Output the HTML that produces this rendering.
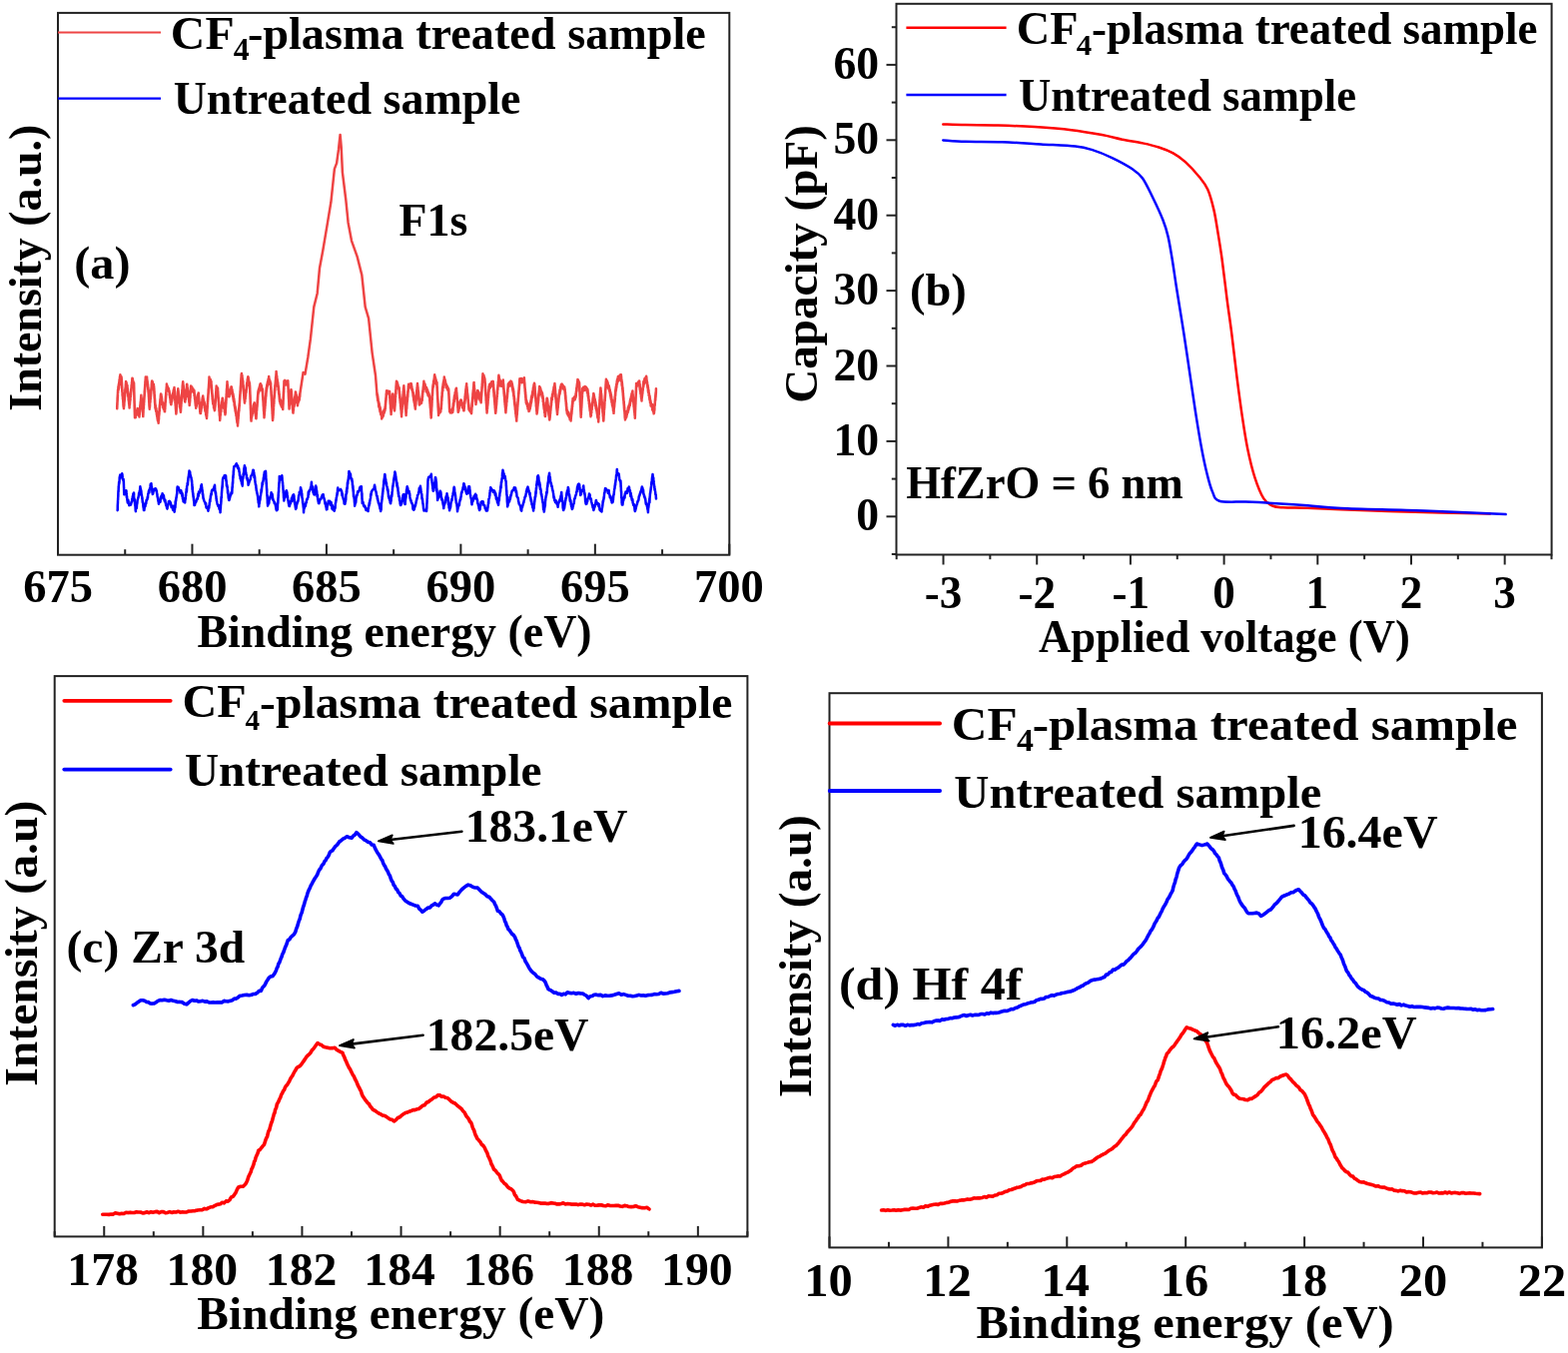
<!DOCTYPE html>
<html><head><meta charset="utf-8"><title>Figure</title>
<style>
html,body{margin:0;padding:0;background:#fff;overflow:hidden;}
svg{display:block;}
text{font-family:"Liberation Serif","Times New Roman",serif;font-weight:bold;fill:#000;}
</style></head>
<body>
<svg width="1570" height="1355" viewBox="0 0 1570 1355">
<rect width="1570" height="1355" fill="#fff"/>
<rect x="58.00" y="12.90" width="672.30" height="542.80" fill="none" stroke="#222" stroke-width="2"/>
<line x1="58.00" y1="555.70" x2="58.00" y2="544.70" stroke="#222" stroke-width="2" stroke-linecap="butt"/>
<line x1="192.46" y1="555.70" x2="192.46" y2="544.70" stroke="#222" stroke-width="2" stroke-linecap="butt"/>
<line x1="326.92" y1="555.70" x2="326.92" y2="544.70" stroke="#222" stroke-width="2" stroke-linecap="butt"/>
<line x1="461.38" y1="555.70" x2="461.38" y2="544.70" stroke="#222" stroke-width="2" stroke-linecap="butt"/>
<line x1="595.84" y1="555.70" x2="595.84" y2="544.70" stroke="#222" stroke-width="2" stroke-linecap="butt"/>
<line x1="730.30" y1="555.70" x2="730.30" y2="544.70" stroke="#222" stroke-width="2" stroke-linecap="butt"/>
<line x1="125.23" y1="555.70" x2="125.23" y2="550.20" stroke="#222" stroke-width="2" stroke-linecap="butt"/>
<line x1="259.69" y1="555.70" x2="259.69" y2="550.20" stroke="#222" stroke-width="2" stroke-linecap="butt"/>
<line x1="394.15" y1="555.70" x2="394.15" y2="550.20" stroke="#222" stroke-width="2" stroke-linecap="butt"/>
<line x1="528.61" y1="555.70" x2="528.61" y2="550.20" stroke="#222" stroke-width="2" stroke-linecap="butt"/>
<line x1="663.07" y1="555.70" x2="663.07" y2="550.20" stroke="#222" stroke-width="2" stroke-linecap="butt"/>
<line x1="58.00" y1="32.50" x2="161.00" y2="32.50" stroke="#ee4444" stroke-width="2.2" stroke-linecap="butt"/>
<line x1="58.00" y1="98.70" x2="161.00" y2="98.70" stroke="#0000ff" stroke-width="2.2" stroke-linecap="butt"/>
<text x="170.86" y="48.50" font-size="47.00" textLength="63.74" lengthAdjust="spacingAndGlyphs">CF</text>
<text x="233.86" y="60.40" font-size="31.00" textLength="15.85" lengthAdjust="spacingAndGlyphs">4</text>
<text x="247.89" y="48.50" font-size="47.00" textLength="459.01" lengthAdjust="spacingAndGlyphs">-plasma treated sample</text>
<text x="173.65" y="114.20" font-size="46.50" textLength="347.84" lengthAdjust="spacingAndGlyphs">Untreated sample</text>
<text x="399.52" y="236.30" font-size="47.00" textLength="68.78" lengthAdjust="spacingAndGlyphs">F1s</text>
<text x="74.27" y="279.20" font-size="46.40" textLength="56.35" lengthAdjust="spacingAndGlyphs">(a)</text>
<text transform="translate(41.00,410.20) rotate(-90)" x="-1.56" y="0" font-size="47.00" textLength="287.16" lengthAdjust="spacingAndGlyphs">Intensity (a.u.)</text>
<text x="23.17" y="602.60" font-size="46.30" textLength="69.80" lengthAdjust="spacingAndGlyphs">675</text>
<text x="157.65" y="602.60" font-size="46.30" textLength="69.80" lengthAdjust="spacingAndGlyphs">680</text>
<text x="292.09" y="602.60" font-size="46.30" textLength="69.80" lengthAdjust="spacingAndGlyphs">685</text>
<text x="426.57" y="602.60" font-size="46.30" textLength="69.80" lengthAdjust="spacingAndGlyphs">690</text>
<text x="561.01" y="602.60" font-size="46.30" textLength="69.80" lengthAdjust="spacingAndGlyphs">695</text>
<text x="694.96" y="602.60" font-size="46.30" textLength="69.80" lengthAdjust="spacingAndGlyphs">700</text>
<text x="197.42" y="648.30" font-size="45.50" textLength="395.19" lengthAdjust="spacingAndGlyphs">Binding energy (eV)</text>
<polyline points="117.20,407.09 117.24,409.35 117.28,405.41 117.32,408.03 117.36,403.51 117.40,405.61 117.43,403.19 117.47,405.58 117.51,401.31 117.55,403.05 117.59,398.53 117.63,402.04 117.67,397.39 117.71,400.62 117.75,396.31 117.79,398.59 117.83,394.89 117.87,398.46 117.90,393.65 117.94,396.80 117.98,391.95 118.02,394.13 118.06,390.36 118.10,393.66 118.21,389.77 118.32,391.23 118.43,387.33 118.54,390.62 118.65,386.19 118.76,389.95 118.87,384.79 118.98,388.62 119.09,383.96 119.20,386.99 119.30,382.46 119.41,385.83 119.52,380.26 119.63,382.89 119.74,380.20 119.85,381.70 119.96,377.28 120.07,380.69 120.18,376.49 120.29,379.03 120.40,375.30 120.80,379.12 121.20,376.85 121.60,380.74 121.64,377.78 121.69,382.78 121.73,379.05 121.77,384.27 121.82,380.19 121.86,385.83 121.91,381.97 121.95,385.78 121.99,383.08 122.04,388.69 122.08,384.45 122.12,389.42 122.17,386.25 122.21,390.21 122.26,387.48 122.30,392.32 122.36,389.91 122.43,392.82 122.49,390.30 122.56,395.93 122.62,393.12 122.68,397.01 122.75,393.96 122.81,397.25 122.88,395.59 122.94,399.80 123.00,395.96 123.07,399.90 123.13,397.86 123.20,401.33 123.26,399.09 123.32,403.27 123.39,400.22 123.45,405.88 123.52,402.33 123.58,407.34 123.64,404.11 123.71,407.08 123.77,405.00 123.84,408.43 123.90,407.16 123.96,409.11 124.03,404.98 124.09,407.22 124.16,404.58 124.22,407.09 124.29,402.66 124.35,405.82 124.42,400.17 124.48,403.34 124.55,399.53 124.61,402.16 124.68,397.77 124.74,400.87 124.81,396.50 124.87,399.49 124.94,394.37 125.00,397.85 125.06,393.87 125.13,396.81 125.19,392.79 125.26,394.62 125.32,390.02 125.39,393.59 125.45,389.37 125.52,391.23 125.58,388.18 125.65,390.84 125.71,387.47 125.78,389.47 125.84,384.93 125.91,387.03 125.97,383.51 126.04,386.34 126.10,381.98 126.36,386.08 126.62,383.25 126.88,388.10 127.14,385.82 127.40,388.19 127.48,385.99 127.56,391.24 127.64,388.17 127.71,391.72 127.79,388.96 127.87,392.88 127.95,390.78 128.03,394.28 128.11,392.18 128.19,396.20 128.26,393.71 128.34,397.21 128.42,394.26 128.50,397.98 128.58,396.04 128.66,400.68 128.74,397.92 128.81,401.15 128.89,398.42 128.97,402.59 129.05,400.95 129.13,404.35 129.21,401.43 129.29,405.15 129.36,403.52 129.44,406.98 129.52,404.00 129.60,408.58 129.68,403.96 129.75,406.68 129.83,403.49 129.91,406.14 129.98,401.08 130.06,404.37 130.13,400.87 130.21,402.36 130.29,398.91 130.36,401.07 130.44,396.99 130.52,400.84 130.59,396.72 130.67,398.41 130.74,394.17 130.82,397.66 130.90,392.76 130.97,395.71 131.05,392.58 131.13,394.21 131.20,389.96 131.28,392.76 131.36,389.37 131.43,391.61 131.51,387.82 131.58,390.19 131.66,385.50 131.74,388.32 131.81,385.76 131.89,388.34 131.97,382.76 132.04,387.01 132.12,382.16 132.19,385.53 132.27,379.85 132.35,382.79 132.42,378.77 132.50,382.50 132.73,378.96 132.96,383.41 133.19,381.12 133.41,384.57 133.64,382.72 133.87,385.56 134.10,383.55 134.12,387.41 134.14,384.56 134.16,388.38 134.18,385.80 134.20,390.98 134.22,387.18 134.24,392.76 134.26,388.63 134.28,393.59 134.30,391.66 134.32,395.31 134.33,392.79 134.35,395.91 134.37,393.30 134.39,397.73 134.41,395.17 134.43,399.90 134.45,396.22 134.47,400.23 134.49,398.29 134.51,402.59 134.53,399.29 134.55,403.85 134.57,400.94 134.59,404.20 134.61,402.02 134.63,406.74 134.65,404.09 134.67,408.11 134.69,404.14 134.71,409.55 134.73,405.73 134.75,409.51 134.77,407.50 134.78,412.48 134.80,409.96 134.82,412.82 134.84,410.98 134.86,414.69 134.88,412.11 134.90,416.01 134.92,412.88 134.94,416.56 134.96,415.61 134.98,418.20 135.00,416.89 135.26,418.10 135.52,413.95 135.78,418.14 136.04,414.16 136.30,416.09 136.56,412.35 136.82,414.35 137.08,410.88 137.34,413.56 137.60,409.05 137.87,413.07 138.14,411.23 138.41,414.46 138.69,412.81 138.96,416.33 139.23,413.19 139.50,417.47 139.57,414.36 139.65,415.68 139.72,412.41 139.79,415.03 139.87,410.24 139.94,413.20 140.01,408.78 140.08,412.22 140.16,408.03 140.23,410.34 140.30,406.49 140.38,409.52 140.45,405.20 140.52,408.08 140.60,403.71 140.67,405.84 140.74,402.15 140.82,405.24 140.89,401.57 140.96,403.32 141.03,399.50 141.11,402.73 141.18,397.15 141.25,400.38 141.33,395.80 141.40,399.72 141.48,396.96 141.56,400.57 141.64,398.66 141.72,402.64 141.80,399.12 141.88,404.22 141.95,400.32 142.03,405.26 142.11,401.87 142.19,406.51 142.27,404.46 142.35,408.00 142.43,406.08 142.51,408.63 142.59,406.12 142.67,409.89 142.75,408.81 142.83,411.44 142.90,408.81 142.98,413.02 143.06,411.81 143.14,415.67 143.22,413.08 143.30,417.12 143.35,412.09 143.40,415.69 143.45,410.17 143.50,413.82 143.55,409.05 143.59,411.42 143.64,407.70 143.69,410.88 143.74,406.38 143.79,408.74 143.84,404.91 143.89,408.83 143.94,404.76 143.99,406.32 144.04,402.43 144.08,405.82 144.13,401.61 144.18,403.24 144.23,400.19 144.28,402.62 144.33,397.87 144.38,400.81 144.43,397.16 144.48,399.41 144.53,395.78 144.57,398.04 144.62,394.86 144.67,396.78 144.72,391.84 144.77,395.21 144.82,390.84 144.87,393.35 144.92,389.53 144.97,393.02 145.02,388.16 145.06,391.18 145.11,387.09 145.16,390.00 145.21,384.93 145.26,387.69 145.31,384.98 145.36,387.38 145.41,382.08 145.46,385.55 145.51,381.54 145.55,384.51 145.60,380.60 145.65,382.28 145.70,379.17 145.75,381.45 145.80,377.55 146.45,380.45 147.10,377.56 147.19,382.83 147.29,379.72 147.38,383.82 147.48,380.94 147.57,385.52 147.66,382.06 147.76,385.89 147.85,384.17 147.95,386.88 148.04,385.12 148.14,388.97 148.23,387.12 148.32,390.37 148.42,388.28 148.51,392.55 148.61,390.04 148.70,394.38 148.74,390.86 148.79,395.10 148.83,392.32 148.87,396.97 148.92,393.11 148.96,397.90 149.00,395.17 149.05,399.63 149.09,395.92 149.13,400.48 149.18,397.58 149.22,402.94 149.27,399.50 149.31,403.04 149.35,401.35 149.40,405.36 149.44,401.99 149.48,407.24 149.53,403.10 149.57,407.37 149.61,405.74 149.66,408.83 149.70,407.18 149.77,409.65 149.84,404.54 149.91,408.59 149.98,404.22 150.05,407.11 150.12,402.70 150.19,404.89 150.26,400.53 150.32,402.86 150.39,400.27 150.46,402.81 150.53,398.49 150.60,400.52 150.67,396.55 150.74,399.68 150.81,396.17 150.88,397.65 150.95,393.98 151.02,396.51 151.09,392.97 151.16,395.27 151.23,390.20 151.30,393.50 151.37,389.53 151.44,391.59 151.51,388.60 151.57,391.17 151.64,387.48 151.71,390.15 151.78,384.62 151.85,387.30 151.92,383.14 151.99,386.39 152.06,382.03 152.13,385.67 152.20,381.48 152.47,385.54 152.74,382.29 153.01,387.23 153.29,384.45 153.56,388.60 153.83,384.64 154.10,389.90 154.15,386.86 154.20,390.31 154.25,388.36 154.30,392.17 154.35,389.37 154.40,394.18 154.45,391.07 154.50,394.70 154.55,392.35 154.60,396.94 154.65,394.62 154.70,398.84 154.75,395.18 154.80,398.87 154.85,396.10 154.90,400.32 154.95,398.61 155.00,402.80 155.05,399.55 155.10,403.92 155.15,400.88 155.20,405.17 155.25,402.92 155.30,406.08 155.35,404.78 155.40,408.48 155.54,404.94 155.68,409.56 155.82,406.36 155.96,410.62 156.10,408.61 156.23,412.05 156.37,408.90 156.51,412.82 156.65,410.96 156.79,414.59 156.93,411.87 157.07,416.17 157.21,414.06 157.35,417.65 157.49,415.07 157.63,419.71 157.77,416.80 157.90,421.24 158.04,418.63 158.18,421.59 158.32,420.05 158.46,422.69 158.60,420.20 158.66,423.80 158.73,419.87 158.79,421.41 158.86,418.04 158.92,421.01 158.98,415.90 159.05,419.61 159.11,414.90 159.18,417.10 159.24,413.84 159.31,415.78 159.37,412.20 159.43,415.05 159.50,411.38 159.56,413.06 159.63,408.92 159.69,411.25 159.75,407.47 159.82,411.40 159.88,405.79 159.95,409.07 160.01,405.10 160.07,408.02 160.14,403.54 160.20,407.33 160.27,402.04 160.33,404.69 160.39,400.31 160.46,403.61 160.52,399.37 160.59,402.64 160.65,399.05 160.72,401.31 160.78,396.44 160.84,399.40 160.91,395.28 160.97,397.93 161.04,394.47 161.10,396.64 161.21,394.74 161.32,397.97 161.43,395.02 161.53,399.26 161.64,396.55 161.75,401.58 161.86,397.34 161.97,401.46 162.07,398.90 162.18,403.73 162.29,401.64 162.40,404.64 162.64,402.70 162.87,405.52 163.11,403.54 163.35,408.47 163.58,405.33 163.82,409.76 164.05,406.06 164.29,409.82 164.53,407.16 164.76,412.07 165.00,408.43 165.06,412.27 165.11,407.35 165.17,410.17 165.22,405.80 165.28,409.82 165.34,404.28 165.39,407.49 165.45,403.05 165.50,406.16 165.56,402.80 165.61,403.93 165.67,401.44 165.73,402.79 165.78,399.86 165.84,401.91 165.89,397.46 165.95,400.56 166.01,396.54 166.06,399.34 166.12,395.33 166.17,397.58 166.23,393.08 166.29,396.04 166.34,392.71 166.40,395.52 166.45,390.30 166.51,393.13 166.56,389.52 166.62,392.00 166.68,387.68 166.73,390.02 166.79,387.34 166.84,388.57 166.90,384.49 167.21,388.38 167.53,386.36 167.84,389.75 168.15,388.09 168.46,390.98 168.78,389.01 169.09,392.25 169.40,390.97 169.51,393.49 169.61,392.12 169.72,395.59 169.82,393.73 169.93,396.15 170.03,394.44 170.14,398.26 170.24,395.38 170.35,399.02 170.46,397.34 170.56,401.06 170.67,399.44 170.77,403.51 170.88,400.50 170.98,403.33 171.09,401.45 171.19,404.87 171.30,402.59 171.45,405.21 171.59,402.10 171.74,403.29 171.88,399.61 172.03,402.30 172.17,398.11 172.32,401.26 172.46,396.46 172.61,399.57 172.75,396.31 172.90,398.11 173.05,393.89 173.19,397.38 173.34,393.36 173.48,395.02 173.63,391.35 173.77,395.22 173.92,390.12 174.06,392.07 174.21,389.76 174.35,390.84 174.50,388.11 174.56,390.76 174.61,389.75 174.67,393.31 174.72,389.64 174.78,393.92 174.84,390.94 174.89,395.85 174.95,392.68 175.00,398.08 175.06,393.86 175.11,397.90 175.17,396.44 175.23,400.38 175.28,396.70 175.34,400.86 175.39,399.32 175.45,403.68 175.51,401.08 175.56,404.27 175.62,402.11 175.67,406.23 175.73,402.45 175.79,406.74 175.84,404.23 175.90,409.18 175.95,405.48 176.01,410.28 176.06,406.75 176.12,411.37 176.18,409.11 176.23,412.55 176.29,409.87 176.34,414.44 176.40,412.23 176.46,413.87 176.52,409.97 176.58,413.23 176.64,408.55 176.70,411.39 176.76,407.52 176.82,409.53 176.88,405.68 176.93,407.85 176.99,404.68 177.05,407.75 177.11,402.86 177.17,405.11 177.23,402.23 177.29,405.03 177.35,400.05 177.41,403.66 177.47,398.19 177.53,401.44 177.59,396.71 177.65,400.52 177.71,396.30 177.77,398.42 177.83,395.34 177.88,397.04 177.94,392.29 178.00,395.06 178.06,391.56 178.12,393.64 178.18,391.01 178.24,393.18 178.30,389.28 178.39,392.07 178.48,390.85 178.57,394.56 178.66,391.47 178.75,394.82 178.84,393.52 178.93,397.96 179.02,394.95 179.11,398.63 179.20,395.99 179.29,400.44 179.38,397.06 179.47,401.86 179.56,398.59 179.64,402.17 179.73,400.65 179.82,403.38 179.91,400.88 180.00,404.85 180.09,403.75 180.18,407.81 180.27,404.83 180.36,409.09 180.45,406.45 180.54,409.71 180.63,407.60 180.72,411.78 180.81,408.30 180.90,412.85 180.96,408.03 181.02,411.85 181.07,407.37 181.13,409.95 181.19,405.77 181.25,407.63 181.31,403.64 181.36,407.10 181.42,402.27 181.48,404.98 181.54,401.35 181.59,404.03 181.65,399.59 181.71,401.91 181.77,398.87 181.83,401.24 181.88,397.96 181.94,399.94 182.00,395.33 182.06,398.29 182.12,394.07 182.17,397.21 182.23,393.45 182.29,395.33 182.35,390.61 182.41,393.88 182.46,390.22 182.52,392.01 182.58,389.19 182.64,390.74 182.69,386.48 182.75,390.35 182.81,385.17 182.87,389.41 182.93,384.23 182.98,387.89 183.04,382.95 183.10,385.54 183.19,382.21 183.28,387.86 183.36,383.64 183.45,388.53 183.54,385.39 183.63,389.82 183.72,386.42 183.80,392.18 183.89,389.13 183.98,393.64 184.07,390.76 184.16,393.55 184.24,391.21 184.33,395.34 184.42,393.01 184.51,397.40 184.60,395.32 184.68,399.02 184.77,396.32 184.86,399.89 184.95,397.63 185.04,401.88 185.12,398.33 185.21,402.49 185.30,400.93 185.39,402.50 185.47,398.93 185.56,400.65 185.65,397.95 185.73,400.45 185.82,395.51 185.90,399.40 185.99,393.56 186.08,397.77 186.16,393.21 186.25,395.02 186.34,391.88 186.42,394.13 186.51,390.04 186.60,392.83 186.68,388.90 186.77,391.95 186.85,387.59 186.94,389.79 187.03,385.05 187.11,388.97 187.20,384.68 187.30,387.93 187.40,385.17 187.50,388.93 187.60,387.83 187.70,391.30 187.80,388.51 187.90,392.06 188.00,390.82 188.10,393.56 188.20,390.93 188.30,395.45 188.40,391.98 188.50,397.46 188.60,393.40 188.70,397.52 188.80,396.27 188.90,398.90 189.00,397.24 189.10,400.91 189.20,399.36 189.30,402.72 189.40,400.70 189.50,403.71 189.60,401.85 189.70,406.03 189.80,402.96 189.86,405.03 189.92,402.19 189.98,403.89 190.04,399.69 190.10,402.90 190.15,397.72 190.21,401.69 190.27,397.49 190.33,399.02 190.39,395.11 190.45,398.77 190.51,394.12 190.57,397.40 190.63,392.60 190.69,394.95 190.75,391.85 190.80,393.02 190.86,389.54 190.92,393.18 190.98,387.62 191.04,390.95 191.10,386.61 191.63,391.60 192.17,387.41 192.70,392.08 193.23,389.20 193.77,392.99 194.30,390.71 194.39,393.64 194.48,391.22 194.57,396.56 194.66,392.92 194.75,396.94 194.84,394.72 194.93,398.47 195.02,395.35 195.11,399.92 195.20,396.51 195.30,400.82 195.39,399.13 195.48,402.94 195.57,400.40 195.66,404.99 195.75,401.09 195.84,406.58 195.93,402.93 196.02,406.39 196.11,404.45 196.20,408.78 196.35,404.62 196.49,406.87 196.64,402.79 196.79,406.59 196.94,402.47 197.08,404.73 197.23,400.56 197.38,403.02 197.52,398.18 197.67,402.41 197.82,397.22 197.96,399.59 198.11,395.29 198.26,398.14 198.41,394.85 198.55,397.90 198.70,393.54 198.77,396.89 198.85,393.82 198.92,399.54 198.99,396.40 199.07,399.97 199.14,397.90 199.21,400.93 199.28,399.39 199.36,403.90 199.43,401.13 199.50,403.97 199.58,402.34 199.65,405.12 199.72,403.18 199.80,407.76 199.87,404.04 199.94,408.99 200.02,405.51 200.09,409.28 200.16,407.91 200.23,412.45 200.31,409.73 200.38,412.62 200.45,410.41 200.53,414.05 200.60,411.73 200.72,413.67 200.84,410.89 200.95,413.92 201.07,409.66 201.19,412.43 201.31,408.20 201.43,411.19 201.55,405.89 201.66,409.16 201.78,405.46 201.90,406.68 202.02,402.94 202.14,405.50 202.25,402.57 202.37,405.28 202.49,399.93 202.61,402.47 202.73,398.37 202.85,401.95 202.96,398.02 203.08,399.77 203.20,396.61 203.34,401.39 203.48,398.23 203.62,401.25 203.76,399.90 203.90,402.67 204.04,400.95 204.19,405.52 204.33,402.87 204.47,405.63 204.61,402.72 204.75,408.52 204.89,404.07 205.03,408.57 205.17,406.63 205.31,411.28 205.45,407.81 205.59,412.25 205.73,409.55 205.87,412.43 206.01,410.91 206.16,415.18 206.30,411.54 206.44,416.27 206.58,413.54 206.72,417.64 206.86,415.00 207.00,419.05 207.05,414.30 207.09,417.04 207.14,413.34 207.19,416.98 207.24,411.48 207.28,414.21 207.33,409.87 207.38,414.01 207.42,409.91 207.47,411.56 207.52,408.45 207.57,409.78 207.61,405.64 207.66,409.02 207.71,404.43 207.75,407.09 207.80,404.59 207.85,407.06 207.90,401.77 207.94,405.88 207.99,400.57 208.04,403.64 208.08,399.03 208.13,401.45 208.18,398.04 208.23,400.68 208.27,397.35 208.32,399.57 208.37,395.63 208.42,398.00 208.46,394.14 208.51,396.26 208.56,392.77 208.60,395.37 208.65,390.24 208.70,394.58 208.75,389.05 208.79,393.00 208.84,388.70 208.89,391.86 208.93,387.33 208.98,388.90 209.03,385.51 209.08,388.61 209.12,384.40 209.17,387.05 209.22,383.11 209.26,386.24 209.31,381.40 209.36,383.95 209.41,379.85 209.45,383.27 209.50,377.62 210.10,382.58 210.70,379.88 211.30,384.00 211.36,381.90 211.43,385.06 211.49,381.89 211.55,387.11 211.62,384.73 211.68,388.66 211.74,385.54 211.81,390.29 211.87,386.98 211.93,390.30 212.00,388.06 212.06,392.93 212.12,389.68 212.19,394.31 212.25,390.58 212.31,394.79 212.38,392.73 212.44,396.46 212.50,393.96 212.57,397.62 212.63,394.90 212.69,399.95 212.76,396.43 212.82,400.03 212.88,398.50 212.95,401.84 213.01,399.19 213.07,402.83 213.14,401.57 213.20,404.56 213.41,402.62 213.62,405.46 213.83,403.57 214.04,408.50 214.26,405.00 214.47,409.59 214.68,405.89 214.89,411.19 215.10,407.16 215.15,410.48 215.20,406.18 215.25,408.50 215.31,404.42 215.36,407.57 215.41,403.75 215.46,407.10 215.51,402.70 215.56,404.43 215.62,400.32 215.67,403.77 215.72,400.27 215.77,401.33 215.82,398.38 215.87,399.89 215.93,396.10 215.98,398.81 216.03,395.72 216.08,397.79 216.13,393.89 216.18,396.47 216.24,392.28 216.29,395.48 216.34,391.23 216.39,393.06 216.44,388.84 216.49,392.74 216.55,389.07 216.60,390.88 216.65,386.45 216.70,390.49 217.02,387.65 217.35,390.00 217.68,388.20 218.00,392.05 218.06,388.79 218.11,394.19 218.16,391.22 218.22,394.85 218.28,392.17 218.33,397.10 218.38,394.27 218.44,397.61 218.50,395.88 218.55,399.47 218.60,397.40 218.66,401.41 218.72,397.90 218.77,402.16 218.82,400.10 218.88,402.94 218.94,400.81 218.99,405.49 219.04,402.09 219.10,405.85 219.16,402.69 219.21,407.94 219.26,404.92 219.32,408.51 219.38,406.74 219.43,411.18 219.48,408.45 219.54,411.92 219.59,408.96 219.65,413.00 219.70,410.10 219.76,415.42 219.81,411.34 219.87,416.51 219.92,413.94 219.98,416.68 220.03,414.92 220.09,418.54 220.14,416.76 220.20,420.97 220.30,416.71 220.39,419.45 220.49,413.97 220.58,416.74 220.68,412.58 220.78,415.81 220.87,412.43 220.97,414.00 221.07,411.31 221.16,413.13 221.26,409.25 221.35,412.35 221.45,407.00 221.55,409.47 221.64,406.36 221.74,408.64 221.83,405.34 221.93,406.96 222.03,403.75 222.12,406.34 222.22,402.18 222.32,403.84 222.41,400.96 222.51,403.02 222.60,398.91 222.70,401.23 222.85,398.66 223.01,402.59 223.16,400.13 223.31,404.73 223.46,402.45 223.62,406.41 223.77,403.48 223.92,407.45 224.07,404.53 224.23,409.03 224.38,406.23 224.53,409.41 224.68,407.03 224.84,412.29 224.99,408.99 225.14,413.20 225.29,410.81 225.45,415.21 225.60,411.47 225.65,413.98 225.69,409.83 225.74,413.97 225.78,409.28 225.83,412.58 225.87,407.63 225.92,409.69 225.96,405.80 226.01,408.58 226.05,404.36 226.10,407.62 226.14,404.10 226.19,406.11 226.23,401.34 226.28,404.61 226.32,400.50 226.37,403.91 226.41,399.26 226.46,401.83 226.50,397.61 226.55,401.03 226.60,396.90 226.64,398.30 226.69,394.48 226.73,397.73 226.78,393.91 226.82,396.94 226.87,391.44 226.91,394.90 226.96,389.85 227.00,394.03 227.05,388.88 227.09,391.63 227.14,388.82 227.18,390.93 227.23,386.10 227.27,388.93 227.32,385.16 227.36,387.92 227.41,384.17 227.45,386.75 227.50,382.20 227.59,386.20 227.69,384.46 227.78,387.94 227.88,385.51 227.97,389.69 228.06,387.21 228.16,390.52 228.25,388.60 228.35,391.98 228.44,389.35 228.54,392.87 228.63,391.73 228.72,394.99 228.82,392.90 228.91,396.46 229.01,394.40 229.10,397.16 229.36,393.74 229.62,397.26 229.88,391.74 230.14,395.12 230.40,391.20 230.66,392.90 230.92,390.02 231.18,391.95 231.44,387.41 231.70,390.19 231.86,387.41 232.01,392.29 232.17,389.79 232.32,393.33 232.48,390.26 232.64,394.63 232.79,392.41 232.95,396.66 233.11,394.53 233.26,397.57 233.42,394.53 233.57,400.04 233.73,396.43 233.89,401.69 234.04,399.02 234.20,402.76 234.31,399.25 234.42,403.28 234.54,401.17 234.65,406.03 234.76,402.80 234.87,407.03 234.98,404.48 235.09,408.25 235.21,405.68 235.32,409.35 235.43,406.88 235.54,411.39 235.65,407.59 235.76,412.12 235.88,409.08 235.99,413.36 236.10,410.26 236.21,414.44 236.32,412.12 236.44,416.43 236.55,413.79 236.66,416.84 236.77,415.58 236.88,419.30 236.99,416.89 237.11,420.91 237.22,417.74 237.33,422.65 237.44,418.51 237.55,423.63 237.66,420.76 237.78,423.77 237.89,421.81 238.00,426.44 238.06,421.14 238.13,424.04 238.19,421.12 238.25,424.05 238.32,418.66 238.38,421.74 238.44,417.25 238.51,419.73 238.57,416.20 238.63,419.26 238.70,414.68 238.76,416.93 238.82,414.13 238.89,416.37 238.95,411.36 239.01,414.08 239.08,411.55 239.14,412.57 239.20,408.73 239.27,411.72 239.33,407.92 239.39,411.42 239.46,406.23 239.52,408.68 239.58,404.66 239.65,406.80 239.71,404.02 239.77,406.66 239.84,402.81 239.90,404.04 239.95,400.77 240.00,403.17 240.04,398.54 240.09,401.35 240.14,397.45 240.19,400.47 240.23,396.04 240.28,399.17 240.33,394.88 240.38,397.55 240.42,394.28 240.47,396.37 240.52,391.83 240.56,394.77 240.61,391.46 240.66,393.50 240.71,390.30 240.75,391.91 240.80,388.03 240.85,390.92 240.90,386.58 240.95,389.05 240.99,386.22 241.04,387.17 241.09,384.24 241.14,386.07 241.18,382.42 241.23,384.79 241.28,380.66 241.33,384.00 241.37,379.44 241.42,382.84 241.47,378.29 241.52,380.87 241.56,377.27 241.61,378.80 241.66,374.98 241.71,378.20 241.75,374.84 241.80,377.57 241.93,373.96 242.06,378.41 242.19,375.62 242.32,378.91 242.45,376.00 242.58,380.39 242.71,378.55 242.84,383.30 242.97,380.40 243.10,383.79 243.17,381.15 243.23,384.74 243.30,381.76 243.36,386.46 243.43,384.83 243.49,387.98 243.56,386.26 243.62,389.82 243.69,386.10 243.76,391.60 243.82,389.01 243.89,392.59 243.95,389.96 244.02,393.64 244.08,391.38 244.15,394.75 244.21,393.10 244.28,396.74 244.34,394.59 244.41,398.77 244.48,396.09 244.54,400.19 244.61,397.23 244.67,400.00 244.74,397.64 244.80,402.23 244.87,399.01 244.93,403.60 245.00,400.67 245.09,402.84 245.18,399.21 245.27,402.23 245.37,397.29 245.46,399.92 245.55,397.53 245.64,399.75 245.73,394.58 245.82,397.90 245.91,393.58 246.01,396.76 246.10,392.78 246.19,395.20 246.28,391.01 246.37,393.02 246.46,390.16 246.55,392.92 246.65,388.85 246.74,391.05 246.83,387.47 246.92,389.45 247.01,385.36 247.10,388.76 247.19,383.42 247.29,386.89 247.38,383.40 247.47,385.25 247.56,382.27 247.65,383.68 247.74,379.93 247.83,382.97 247.93,379.16 248.02,380.80 248.11,378.04 248.20,379.41 248.36,377.31 248.52,380.94 248.67,378.01 248.83,382.91 248.99,380.40 249.15,384.06 249.31,382.35 249.47,386.01 249.62,382.45 249.78,386.74 249.94,383.90 250.10,387.98 250.13,386.23 250.16,389.31 250.18,387.68 250.21,391.41 250.24,388.28 250.27,393.04 250.29,390.68 250.32,394.53 250.35,391.41 250.38,395.23 250.40,392.77 250.43,396.74 250.46,394.74 250.49,398.09 250.51,395.34 250.54,400.08 250.57,396.26 250.60,400.55 250.63,397.72 250.65,403.06 250.68,399.46 250.71,404.80 250.74,401.92 250.76,405.85 250.79,401.94 250.82,406.07 250.85,403.91 250.87,408.98 250.90,405.87 250.93,410.23 250.96,406.17 250.99,410.88 251.01,408.97 251.04,411.89 251.07,409.13 251.10,413.68 251.12,411.48 251.15,415.13 251.18,411.78 251.21,416.20 251.23,414.85 251.26,418.88 251.29,415.72 251.32,419.26 251.34,415.93 251.37,420.49 251.40,418.96 251.55,421.60 251.69,417.28 251.84,418.98 251.98,414.61 252.13,417.60 252.27,413.28 252.42,416.39 252.56,412.97 252.71,414.77 252.85,411.13 253.00,414.00 253.15,410.00 253.29,412.50 253.44,408.78 253.58,411.70 253.73,406.22 253.87,410.15 254.02,405.03 254.16,407.51 254.31,404.66 254.45,406.35 254.60,403.44 254.70,407.75 254.80,403.48 254.90,409.06 255.00,405.53 255.10,409.02 255.20,407.17 255.30,410.32 255.40,407.72 255.50,412.11 255.60,410.25 255.70,414.76 255.80,411.82 255.90,416.13 256.00,413.03 256.10,417.07 256.20,414.81 256.30,418.90 256.40,415.69 256.50,419.31 256.56,415.22 256.61,418.34 256.67,414.53 256.72,416.06 256.78,412.51 256.84,414.45 256.89,410.55 256.95,413.61 257.00,410.41 257.06,412.16 257.11,409.08 257.17,410.72 257.23,406.88 257.28,409.46 257.34,405.84 257.39,407.82 257.45,404.13 257.51,407.29 257.56,402.80 257.62,405.84 257.67,401.29 257.73,403.24 257.79,400.44 257.84,403.14 257.90,398.45 257.95,400.87 258.01,396.96 258.06,400.29 258.12,395.80 258.18,397.99 258.23,394.39 258.29,395.92 258.34,392.64 258.40,395.35 258.58,391.32 258.77,393.90 258.95,389.96 259.13,392.98 259.32,389.08 259.50,392.07 259.68,387.81 259.87,390.46 260.05,386.30 260.23,388.93 260.42,384.75 260.60,386.22 260.86,384.26 261.11,389.05 261.37,385.15 261.62,390.56 261.88,386.35 262.13,390.51 262.39,388.89 262.64,392.05 262.90,389.65 262.95,394.11 262.99,391.09 263.04,396.16 263.08,392.05 263.13,397.37 263.17,393.70 263.22,398.56 263.27,396.56 263.31,400.60 263.36,397.97 263.40,400.56 263.45,398.05 263.49,402.34 263.54,399.77 263.59,403.30 263.63,402.02 263.68,405.98 263.72,403.76 263.77,407.03 263.81,403.54 263.86,407.91 263.91,405.39 263.95,410.30 264.00,406.97 264.04,411.76 264.09,408.25 264.13,411.81 264.18,410.59 264.23,414.19 264.27,410.60 264.32,415.03 264.36,412.72 264.41,416.29 264.45,413.67 264.50,418.29 264.56,414.26 264.62,417.28 264.68,413.55 264.74,415.97 264.80,410.92 264.86,414.80 264.92,410.45 264.98,412.24 265.04,409.25 265.09,412.04 265.15,407.33 265.21,409.69 265.27,405.77 265.33,408.84 265.39,404.72 265.45,406.76 265.51,402.49 265.57,406.15 265.63,401.93 265.69,403.45 265.75,399.36 265.81,403.23 265.87,398.55 265.93,401.22 265.99,396.47 266.05,399.85 266.11,396.41 266.16,397.84 266.22,394.75 266.28,397.33 266.34,393.31 266.40,396.54 266.46,391.37 266.52,394.24 266.58,389.93 266.64,393.08 266.70,388.60 266.86,391.46 267.01,387.32 267.17,390.00 267.32,385.31 267.48,388.00 267.64,383.94 267.79,386.75 267.95,382.38 268.11,384.89 268.26,381.59 268.42,384.11 268.57,379.72 268.73,382.22 268.89,379.09 269.04,380.65 269.20,377.10 269.41,381.45 269.62,379.56 269.83,382.17 270.04,380.65 270.26,385.03 270.47,381.63 270.68,385.76 270.89,383.37 271.10,387.38 271.14,383.84 271.18,388.81 271.22,386.73 271.26,389.80 271.30,387.25 271.34,390.49 271.39,388.11 271.43,392.39 271.47,390.42 271.51,394.36 271.55,391.30 271.59,395.53 271.63,392.21 271.67,396.98 271.71,394.56 271.75,397.56 271.79,395.58 271.83,399.52 271.88,397.02 271.92,400.89 271.96,399.39 272.00,401.74 272.04,400.53 272.08,403.25 272.12,400.67 272.16,405.54 272.20,403.20 272.24,407.19 272.28,403.88 272.32,407.42 272.37,405.08 272.41,409.13 272.45,406.04 272.49,410.38 272.53,408.74 272.57,411.98 272.61,409.10 272.65,414.42 272.69,411.02 272.73,414.61 272.77,412.71 272.81,417.03 272.86,414.79 272.90,418.84 272.94,414.77 272.98,420.26 273.02,416.44 273.06,421.10 273.10,417.35 273.15,420.46 273.20,417.15 273.25,418.79 273.29,415.97 273.34,418.61 273.39,414.72 273.44,417.10 273.49,412.76 273.54,415.93 273.59,410.69 273.64,414.17 273.68,409.12 273.73,411.59 273.78,408.77 273.83,410.77 273.88,407.06 273.93,409.91 273.98,404.83 274.03,408.63 274.07,403.33 274.12,407.14 274.17,402.96 274.22,405.39 274.27,400.83 274.32,404.53 274.37,400.11 274.42,402.29 274.46,398.26 274.51,400.65 274.56,396.36 274.61,398.82 274.66,395.38 274.71,398.29 274.76,394.79 274.81,397.04 274.85,392.87 274.90,396.34 274.95,390.72 275.00,394.25 275.06,389.32 275.13,393.36 275.19,389.17 275.26,391.82 275.32,386.52 275.38,390.69 275.45,385.23 275.51,388.17 275.58,384.80 275.64,387.21 275.70,383.36 275.77,385.97 275.83,381.27 275.90,384.66 275.96,380.23 276.02,382.28 276.09,377.80 276.15,381.50 276.22,377.33 276.28,379.88 276.34,375.79 276.41,378.60 276.47,374.21 276.54,376.52 276.60,371.94 276.70,377.59 276.81,373.74 276.91,377.89 277.02,376.17 277.12,380.11 277.23,376.42 277.33,381.37 277.44,378.93 277.54,382.89 277.65,379.77 277.75,383.66 277.86,381.05 277.96,385.20 278.07,382.34 278.17,387.15 278.28,383.13 278.38,387.38 278.49,385.28 278.59,390.30 278.70,386.52 278.80,391.03 278.88,387.59 278.96,391.47 279.04,389.13 279.12,393.99 279.21,390.95 279.29,394.86 279.37,392.32 279.45,395.96 279.53,393.93 279.61,397.64 279.69,394.63 279.78,400.07 279.86,396.90 279.94,401.42 280.02,398.50 280.10,402.43 280.38,400.32 280.66,404.42 280.95,400.60 281.23,405.63 281.51,403.22 281.79,407.12 282.07,404.73 282.35,408.04 282.64,405.25 282.92,408.50 283.20,406.75 283.24,409.98 283.27,404.96 283.31,407.52 283.35,403.19 283.39,406.17 283.42,401.62 283.46,404.83 283.50,401.69 283.53,404.45 283.57,400.28 283.61,401.71 283.65,397.58 283.68,400.04 283.72,396.57 283.76,399.97 283.79,395.06 283.83,397.62 283.87,393.33 283.91,397.07 283.94,392.24 283.98,395.28 284.02,391.28 284.05,393.46 284.09,388.64 284.13,393.06 284.17,389.02 284.20,390.23 284.24,387.19 284.28,389.89 284.31,385.81 284.35,387.33 284.39,383.36 284.43,385.91 284.46,381.55 284.50,385.01 285.26,380.86 286.02,385.43 286.78,381.88 287.54,385.13 288.30,381.26 288.34,384.69 288.37,383.35 288.41,386.98 288.44,383.83 288.48,387.67 288.52,384.75 288.55,388.90 288.59,386.88 288.62,390.11 288.66,388.47 288.70,392.98 288.73,389.61 288.77,393.07 288.81,391.51 288.84,395.38 288.88,392.85 288.91,397.24 288.95,394.66 288.99,398.62 289.02,395.05 289.06,399.95 289.09,396.96 289.13,400.00 289.17,398.71 289.20,402.43 289.24,400.39 289.28,402.91 289.31,400.43 289.35,405.72 289.38,401.71 289.42,407.06 289.46,403.68 289.49,408.55 289.53,404.83 289.56,409.39 289.60,406.75 289.68,408.41 289.75,405.93 289.83,407.40 289.90,403.83 289.98,405.74 290.06,401.48 290.13,405.15 290.21,400.48 290.28,404.30 290.36,399.99 290.44,402.86 290.51,397.23 290.59,400.31 290.66,397.32 290.74,399.86 290.82,394.51 290.89,398.43 290.97,393.96 291.04,396.65 291.12,393.07 291.20,394.55 291.27,391.09 291.35,394.06 291.42,390.27 291.50,392.97 291.56,390.37 291.62,394.44 291.68,391.39 291.75,395.57 291.81,391.73 291.87,397.22 291.93,393.76 291.99,398.15 292.05,395.49 292.11,399.80 292.17,397.22 292.24,401.29 292.30,397.74 292.36,401.19 292.42,398.51 292.48,403.06 292.54,401.50 292.60,404.35 292.66,402.97 292.73,405.79 292.79,403.13 292.85,408.48 292.91,404.67 292.97,409.63 293.03,405.72 293.09,410.78 293.15,407.92 293.22,411.34 293.28,409.74 293.34,413.28 293.40,411.05 293.50,413.61 293.61,409.40 293.71,411.89 293.82,407.56 293.92,410.54 294.02,406.84 294.13,408.43 294.23,404.44 294.34,406.92 294.44,403.04 294.54,406.86 294.65,402.12 294.75,405.42 294.86,400.28 294.96,403.96 295.06,399.01 295.17,402.18 295.27,397.29 295.38,399.73 295.48,396.16 295.58,399.00 295.69,394.82 295.79,397.71 295.90,392.58 296.00,396.53 296.14,392.77 296.27,396.80 296.41,394.43 296.54,399.14 296.68,395.46 296.81,399.46 296.95,398.31 297.09,402.68 297.22,399.40 297.36,403.65 297.49,400.46 297.63,404.55 297.76,402.19 297.90,406.30 298.09,401.24 298.28,404.88 298.48,400.23 298.67,403.09 298.86,399.00 299.05,402.27 299.25,397.57 299.44,401.40 299.63,397.41 299.82,400.19 300.02,395.08 300.21,397.54 300.40,393.97 303.60,373.00 305.50,374.60 308.30,358.00 310.90,339.40 314.30,307.40 317.70,293.70 320.00,268.60 323.40,250.30 328.00,222.90 331.40,202.30 334.90,169.10 337.10,163.40 339.00,149.70 340.60,134.90 341.70,147.40 342.90,172.60 346.30,200.00 348.60,222.90 352.00,241.10 357.70,257.10 362.30,275.40 365.70,307.40 369.10,318.90 372.60,353.10 376.00,376.00 377.30,392.49 377.43,395.39 377.55,393.64 377.68,396.92 377.81,395.68 377.93,398.81 378.06,395.57 378.19,400.98 378.31,397.29 378.44,401.36 378.57,399.14 378.69,402.90 378.82,401.25 378.95,404.03 379.07,402.61 379.20,406.97 379.37,402.92 379.54,408.16 379.71,404.38 379.87,408.45 380.04,406.68 380.21,410.65 380.38,407.32 380.55,412.48 380.72,408.47 380.88,412.49 381.05,410.38 381.22,414.97 381.39,411.97 381.56,415.48 381.73,413.44 381.89,416.73 382.06,414.01 382.23,419.55 382.40,416.12 382.67,418.53 382.93,414.08 383.20,417.65 383.47,412.75 383.73,416.77 384.00,412.04 384.27,414.59 384.53,410.50 384.80,413.24 385.07,409.91 385.33,411.63 385.60,407.34 385.66,409.74 385.73,407.30 385.79,409.37 385.85,405.44 385.91,407.77 385.98,403.66 386.04,405.99 386.10,401.27 386.16,404.29 386.23,400.90 386.29,402.87 386.35,399.07 386.41,401.57 386.48,398.14 386.54,400.99 386.60,396.77 386.66,399.21 386.73,394.27 386.79,396.95 386.85,394.37 386.91,395.75 386.98,391.66 387.04,395.02 387.10,391.19 387.83,393.93 388.55,391.60 389.27,394.47 390.00,392.14 390.06,395.76 390.11,392.00 390.17,397.64 390.22,393.71 390.28,399.06 390.33,396.43 390.39,399.25 390.44,396.12 390.50,401.55 390.55,398.54 390.61,403.27 390.66,399.57 390.72,404.46 390.77,401.58 390.83,404.73 390.88,402.72 390.94,406.05 390.99,404.25 391.05,408.96 391.10,405.75 391.16,408.64 391.21,407.69 391.27,410.35 391.32,407.76 391.38,412.11 391.43,410.07 391.49,413.04 391.54,410.23 391.60,415.05 391.66,411.63 391.72,412.96 391.78,410.47 391.85,411.73 391.91,407.91 391.97,410.26 392.03,407.64 392.09,409.45 392.15,405.83 392.22,408.94 392.28,404.63 392.34,406.66 392.40,402.01 392.46,405.01 392.52,400.19 392.58,403.70 392.65,400.12 392.71,402.15 392.77,399.06 392.83,400.74 392.89,397.24 392.95,400.16 393.02,394.75 393.08,398.02 393.14,394.78 393.20,396.14 393.29,394.38 393.38,397.46 393.47,395.80 393.56,400.06 393.65,397.36 393.74,399.97 393.83,397.33 393.92,402.31 394.01,398.62 394.10,403.41 394.20,400.18 394.29,405.27 394.38,401.78 394.47,406.84 394.56,403.72 394.65,407.05 394.74,405.64 394.83,409.87 394.92,405.78 395.01,411.36 395.10,408.21 395.15,410.87 395.20,405.95 395.25,409.43 395.31,404.50 395.36,407.80 395.41,403.38 395.46,406.67 395.51,402.67 395.56,405.69 395.61,400.00 395.66,402.73 395.72,398.56 395.77,402.93 395.82,397.69 395.87,399.84 395.92,395.85 395.97,398.57 396.02,394.31 396.08,398.14 396.13,394.55 396.18,395.81 396.23,392.09 396.28,395.13 396.33,390.47 396.38,394.37 396.44,390.01 396.49,391.27 396.54,387.31 396.59,389.87 396.64,385.98 396.69,388.64 396.74,384.69 396.79,388.44 396.85,383.15 396.90,386.60 396.95,381.73 397.00,384.55 397.29,382.11 397.58,386.20 397.87,383.13 398.16,388.43 398.44,385.32 398.73,389.40 399.02,387.55 399.31,389.93 399.60,387.94 399.67,392.18 399.74,388.87 399.81,393.83 399.89,391.62 399.96,394.81 400.03,391.91 400.10,396.53 400.17,394.72 400.24,398.53 400.31,394.66 400.39,398.59 400.46,396.60 400.53,400.56 400.60,397.59 400.67,401.86 400.74,400.02 400.81,403.61 400.89,400.12 400.96,404.32 401.03,403.10 401.10,406.71 401.17,403.12 401.24,407.94 401.31,405.37 401.39,410.00 401.46,406.18 401.53,409.99 401.60,407.42 401.67,411.65 401.74,409.90 401.81,414.25 401.89,411.11 401.96,415.60 402.03,413.00 402.10,417.17 402.16,412.99 402.22,414.44 402.27,411.00 402.33,413.36 402.39,409.49 402.45,412.98 402.51,407.77 402.56,409.93 402.62,407.08 402.68,409.49 402.74,405.35 402.79,408.39 402.85,403.94 402.91,405.81 402.97,402.95 403.03,405.80 403.08,401.34 403.14,404.23 403.20,398.78 403.26,402.56 403.32,397.92 403.37,401.12 403.43,397.17 403.49,400.25 403.55,395.47 403.61,398.83 403.66,394.35 403.72,397.34 403.78,392.06 403.84,395.46 403.89,391.27 403.95,393.18 404.01,389.26 404.07,392.17 404.13,388.04 404.18,390.34 404.24,387.68 404.30,388.94 404.36,386.36 404.43,390.43 404.49,387.61 404.56,392.20 404.62,389.63 404.68,393.58 404.75,390.97 404.81,394.54 404.88,392.79 404.94,397.49 405.00,394.62 405.07,398.40 405.13,395.77 405.19,399.18 405.26,397.74 405.32,400.09 405.39,397.48 405.45,402.99 405.51,399.17 405.58,404.37 405.64,400.32 405.71,404.61 405.77,402.41 405.83,406.65 405.90,403.85 405.96,408.88 406.03,404.94 406.09,410.35 406.15,407.53 406.22,411.20 406.28,407.94 406.34,412.79 406.41,409.46 406.47,414.37 406.54,411.46 406.60,415.97 406.66,411.28 406.73,413.96 406.79,408.97 406.86,412.74 406.92,408.63 406.98,410.47 407.05,407.19 407.11,409.78 407.18,404.56 407.24,408.86 407.31,404.24 407.37,406.55 407.43,402.07 407.50,404.92 407.56,401.39 407.63,403.02 407.69,400.40 407.75,402.57 407.82,398.06 407.88,401.30 407.95,397.25 408.01,400.50 408.07,395.37 408.14,397.64 408.20,394.97 408.27,397.72 408.33,391.88 408.39,396.21 408.46,391.17 408.52,393.69 408.59,390.69 408.65,392.19 408.72,389.05 408.78,392.00 408.84,386.42 408.91,390.31 408.97,386.36 409.04,387.92 409.10,384.68 409.87,388.27 410.63,384.46 411.40,387.52 411.58,383.98 411.77,388.48 411.95,384.87 412.13,389.36 412.32,387.07 412.50,390.57 412.68,389.24 412.87,391.74 413.05,390.24 413.23,393.30 413.42,392.11 413.60,396.29 413.70,393.09 413.81,397.49 413.91,393.73 414.02,398.59 414.12,395.20 414.23,400.39 414.33,396.19 414.44,401.35 414.54,398.16 414.65,402.70 414.75,399.25 414.86,403.83 414.96,401.04 415.07,404.49 415.17,401.81 415.28,406.49 415.38,404.62 415.49,407.30 415.59,404.54 415.70,408.85 415.80,406.81 415.87,409.62 415.94,404.56 416.01,407.59 416.07,404.03 416.14,406.37 416.21,403.29 416.28,405.80 416.35,401.91 416.42,404.56 416.49,400.27 416.56,401.70 416.62,397.61 416.69,401.52 416.76,397.34 416.83,399.63 416.90,395.50 416.97,398.54 417.04,394.64 417.11,397.34 417.18,391.77 417.24,395.73 417.31,390.51 417.38,394.76 417.45,390.10 417.52,393.20 417.59,387.88 417.66,391.33 417.73,387.81 417.79,390.00 417.86,384.95 417.93,388.03 418.00,384.04 418.08,389.12 418.15,385.55 418.23,388.98 418.31,386.92 418.38,390.80 418.46,387.93 418.54,392.97 418.62,390.35 418.69,394.81 418.77,391.20 418.85,395.22 418.92,392.24 419.00,397.65 419.08,393.56 419.15,399.06 419.23,395.41 419.31,400.15 419.38,396.93 419.46,401.26 419.54,397.65 419.62,402.36 419.69,400.73 419.77,404.44 419.85,401.39 419.92,405.56 420.00,402.63 420.42,405.10 420.83,402.09 421.25,403.51 421.67,399.76 422.08,403.77 422.50,398.65 422.58,401.00 422.66,396.75 422.74,400.90 422.82,396.21 422.90,398.00 422.98,394.21 423.05,397.74 423.13,393.22 423.21,395.25 423.29,391.63 423.37,393.89 423.45,390.70 423.53,392.70 423.61,389.52 423.69,392.66 423.77,387.42 423.85,391.14 423.92,386.85 424.00,388.97 424.08,384.90 424.16,386.93 424.24,383.86 424.32,387.25 424.40,381.85 424.66,387.00 424.92,383.98 425.18,387.99 425.44,384.38 425.70,389.31 425.96,386.32 426.22,389.65 426.48,388.39 426.74,392.24 427.00,388.02 427.31,392.41 427.62,389.60 427.93,393.91 428.24,391.10 428.55,395.96 428.86,392.92 429.17,396.82 429.48,394.29 429.79,397.88 430.10,395.97 430.16,398.77 430.21,396.92 430.27,401.38 430.33,398.62 430.39,402.51 430.44,400.13 430.50,404.35 430.56,401.40 430.61,404.14 430.67,402.74 430.73,407.10 430.79,403.33 430.84,408.44 430.90,405.06 430.96,408.45 431.01,406.77 431.07,410.49 431.13,407.01 431.19,411.39 431.24,409.79 431.30,414.04 431.36,411.45 431.41,415.69 431.47,412.54 431.53,416.38 431.59,413.30 431.64,418.42 431.70,415.78 431.74,418.32 431.78,414.18 431.82,416.67 431.86,413.05 431.91,415.35 431.95,411.36 431.99,412.92 432.03,410.22 432.07,411.72 432.11,408.27 432.15,411.51 432.19,406.35 432.23,408.98 432.27,404.25 432.32,407.22 432.36,404.25 432.40,407.23 432.44,401.50 432.48,405.33 432.52,400.04 432.56,402.78 432.60,398.76 432.64,402.54 432.68,397.78 432.73,401.39 432.77,397.40 432.81,398.80 432.85,395.93 432.89,397.90 432.93,393.77 432.97,396.60 433.01,392.70 433.05,395.56 433.09,390.42 433.14,394.18 433.18,390.47 433.22,391.67 433.26,388.73 433.30,390.41 433.41,386.66 433.52,388.90 433.64,385.13 433.75,387.74 433.86,384.17 433.97,386.96 434.08,381.68 434.19,384.59 434.31,381.33 434.42,384.59 434.53,380.14 434.64,381.42 434.75,378.74 434.86,381.44 434.98,376.32 435.09,380.21 435.20,375.31 435.39,378.55 435.58,377.05 435.77,381.16 435.97,378.27 436.16,381.49 436.35,379.69 436.54,383.47 436.73,381.11 436.93,384.82 437.12,382.89 437.31,385.44 437.50,383.09 437.54,388.12 437.58,385.16 437.62,388.40 437.66,386.79 437.70,390.61 437.73,387.11 437.77,391.87 437.81,388.37 437.85,393.36 437.89,391.21 437.93,394.93 437.97,391.86 438.01,396.30 438.05,393.04 438.09,396.66 438.12,394.96 438.16,399.48 438.20,396.91 438.24,399.50 438.28,398.24 438.32,401.35 438.36,399.18 438.40,402.81 438.44,400.22 438.48,403.95 438.51,402.15 438.55,406.28 438.59,403.20 438.63,408.20 438.67,403.89 438.71,408.33 438.75,406.39 438.79,410.24 438.83,407.41 438.87,411.33 438.90,408.24 438.94,412.43 438.98,410.36 439.02,413.69 439.06,411.01 439.10,415.96 439.46,410.88 439.81,413.86 440.17,410.10 440.53,413.39 440.89,410.01 441.24,412.52 441.60,407.23 441.65,409.81 441.70,405.68 441.76,409.67 441.81,404.87 441.86,407.81 441.91,404.07 441.96,405.50 442.02,402.26 442.07,405.55 442.12,401.32 442.17,403.41 442.22,399.76 442.28,402.38 442.33,397.11 442.38,401.32 442.43,396.90 442.48,399.03 442.54,396.00 442.59,397.82 442.64,393.03 442.69,396.97 442.74,393.02 442.80,394.79 442.85,391.59 442.90,393.35 443.01,388.64 443.12,391.66 443.24,387.33 443.35,391.45 443.46,385.94 443.57,388.64 443.68,384.33 443.79,388.52 443.91,382.74 444.02,385.42 444.13,383.12 444.24,384.50 444.35,380.75 444.46,383.30 444.58,380.09 444.69,382.26 444.80,377.60 445.01,382.24 445.22,379.31 445.43,383.51 445.64,380.41 445.86,384.05 446.07,382.29 446.28,385.60 446.49,384.32 446.70,388.17 447.06,385.27 447.41,388.68 447.77,386.64 448.13,390.42 448.49,388.22 448.84,391.80 449.20,389.59 449.23,393.72 449.27,390.84 449.30,394.79 449.33,391.54 449.37,395.57 449.40,393.39 449.43,396.86 449.47,393.97 449.50,398.57 449.53,395.78 449.57,399.47 449.60,397.02 449.63,400.73 449.67,398.69 449.70,403.02 449.73,399.98 449.77,404.29 449.80,401.34 449.83,405.00 449.87,402.04 449.90,407.29 449.93,403.87 449.97,409.19 450.00,405.78 450.03,409.47 450.07,407.45 450.10,410.85 450.13,408.87 450.17,412.25 450.20,410.44 450.93,413.41 451.65,410.59 452.38,413.50 453.10,410.21 453.20,412.85 453.29,408.44 453.38,412.32 453.48,408.00 453.58,410.97 453.67,406.87 453.76,408.22 453.86,403.97 453.96,406.69 454.05,404.36 454.14,406.80 454.24,402.96 454.34,405.01 454.43,400.54 454.52,402.81 454.62,399.69 454.72,402.76 454.81,398.01 454.90,400.03 455.00,396.52 455.17,399.52 455.35,395.41 455.52,396.97 455.69,393.12 455.86,395.60 456.04,393.07 456.21,394.05 456.38,389.98 456.55,393.45 456.73,389.07 456.90,392.30 456.97,388.65 457.03,393.31 457.10,391.19 457.16,395.34 457.23,393.24 457.29,396.16 457.36,393.26 457.42,397.95 457.49,395.16 457.56,400.02 457.62,396.67 457.69,401.05 457.75,398.15 457.82,401.29 457.88,399.57 457.95,402.92 458.01,401.63 458.08,404.46 458.14,402.86 458.21,406.18 458.28,403.15 458.34,408.14 458.41,404.29 458.47,408.74 458.54,406.09 458.60,411.19 458.67,407.99 458.73,412.64 458.80,409.93 458.99,412.67 459.17,407.14 459.36,411.41 459.54,405.87 459.73,409.55 459.91,405.21 460.10,408.19 460.29,403.04 460.47,406.56 460.66,402.13 460.84,405.82 461.03,401.37 461.21,403.38 461.40,400.46 461.66,404.37 461.92,400.76 462.17,405.38 462.43,402.85 462.69,405.87 462.95,403.80 463.21,408.52 463.47,405.41 463.73,409.07 463.98,406.68 464.24,411.23 464.50,408.59 464.58,411.24 464.66,407.37 464.74,409.51 464.82,404.57 464.89,407.66 464.97,403.18 465.05,405.88 465.13,402.84 465.21,404.60 465.29,401.19 465.37,403.82 465.45,399.21 465.52,402.29 465.60,397.03 465.68,401.06 465.76,395.94 465.84,399.99 465.92,394.26 466.00,398.14 466.08,393.88 466.15,396.29 466.23,391.71 466.31,395.36 466.39,390.02 466.47,393.85 466.55,389.01 466.63,391.53 466.71,387.66 466.78,389.98 466.86,386.19 466.94,388.53 467.02,385.90 467.10,388.52 467.18,384.35 467.25,388.77 467.33,387.28 467.40,391.13 467.48,387.39 467.55,391.35 467.63,388.74 467.71,394.03 467.78,390.61 467.86,394.43 467.93,392.98 468.01,395.48 468.08,393.71 468.16,398.11 468.24,394.79 468.31,398.63 468.39,395.93 468.46,399.77 468.54,397.69 468.62,401.40 468.69,400.23 468.77,402.87 468.84,400.22 468.92,404.34 468.99,403.07 469.07,406.25 469.15,403.89 469.22,407.85 469.30,404.91 469.37,409.52 469.45,405.72 469.52,410.28 469.60,407.66 470.08,411.24 470.56,409.64 471.04,412.47 471.52,409.81 472.00,414.19 472.06,410.02 472.12,413.77 472.19,409.21 472.25,411.15 472.31,408.06 472.38,410.26 472.44,406.40 472.50,408.09 472.56,404.15 472.62,407.72 472.69,402.71 472.75,406.69 472.81,401.57 472.88,405.24 472.94,400.20 473.00,403.12 473.06,398.59 473.12,402.61 473.19,398.48 473.25,399.79 473.31,396.96 473.38,398.95 473.44,394.29 473.50,397.68 473.56,392.90 473.62,395.98 473.69,392.02 473.75,394.36 473.81,390.48 473.88,393.00 473.94,390.23 474.00,391.82 474.06,387.81 474.12,391.30 474.19,386.91 474.25,389.98 474.31,384.55 474.38,387.17 474.44,383.21 474.50,387.18 474.58,382.88 474.65,388.16 474.73,385.34 474.81,389.32 474.88,386.29 474.96,390.87 475.04,388.56 475.12,392.78 475.19,389.34 475.27,392.73 475.35,391.19 475.42,394.17 475.50,392.33 475.58,395.61 475.65,393.63 475.73,397.37 475.81,394.51 475.88,399.69 475.96,397.10 476.04,401.19 476.12,397.80 476.19,401.62 476.27,398.63 476.35,402.57 476.42,400.98 476.50,405.07 476.62,401.41 476.74,403.45 476.86,398.67 476.98,401.76 477.09,397.57 477.21,400.05 477.33,395.66 477.45,400.03 477.57,395.71 477.69,398.25 477.81,393.97 477.92,395.49 478.04,392.77 478.16,395.33 478.28,390.89 478.40,393.54 478.61,391.46 478.83,394.24 479.04,392.38 479.25,396.21 479.47,392.89 479.68,397.44 479.89,395.14 480.11,399.63 480.32,395.82 480.53,400.69 480.75,396.96 480.96,401.54 481.17,399.30 481.39,402.21 481.60,399.92 481.65,403.34 481.70,398.07 481.75,402.24 481.81,397.38 481.86,400.04 481.91,395.13 481.96,397.90 482.01,394.79 482.06,397.32 482.11,392.97 482.16,396.03 482.22,392.37 482.27,394.43 482.32,390.92 482.37,392.80 482.42,389.51 482.47,391.27 482.52,387.28 482.58,390.00 482.63,386.71 482.68,388.72 482.73,384.38 482.78,387.00 482.83,383.70 482.88,385.84 482.94,381.51 482.99,383.70 483.04,380.14 483.09,382.32 483.14,378.34 483.19,381.16 483.24,377.05 483.29,379.46 483.35,376.24 483.40,378.46 483.45,374.31 483.50,377.98 483.82,375.52 484.13,378.14 484.45,375.89 484.77,380.28 485.08,378.01 485.40,381.61 485.45,379.46 485.50,383.45 485.55,380.85 485.60,384.06 485.64,382.12 485.69,387.05 485.74,383.00 485.79,387.98 485.84,384.13 485.89,388.90 485.94,386.58 485.99,390.96 486.04,388.48 486.08,392.33 486.13,389.82 486.18,393.49 486.23,390.57 486.28,395.18 486.33,392.82 486.38,396.42 486.43,392.85 486.48,396.70 486.52,394.53 486.57,398.56 486.62,395.84 486.67,401.25 486.72,398.62 486.77,401.63 486.82,399.13 486.87,404.10 486.92,399.78 486.96,403.79 487.01,402.64 487.06,405.90 487.11,402.85 487.16,408.02 487.21,404.72 487.26,409.68 487.31,405.66 487.36,411.02 487.40,407.42 487.45,411.32 487.50,408.66 487.55,413.57 487.60,409.73 487.66,412.58 487.73,409.96 487.79,411.47 487.85,408.11 487.91,410.13 487.98,407.04 488.04,409.11 488.10,404.95 488.17,407.06 488.23,404.12 488.29,406.20 488.35,402.70 488.42,405.30 488.48,400.96 488.54,403.94 488.61,399.81 488.67,401.59 488.73,397.20 488.79,400.41 488.86,396.38 488.92,399.64 488.98,395.47 489.05,398.17 489.11,393.41 489.17,395.71 489.23,392.29 489.30,394.28 489.36,390.35 489.42,393.15 489.49,389.13 489.55,392.11 489.61,387.09 489.67,390.77 489.74,386.69 489.80,389.29 490.29,384.70 490.77,388.61 491.26,384.13 491.75,386.80 492.24,382.33 492.73,385.31 493.21,381.99 493.70,384.71 493.76,382.04 493.82,386.52 493.87,383.48 493.93,386.77 493.99,384.40 494.05,388.86 494.11,385.10 494.17,390.88 494.22,387.53 494.28,391.37 494.34,388.51 494.40,392.87 494.46,390.02 494.51,394.08 494.57,390.92 494.63,396.37 494.69,392.44 494.75,397.50 494.80,393.66 494.86,398.00 494.92,394.96 494.98,399.30 495.04,397.88 495.10,401.22 495.15,399.17 495.21,402.19 495.27,399.75 495.33,403.39 495.39,401.53 495.44,405.18 495.50,401.93 495.56,406.05 495.62,404.12 495.68,408.15 495.73,406.14 495.79,409.33 495.85,407.17 495.91,410.74 495.97,408.22 496.03,412.50 496.08,409.78 496.14,413.68 496.20,410.91 496.26,413.76 496.33,410.39 496.39,412.67 496.46,408.47 496.52,411.62 496.58,407.57 496.65,409.66 496.71,405.86 496.78,408.41 496.84,403.51 496.90,407.04 496.97,402.56 497.03,406.15 497.10,401.78 497.16,404.86 497.22,399.99 497.29,402.80 497.35,399.15 497.42,400.30 497.48,397.69 497.54,399.83 497.61,396.14 497.67,398.88 497.74,394.89 497.80,397.24 497.86,392.13 497.93,395.89 497.99,390.68 498.06,394.72 498.12,389.40 498.18,391.89 498.25,388.63 498.31,390.96 498.38,387.35 498.44,390.34 498.50,385.42 498.57,387.98 498.63,385.03 498.70,386.33 498.76,382.59 498.82,386.30 498.89,382.37 498.95,383.64 499.02,380.88 499.08,383.79 499.14,379.60 499.21,381.63 499.27,376.73 499.34,379.49 499.40,375.68 499.57,379.79 499.75,377.13 499.92,381.41 500.09,379.41 500.26,383.57 500.44,380.15 500.61,385.10 500.78,381.36 500.95,386.44 501.13,382.64 501.30,386.18 501.80,384.01 502.30,386.89 502.80,381.81 503.30,385.52 503.80,380.49 503.86,384.94 503.93,382.14 503.99,386.86 504.05,384.71 504.12,388.06 504.18,384.53 504.24,389.49 504.31,386.19 504.37,390.00 504.43,388.26 504.50,392.20 504.56,389.41 504.62,394.22 504.69,390.93 504.75,395.11 504.81,392.28 504.88,396.71 504.94,393.56 505.00,397.60 505.07,395.50 505.13,399.85 505.20,396.77 505.26,400.98 505.32,398.33 505.39,402.88 505.45,399.83 505.51,403.24 505.58,400.95 505.64,405.48 505.70,401.69 505.77,405.76 505.83,403.98 505.89,408.03 505.96,405.01 506.02,408.41 506.08,407.01 506.15,410.79 506.21,407.42 506.27,412.35 506.34,409.88 506.40,413.15 506.47,409.75 506.54,411.90 506.60,408.18 506.67,409.87 506.74,406.16 506.81,408.33 506.87,404.32 506.94,406.92 507.01,403.86 507.08,406.57 507.14,402.45 507.21,404.33 507.28,400.09 507.35,403.39 507.41,398.62 507.48,402.53 507.55,396.93 507.62,399.69 507.68,396.55 507.75,398.94 507.82,395.33 507.89,398.28 507.95,393.72 508.02,396.97 508.09,392.89 508.16,394.68 508.22,390.46 508.29,393.88 508.36,389.31 508.43,392.67 508.49,388.23 508.56,390.27 508.63,387.00 508.70,388.55 508.76,385.05 508.83,388.12 508.90,384.17 509.54,386.47 510.18,382.73 510.82,386.37 511.46,381.62 512.10,385.05 512.25,382.29 512.39,386.59 512.54,384.05 512.68,386.63 512.83,384.33 512.98,388.70 513.12,385.91 513.27,390.25 513.42,387.62 513.56,391.71 513.71,388.91 513.85,392.95 514.00,389.72 514.08,393.85 514.16,391.04 514.24,396.19 514.32,392.03 514.40,396.21 514.48,394.46 514.56,397.80 514.64,396.33 514.72,399.76 514.80,396.63 514.88,400.54 514.96,398.00 515.04,403.25 515.12,399.09 515.20,404.49 515.28,401.88 515.36,405.83 515.44,402.62 515.52,406.42 515.60,403.63 515.68,407.94 515.76,404.95 515.84,410.34 515.92,407.16 516.00,410.39 516.08,407.80 516.16,411.83 516.24,410.47 516.32,414.55 516.40,411.66 516.48,414.83 516.56,412.79 516.64,417.08 516.72,414.55 516.80,417.74 516.88,416.19 516.96,419.04 517.04,416.36 517.12,421.14 517.20,418.03 517.26,421.62 517.31,417.67 517.37,419.10 517.43,415.17 517.49,417.84 517.54,413.15 517.60,416.20 517.66,411.79 517.71,415.73 517.77,410.91 517.83,414.71 517.89,409.95 517.94,412.22 518.00,408.55 518.06,411.55 518.11,406.45 518.17,409.96 518.23,405.11 518.29,408.63 518.34,403.74 518.40,406.25 518.46,402.25 518.51,405.59 518.57,401.77 518.63,403.46 518.69,399.86 518.74,402.23 518.80,398.91 518.86,401.43 518.91,397.79 518.97,399.46 519.03,396.64 519.09,398.27 519.14,393.87 519.20,396.69 519.26,393.50 519.31,395.09 519.37,391.48 519.43,394.80 519.49,390.85 519.54,393.55 519.60,389.78 519.66,390.87 519.71,388.23 519.77,390.69 519.83,386.85 519.89,389.19 519.94,385.23 520.00,387.01 520.06,384.03 520.11,386.55 520.17,382.14 520.23,385.37 520.29,380.15 520.34,383.30 520.40,379.18 521.15,382.60 521.90,378.96 522.65,383.34 523.40,379.62 524.15,381.90 524.90,378.20 524.96,383.54 525.03,380.28 525.09,384.55 525.15,382.82 525.22,385.52 525.28,382.80 525.34,387.02 525.41,384.57 525.47,388.83 525.53,386.77 525.60,389.46 525.66,388.38 525.72,392.06 525.79,389.48 525.85,393.11 525.91,390.28 525.98,394.98 526.04,392.45 526.10,395.78 526.17,392.78 526.23,397.63 526.29,394.70 526.36,399.00 526.42,395.55 526.48,400.84 526.55,397.43 526.61,400.84 526.67,399.57 526.74,403.28 526.80,399.98 527.05,404.28 527.29,401.32 527.54,405.23 527.78,403.24 528.03,406.90 528.28,403.96 528.52,409.33 528.77,406.20 529.02,409.12 529.26,407.39 529.51,411.89 529.75,407.62 530.00,411.78 530.13,408.82 530.27,411.17 530.40,406.42 530.54,409.96 530.67,405.89 530.81,409.32 530.94,403.96 531.07,407.80 531.21,402.44 531.34,406.57 531.48,401.29 531.61,404.83 531.74,400.24 531.88,403.26 532.01,398.07 532.15,402.37 532.28,396.76 532.42,400.50 532.55,396.12 532.68,398.65 532.82,394.93 532.95,398.24 533.09,393.05 533.22,396.59 533.36,391.67 533.49,393.94 533.62,390.69 533.76,393.01 533.89,388.36 534.03,392.25 534.16,388.08 534.29,390.55 534.43,385.74 534.56,389.20 534.70,384.70 534.83,387.52 534.97,383.83 535.10,386.88 535.16,384.26 535.22,388.11 535.28,384.50 535.34,390.10 535.40,386.47 535.47,390.81 535.53,387.03 535.59,392.54 535.65,388.66 535.71,393.46 535.77,391.41 535.83,395.41 535.89,392.88 535.95,396.61 536.01,393.93 536.08,398.19 536.14,394.69 536.20,399.05 536.26,396.39 536.32,400.07 536.38,396.85 536.44,401.95 536.50,398.33 536.56,402.56 536.62,401.44 536.69,404.06 536.75,402.30 536.81,406.94 536.87,404.06 536.93,407.50 536.99,404.14 537.05,408.51 537.11,406.57 537.17,409.75 537.23,408.41 537.30,411.83 537.36,408.89 537.42,412.57 537.48,410.29 537.54,414.49 537.60,411.46 537.67,414.01 537.75,410.88 537.82,413.74 537.90,408.62 537.97,412.10 538.05,407.83 538.12,410.36 538.19,406.34 538.27,409.12 538.34,403.87 538.42,407.34 538.49,403.35 538.57,406.31 538.64,401.86 538.71,404.28 538.79,401.30 538.86,403.68 538.94,398.99 539.01,402.31 539.09,397.87 539.16,400.95 539.23,395.60 539.31,398.34 539.38,394.23 539.46,396.57 539.53,393.05 539.61,396.49 539.68,391.49 539.75,394.18 539.83,390.74 539.90,392.56 539.98,388.32 540.05,391.88 540.13,387.11 540.20,390.27 540.46,387.72 540.72,392.46 540.98,388.17 541.23,393.46 541.49,390.05 541.75,395.10 542.01,392.02 542.27,395.43 542.52,392.54 542.78,397.44 543.04,393.94 543.30,398.88 543.40,396.00 543.49,399.22 543.59,396.75 543.69,402.01 543.78,398.61 543.88,402.43 543.97,399.46 544.07,403.61 544.17,402.07 544.26,405.74 544.36,402.97 544.46,407.50 544.55,405.24 544.65,409.23 544.74,406.18 544.84,409.86 544.94,408.06 545.03,411.06 545.13,408.61 545.23,413.52 545.32,410.60 545.42,413.46 545.51,410.80 545.61,416.32 545.71,412.89 545.80,417.01 545.90,413.62 545.98,416.90 546.07,412.96 546.15,415.40 546.23,411.89 546.31,413.67 546.40,410.22 546.48,411.85 546.56,408.60 546.64,411.70 546.73,406.42 546.81,409.07 546.89,405.90 546.97,408.98 547.06,403.38 547.14,406.53 547.22,403.35 547.30,406.04 547.39,401.69 547.47,404.26 547.55,399.10 547.63,402.08 547.72,398.80 547.80,401.22 547.89,399.17 547.97,402.52 548.06,399.69 548.14,403.79 548.23,400.81 548.32,405.63 548.40,402.51 548.49,407.32 548.58,404.72 548.66,407.57 548.75,405.88 548.83,408.98 548.92,406.18 549.01,411.62 549.09,407.59 549.18,412.20 549.27,409.09 549.35,414.60 549.44,410.65 549.52,415.86 549.61,412.22 549.70,415.75 549.78,414.28 549.87,417.62 549.96,415.33 550.04,419.58 550.13,416.04 550.21,420.45 550.30,417.34 550.37,420.25 550.45,416.27 550.52,419.12 550.60,415.25 550.67,418.25 550.74,414.76 550.82,416.76 550.89,412.23 550.97,414.75 551.04,411.84 551.11,413.96 551.19,410.11 551.26,411.76 551.34,408.73 551.41,411.05 551.49,406.89 551.56,409.29 551.63,406.11 551.71,407.57 551.78,403.78 551.86,406.47 551.93,403.14 552.00,405.81 552.08,401.06 552.15,403.53 552.23,398.86 552.30,402.46 552.45,398.94 552.60,400.95 552.74,397.34 552.89,400.22 553.04,395.00 553.19,397.42 553.33,394.77 553.48,397.11 553.63,392.70 553.78,395.05 553.92,391.33 554.07,393.33 554.22,389.97 554.37,392.71 554.51,387.72 554.66,391.39 554.81,386.97 554.96,388.95 555.10,385.70 555.25,388.50 555.40,384.01 555.47,388.06 555.53,384.91 555.60,390.19 555.67,386.73 555.73,392.08 555.80,387.71 555.87,391.95 555.93,389.23 556.00,394.09 556.07,391.17 556.13,394.57 556.20,393.56 556.27,397.40 556.33,394.42 556.40,399.15 556.47,394.78 556.53,399.75 556.60,396.84 556.67,401.26 556.73,398.34 556.80,403.06 556.87,398.94 556.93,403.61 557.00,401.39 557.07,405.12 557.13,403.41 557.20,406.11 557.27,404.63 557.33,408.58 557.40,406.04 557.47,409.72 557.53,406.01 557.60,410.79 557.67,407.38 557.73,411.91 557.80,409.96 557.87,413.13 557.93,411.74 558.00,415.02 558.07,410.60 558.15,414.04 558.22,410.17 558.29,411.54 558.37,409.01 558.44,410.59 558.51,406.71 558.58,408.56 558.66,406.09 558.73,408.34 558.80,404.43 558.88,405.78 558.95,401.94 559.02,404.40 559.10,400.64 559.17,402.93 559.24,398.99 559.32,402.26 559.39,398.51 559.46,400.36 559.53,396.20 559.61,399.30 559.68,395.25 559.75,397.69 559.83,394.51 559.90,396.24 560.08,392.97 560.26,395.66 560.44,390.56 560.61,394.35 560.79,390.15 560.97,392.18 561.15,387.60 561.33,391.03 561.51,386.89 561.69,388.92 561.86,385.16 562.04,388.26 562.22,384.81 562.40,386.94 562.80,384.80 563.20,388.02 563.60,385.81 564.00,389.47 564.40,387.15 564.80,390.29 565.20,387.55 565.60,392.25 565.67,389.74 565.73,393.83 565.80,391.65 565.86,394.63 565.93,392.59 565.99,396.38 566.06,393.07 566.12,397.72 566.19,395.31 566.26,399.41 566.32,396.05 566.39,400.30 566.45,397.63 566.52,401.79 566.58,400.24 566.65,402.67 566.71,401.59 566.78,404.66 566.84,402.68 566.91,406.37 566.98,403.15 567.04,407.58 567.11,404.57 567.17,408.71 567.24,406.96 567.30,411.07 567.37,407.70 567.43,411.37 567.50,409.47 567.79,413.93 568.07,411.29 568.36,415.16 568.64,412.48 568.93,416.49 569.21,413.00 569.50,416.41 569.79,414.76 570.07,418.18 570.36,415.45 570.64,420.19 570.93,416.30 571.21,420.44 571.50,418.06 571.58,421.38 571.66,417.35 571.74,420.02 571.81,415.84 571.89,418.20 571.97,413.95 572.05,416.68 572.13,411.88 572.21,414.54 572.29,411.54 572.36,414.62 572.44,409.45 572.52,413.08 572.60,408.75 572.68,410.60 572.76,406.69 572.84,410.01 572.91,405.40 572.99,407.31 573.07,404.10 573.15,407.15 573.23,401.88 573.31,404.50 573.39,401.35 573.46,404.57 573.54,399.31 573.62,402.61 573.70,398.92 574.35,401.20 575.00,397.51 575.65,400.27 576.30,396.42 576.40,398.32 576.49,394.40 576.59,397.52 576.68,394.09 576.78,396.39 576.87,392.40 576.97,394.06 577.07,390.49 577.16,392.42 577.26,388.43 577.35,391.98 577.45,388.18 577.54,391.20 577.64,386.16 577.73,388.08 577.83,384.46 577.93,386.71 578.02,383.82 578.12,386.20 578.21,381.68 578.31,385.46 578.40,379.95 578.50,382.61 578.82,380.48 579.14,383.99 579.46,381.72 579.78,386.10 580.10,383.33 580.14,386.92 580.17,385.05 580.21,389.02 580.25,387.30 580.29,390.85 580.32,387.02 580.36,392.44 580.40,388.48 580.43,392.68 580.47,390.50 580.51,394.99 580.55,392.27 580.58,396.82 580.62,393.76 580.66,396.95 580.70,394.79 580.73,399.77 580.77,396.70 580.81,400.79 580.84,398.53 580.88,402.85 580.92,398.45 580.96,402.53 580.99,400.48 581.03,405.62 581.07,402.15 581.10,405.50 581.14,403.18 581.18,407.70 581.22,405.32 581.25,408.32 581.29,406.96 581.33,411.13 581.37,407.94 581.40,412.04 581.44,409.05 581.48,413.19 581.51,410.27 581.55,415.24 581.59,413.04 581.63,416.52 581.66,414.46 581.70,417.70 581.74,412.83 581.78,416.88 581.83,412.55 581.87,415.66 581.91,411.38 581.95,413.83 581.99,408.89 582.04,411.21 582.08,408.40 582.12,410.70 582.16,405.65 582.21,408.62 582.25,405.21 582.29,408.54 582.33,404.33 582.37,407.01 582.42,401.88 582.46,405.53 582.50,401.20 582.54,403.77 582.58,400.14 582.63,401.78 582.67,397.53 582.71,400.06 582.75,396.60 582.79,398.60 582.84,394.71 582.88,398.20 582.92,394.55 582.96,397.23 583.01,392.17 583.05,395.38 583.09,391.81 583.13,394.31 583.17,389.26 583.22,392.09 583.26,388.99 583.30,391.39 584.10,387.87 584.90,391.12 585.70,386.91 586.50,390.06 586.88,387.64 587.26,391.17 587.64,388.81 588.02,393.55 588.40,389.99 588.49,394.00 588.59,391.18 588.68,396.49 588.78,393.53 588.87,397.16 588.96,393.67 589.06,398.57 589.15,396.28 589.25,399.33 589.34,396.85 589.44,401.45 589.53,399.42 589.62,402.03 589.72,400.43 589.81,404.26 589.91,401.61 590.00,405.21 590.09,403.39 590.19,407.18 590.28,403.82 590.38,408.21 590.47,405.84 590.56,410.22 590.66,407.44 590.75,411.78 590.85,409.52 590.94,412.28 591.04,409.90 591.13,413.43 591.22,412.30 591.32,415.77 591.41,412.78 591.51,417.25 591.60,413.68 591.70,416.66 591.79,412.16 591.89,416.23 591.99,410.67 592.08,413.82 592.18,410.88 592.28,413.27 592.37,409.24 592.47,410.55 592.57,406.87 592.66,410.31 592.76,405.56 592.86,407.83 592.95,404.07 593.05,406.67 593.14,403.06 593.24,406.05 593.34,401.92 593.43,404.07 593.53,399.63 593.63,403.20 593.72,398.23 593.82,400.69 593.92,396.92 594.01,399.54 594.11,396.34 594.21,398.97 594.30,394.09 594.40,397.54 594.55,394.59 594.69,398.74 594.84,395.79 594.98,399.53 595.13,397.60 595.27,401.31 595.42,399.46 595.56,402.69 595.71,399.78 595.85,403.30 596.00,401.80 596.13,406.37 596.26,402.16 596.38,406.28 596.51,403.53 596.64,409.11 596.77,405.42 596.90,409.21 597.02,407.11 597.15,410.48 597.28,408.34 597.41,411.77 597.54,410.01 597.66,413.23 597.79,410.87 597.92,415.00 598.05,411.95 598.18,417.25 598.30,414.59 598.43,418.46 598.56,414.92 598.69,419.00 598.82,416.14 598.94,420.01 599.07,418.45 599.20,422.54 599.25,417.54 599.30,421.58 599.35,416.57 599.40,419.76 599.45,414.44 599.50,418.71 599.55,414.15 599.60,416.39 599.65,411.91 599.70,415.12 599.75,411.75 599.80,414.40 599.85,409.77 599.90,411.61 599.95,408.44 600.00,409.95 600.05,405.96 600.10,408.73 600.15,406.20 600.20,408.80 600.25,404.22 600.30,406.76 600.35,402.69 600.40,404.82 600.45,400.25 600.50,404.12 600.55,399.90 600.60,402.87 600.65,397.69 600.70,401.52 600.75,396.90 600.80,399.30 600.85,394.61 600.90,397.94 600.95,394.16 601.00,396.80 601.05,392.13 601.10,395.19 601.15,391.84 601.20,394.63 601.25,390.22 601.30,392.47 601.35,388.54 601.40,390.07 601.47,388.71 601.53,392.15 601.60,390.47 601.66,393.00 601.73,391.04 601.80,394.98 601.86,393.30 601.93,396.24 601.99,394.41 602.06,398.65 602.12,394.56 602.19,400.11 602.26,396.04 602.32,400.81 602.39,398.68 602.45,402.51 602.52,400.11 602.59,404.46 602.65,401.54 602.72,405.27 602.78,402.24 602.85,405.81 602.92,403.45 602.98,407.92 603.05,404.94 603.11,409.46 603.18,406.21 603.25,410.10 603.31,408.65 603.38,412.56 603.44,410.30 603.51,413.48 603.57,410.60 603.64,414.42 603.71,412.58 603.77,416.86 603.84,414.37 603.90,417.57 603.97,415.22 604.04,419.99 604.10,416.64 604.17,421.41 604.23,418.14 604.30,421.48 604.35,417.38 604.39,420.66 604.44,417.35 604.49,419.47 604.54,415.38 604.58,417.03 604.63,414.20 604.68,415.84 604.73,412.61 604.77,414.77 604.82,410.20 604.87,412.86 604.91,409.96 604.96,411.40 605.01,408.39 605.06,410.58 605.10,407.08 605.15,408.86 605.20,405.68 605.25,408.62 605.29,403.18 605.34,406.64 605.39,402.36 605.43,404.71 605.48,400.26 605.53,402.88 605.58,399.65 605.62,402.38 605.67,398.23 605.72,401.70 605.77,396.66 605.81,398.80 605.86,396.12 605.91,398.25 605.95,394.87 606.00,396.45 606.05,392.07 606.10,395.18 606.14,390.26 606.19,393.77 606.24,390.03 606.29,391.66 606.33,388.41 606.38,390.84 606.43,386.51 606.47,389.72 606.52,384.81 606.57,388.11 606.62,384.21 606.66,386.02 606.71,382.20 606.76,384.99 606.81,381.29 606.85,384.19 606.90,379.73 607.18,383.31 607.46,380.90 607.75,384.65 608.03,381.86 608.31,387.59 608.59,383.13 608.87,388.06 609.15,385.67 609.44,389.61 609.72,386.33 610.00,390.39 610.15,387.94 610.31,391.97 610.46,389.79 610.62,392.84 610.77,390.52 610.92,394.70 611.08,392.20 611.23,396.43 611.38,393.00 611.54,398.16 611.69,394.60 611.85,399.89 612.00,395.79 612.13,399.86 612.26,397.16 612.39,402.61 612.53,399.82 612.66,402.94 612.79,400.19 612.92,405.47 613.05,402.89 613.18,406.68 613.32,402.84 613.45,407.51 613.58,405.43 613.71,408.57 613.84,406.83 613.97,411.09 614.11,407.31 614.24,411.43 614.37,408.75 614.50,413.87 614.57,409.63 614.64,412.60 614.70,407.58 614.77,409.67 614.84,406.56 614.91,408.76 614.98,405.51 615.04,407.86 615.11,403.68 615.18,407.04 615.25,402.22 615.31,404.93 615.38,399.99 615.45,402.49 615.52,399.64 615.59,402.71 615.65,397.61 615.72,401.18 615.79,397.26 615.86,399.68 615.92,395.50 615.99,397.40 616.06,393.91 616.13,396.37 616.20,391.60 616.26,395.20 616.33,390.46 616.40,393.00 616.52,389.02 616.64,391.82 616.76,387.33 616.88,390.79 616.99,387.08 617.11,388.94 617.23,384.74 617.35,387.96 617.47,384.09 617.59,385.71 617.71,381.70 617.82,384.05 617.94,380.65 618.06,383.85 618.18,379.77 618.30,381.02 618.88,377.13 619.47,381.41 620.05,376.52 620.63,380.20 621.22,375.28 621.80,378.65 621.89,375.28 621.99,380.96 622.08,377.09 622.18,381.98 622.27,379.71 622.36,382.41 622.46,380.24 622.55,384.95 622.65,382.62 622.74,386.58 622.84,382.46 622.93,386.47 623.02,384.23 623.12,389.12 623.21,386.44 623.31,390.29 623.40,388.09 623.46,391.45 623.52,388.17 623.58,392.83 623.64,390.31 623.70,394.06 623.76,391.36 623.82,395.78 623.88,393.30 623.94,397.23 624.00,394.26 624.07,399.35 624.13,396.24 624.19,399.39 624.25,397.75 624.31,400.90 624.37,398.61 624.43,402.06 624.49,400.65 624.55,404.06 624.61,402.36 624.67,405.33 624.73,402.14 624.79,406.53 624.85,404.10 624.91,408.65 624.97,405.29 625.03,410.57 625.09,407.02 625.15,410.57 625.21,408.02 625.27,411.87 625.33,409.96 625.40,413.10 625.46,411.76 625.52,414.91 625.58,412.44 625.64,417.41 625.70,414.80 625.76,418.92 625.82,415.75 625.88,419.11 625.94,417.67 626.00,420.52 626.22,417.75 626.44,419.31 626.66,415.10 626.88,418.27 627.10,414.64 627.32,417.71 627.54,412.12 627.76,415.74 627.98,411.90 628.20,413.98 628.42,410.92 628.64,413.30 628.86,408.56 629.08,411.86 629.30,407.17 629.52,410.12 629.74,406.12 629.96,408.59 630.18,405.17 630.40,406.72 630.56,403.23 630.72,406.19 630.88,401.22 631.04,404.52 631.21,399.67 631.37,402.45 631.53,399.16 631.69,401.80 631.85,397.55 632.01,401.06 632.17,396.17 632.33,399.27 632.49,394.23 632.66,398.40 632.82,394.14 632.98,396.70 633.14,392.22 633.30,395.08 633.37,391.45 633.45,395.35 633.52,394.22 633.59,398.19 633.67,394.74 633.74,399.46 633.81,396.87 633.89,400.32 633.96,397.47 634.04,400.93 634.11,398.71 634.18,402.62 634.26,400.15 634.33,403.82 634.40,401.42 634.48,405.97 634.55,402.73 634.62,407.50 634.70,404.03 634.77,407.73 634.84,406.69 634.92,409.85 634.99,407.51 635.06,411.40 635.14,408.54 635.21,412.52 635.29,410.51 635.36,413.82 635.43,411.84 635.51,415.60 635.58,412.17 635.65,416.46 635.73,413.77 635.80,418.74 635.83,414.43 635.86,417.14 635.89,412.58 635.92,416.17 635.95,412.24 635.98,414.23 636.01,410.12 636.04,412.28 636.07,407.90 636.10,410.84 636.13,406.86 636.16,410.30 636.19,405.12 636.22,407.74 636.25,404.11 636.28,406.44 636.31,402.34 636.34,404.65 636.37,401.61 636.40,404.80 636.43,400.86 636.47,402.28 636.50,398.29 636.53,400.73 636.56,396.31 636.59,399.46 636.62,395.75 636.65,398.23 636.68,394.14 636.71,396.24 636.74,392.76 636.77,395.62 636.80,392.13 636.83,393.61 636.86,390.85 636.89,392.66 636.92,389.07 636.95,391.29 636.98,386.97 637.01,389.99 637.04,386.22 637.07,388.54 637.10,384.03 637.58,387.26 638.07,384.13 638.55,385.19 639.03,382.56 639.52,385.21 640.00,381.52 640.11,385.67 640.22,381.85 640.33,387.06 640.43,384.75 640.54,388.28 640.65,384.83 640.76,390.28 640.87,387.68 640.98,391.12 641.09,388.80 641.20,392.45 641.30,389.95 641.41,394.56 641.52,391.93 641.63,394.73 641.74,392.26 641.85,397.32 641.96,394.49 642.07,399.09 642.17,395.30 642.28,400.08 642.39,397.82 642.50,401.50 642.59,396.92 642.67,398.93 642.76,396.22 642.85,397.86 642.93,393.31 643.02,396.52 643.10,392.68 643.19,395.05 643.28,391.56 643.36,394.04 643.45,390.89 643.54,391.87 643.62,388.51 643.71,390.70 643.80,387.37 643.88,389.02 643.97,385.75 644.05,388.04 644.14,384.14 644.23,387.54 644.31,382.17 644.40,386.39 644.73,381.39 645.05,384.52 645.38,379.30 645.70,382.84 646.02,378.77 646.35,381.14 646.67,377.64 647.00,379.21 647.12,376.84 647.24,381.57 647.36,377.82 647.48,382.31 647.60,380.57 647.71,383.79 647.83,381.84 647.95,384.97 648.07,382.63 648.19,386.77 648.31,385.10 648.43,388.09 648.55,385.61 648.67,388.98 648.79,386.88 648.90,391.91 649.02,388.35 649.14,393.04 649.26,390.72 649.38,393.17 649.50,390.84 649.64,395.95 649.77,393.37 649.91,396.39 650.04,394.68 650.18,398.62 650.31,396.15 650.45,400.47 650.59,396.66 650.72,400.90 650.86,398.49 650.99,403.30 651.13,400.51 651.26,403.62 651.40,401.34 651.65,406.48 651.90,403.49 652.15,406.90 652.40,405.13 652.65,407.75 652.90,405.05 653.15,410.49 653.40,407.42 653.65,410.68 653.90,409.10 654.15,412.68 654.40,409.90 654.65,414.33 654.90,411.47 654.97,413.77 655.03,409.18 655.10,411.64 655.17,408.77 655.23,411.60 655.30,406.16 655.37,410.39 655.43,404.81 655.50,407.63 655.57,404.55 655.63,406.44 655.70,403.43 655.77,405.52 655.83,401.57 655.90,403.25 655.97,399.47 656.03,402.15 656.10,398.74 656.17,401.08 656.23,396.81 656.30,400.46 656.37,394.90 656.43,398.19 656.50,393.69 656.57,397.50 656.63,392.73 656.70,395.43 656.77,392.37 656.83,394.00 656.90,389.23" fill="none" stroke="#ee4444" stroke-width="2.5" stroke-linejoin="round" stroke-linecap="round"/>
<polyline points="117.60,511.02 117.65,511.14 117.70,510.83 117.74,510.70 117.79,506.11 117.84,505.81 117.89,504.58 117.93,504.25 117.98,503.43 118.03,501.17 118.08,501.92 118.13,499.01 118.17,500.23 118.22,497.60 118.27,497.95 118.32,497.12 118.37,495.49 118.41,493.94 118.46,492.74 118.51,491.33 118.56,493.39 118.60,491.30 118.65,491.76 118.70,489.05 118.81,488.00 118.92,485.93 119.03,485.30 119.14,482.79 119.26,484.70 119.37,483.69 119.48,483.26 119.59,482.22 119.70,478.35 120.33,475.62 120.95,478.36 121.58,476.74 122.20,474.30 122.47,475.39 122.73,478.39 123.00,480.54 123.27,480.00 123.53,479.72 123.80,482.49 123.84,483.82 123.87,482.19 123.91,485.46 123.94,484.48 123.98,486.65 124.01,488.22 124.05,488.73 124.09,487.96 124.12,491.15 124.16,490.09 124.19,493.55 124.23,491.56 124.26,494.22 124.30,495.26 124.70,493.98 125.10,494.02 125.50,493.05 125.90,493.84 126.30,491.24 126.40,493.01 126.50,491.44 126.60,495.01 126.70,495.81 126.80,497.40 126.90,498.48 127.00,496.82 127.10,497.34 127.20,498.99 127.30,500.18 127.82,503.55 128.33,500.64 128.85,504.01 129.37,506.14 129.88,505.81 130.40,505.35 130.67,505.00 130.94,505.67 131.21,504.91 131.48,502.88 131.75,502.48 132.02,502.72 132.28,499.71 132.55,501.44 132.82,496.99 133.09,499.38 133.36,494.50 133.63,496.75 133.90,494.21 134.03,493.44 134.16,496.40 134.29,497.92 134.43,498.98 134.56,499.46 134.69,500.15 134.82,501.03 134.95,502.51 135.08,504.84 135.21,505.00 135.34,506.29 135.47,506.72 135.61,509.16 135.74,511.35 135.87,512.16 136.00,509.19 136.21,508.59 136.42,507.38 136.63,507.18 136.84,508.89 137.05,505.17 137.25,504.72 137.46,503.36 137.67,500.38 137.88,500.20 138.09,499.75 138.30,498.59 138.51,498.20 138.72,497.05 138.93,496.33 139.14,493.69 139.35,495.78 139.55,494.17 139.76,491.75 139.97,491.02 140.18,489.57 140.39,487.34 140.60,489.38 140.77,489.10 140.93,491.90 141.10,493.43 141.27,491.12 141.43,492.38 141.60,495.35 141.77,495.11 141.93,495.99 142.10,497.33 142.27,499.33 142.43,498.25 142.60,500.97 142.77,503.20 142.93,502.27 143.10,503.51 143.27,505.49 143.43,507.14 143.60,508.18 143.77,508.62 143.93,510.99 144.10,509.34 144.38,511.06 144.65,508.83 144.93,506.80 145.21,504.49 145.48,507.03 145.76,504.53 146.04,503.90 146.32,504.12 146.59,500.81 146.87,501.24 147.15,500.35 147.42,500.28 147.70,497.74 147.98,498.57 148.25,494.77 148.53,494.35 148.81,492.67 149.08,491.33 149.36,493.48 149.64,490.83 149.92,489.47 150.19,488.76 150.47,487.72 150.75,484.80 151.02,485.05 151.30,485.06 151.45,484.17 151.60,486.37 151.75,487.16 151.90,487.46 152.05,488.05 152.20,489.93 152.35,491.93 152.50,493.32 152.65,491.86 152.80,494.88 153.24,494.39 153.69,490.63 154.13,490.04 154.57,491.29 155.01,490.49 155.46,489.29 155.90,489.51 156.09,489.47 156.28,491.27 156.46,490.65 156.65,491.69 156.84,491.63 157.03,493.84 157.21,494.29 157.40,495.05 157.59,497.51 157.78,498.23 157.96,498.29 158.15,500.08 158.34,501.24 158.53,502.39 158.71,502.08 158.90,504.68 159.31,502.43 159.72,502.44 160.13,500.52 160.54,502.65 160.95,497.59 161.36,499.60 161.77,496.29 162.18,498.48 162.59,494.14 163.00,495.56 163.29,495.52 163.59,497.87 163.88,496.22 164.17,498.41 164.46,500.36 164.76,501.83 165.05,501.12 165.34,500.62 165.64,503.46 165.93,504.08 166.22,506.02 166.51,506.43 166.81,506.73 167.10,508.76 167.46,509.66 167.81,507.65 168.17,505.49 168.53,505.65 168.89,502.23 169.24,502.20 169.60,501.80 170.11,502.41 170.62,503.07 171.13,504.80 171.64,507.94 172.15,506.69 172.66,508.20 173.17,510.71 173.68,506.71 174.19,510.25 174.70,512.65 174.83,508.83 174.97,509.09 175.10,510.18 175.24,507.72 175.37,506.86 175.51,508.12 175.64,502.33 175.78,504.95 175.91,501.07 176.05,502.09 176.18,501.32 176.32,499.77 176.45,498.30 176.59,498.61 176.72,497.13 176.86,496.62 176.99,495.81 177.13,494.35 177.26,494.71 177.40,491.10 177.53,488.36 177.67,487.44 177.80,488.39 178.50,487.87 179.20,489.80 179.90,491.18 180.60,493.71 181.30,491.24 181.63,494.29 181.95,493.15 182.28,496.82 182.61,494.21 182.94,499.65 183.26,498.48 183.59,502.48 183.92,501.12 184.25,500.76 184.57,502.38 184.90,503.11 185.05,503.25 185.20,503.35 185.35,501.17 185.49,499.48 185.64,498.49 185.79,499.89 185.94,495.66 186.09,496.65 186.24,493.70 186.38,492.78 186.53,493.51 186.68,489.78 186.83,492.64 186.98,491.69 187.13,487.47 187.27,486.28 187.42,486.41 187.57,485.20 187.72,483.69 187.87,484.79 188.02,485.41 188.16,481.37 188.31,481.32 188.46,478.96 188.61,478.44 188.76,476.75 188.91,476.28 189.05,475.57 189.20,473.94 189.35,473.60 189.50,471.48 189.83,473.78 190.17,472.41 190.50,476.00 190.83,476.18 191.17,478.00 191.50,478.34 191.61,479.34 191.73,480.55 191.84,481.01 191.96,482.51 192.07,481.11 192.19,483.66 192.30,485.87 192.42,485.02 192.53,490.32 192.65,490.36 192.76,487.87 192.88,492.69 192.99,492.25 193.11,493.45 193.22,495.46 193.34,494.17 193.45,496.25 193.57,497.92 193.68,497.01 193.80,498.62 193.91,499.96 194.03,501.34 194.14,500.77 194.26,502.87 194.37,503.22 194.49,506.00 194.60,505.38 195.01,505.87 195.42,504.01 195.83,502.32 196.24,502.91 196.65,501.58 197.06,499.57 197.47,500.07 197.88,499.53 198.29,494.77 198.70,496.81 199.03,492.52 199.37,493.88 199.70,493.74 200.03,492.41 200.37,491.28 200.70,489.61 201.03,489.46 201.37,486.31 201.70,488.86 201.86,485.27 202.02,488.41 202.18,487.84 202.35,490.35 202.51,490.97 202.67,491.40 202.83,495.02 202.99,494.05 203.15,494.94 203.32,496.74 203.48,498.72 203.64,499.46 203.80,499.32 204.18,501.11 204.55,501.97 204.93,502.69 205.30,502.96 205.68,505.01 206.05,503.94 206.43,507.82 206.80,508.75 207.18,508.40 207.55,509.08 207.93,508.36 208.30,511.32 208.49,511.68 208.68,507.70 208.87,509.47 209.06,506.85 209.25,508.84 209.44,506.29 209.63,506.16 209.82,503.45 210.01,502.44 210.19,500.68 210.38,502.51 210.57,499.36 210.76,498.89 210.95,496.33 211.14,496.94 211.33,494.56 211.52,494.91 211.71,495.21 211.90,492.08 212.52,490.56 213.14,491.07 213.76,489.74 214.38,487.81 215.00,485.75 215.14,488.83 215.29,490.17 215.43,491.00 215.57,493.24 215.71,493.22 215.86,494.23 216.00,493.21 216.14,495.57 216.29,496.60 216.43,497.01 216.57,499.76 216.71,499.42 216.86,501.59 217.00,501.35 217.36,503.44 217.72,505.14 218.08,505.42 218.44,506.94 218.80,506.93 219.16,506.09 219.52,509.85 219.88,509.33 220.24,509.46 220.60,513.33 220.68,510.66 220.76,509.34 220.83,507.04 220.91,508.87 220.99,506.51 221.07,504.50 221.15,505.41 221.22,504.80 221.30,503.52 221.38,502.67 221.46,501.77 221.54,498.29 221.62,497.48 221.69,498.25 221.77,498.14 221.85,498.55 221.93,493.42 222.01,493.61 222.08,491.90 222.16,491.64 222.24,489.86 222.32,489.81 222.40,488.49 222.47,488.63 222.55,486.64 222.63,487.91 222.71,485.79 222.79,484.29 222.87,482.15 222.94,482.20 223.02,479.76 223.10,479.74 223.62,478.06 224.14,478.77 224.66,476.31 225.18,475.93 225.70,476.09 225.83,476.20 225.97,476.90 226.10,476.44 226.24,479.13 226.37,481.23 226.51,480.87 226.64,481.46 226.78,483.63 226.91,486.33 227.05,485.22 227.18,485.63 227.32,486.08 227.45,487.97 227.58,487.22 227.72,489.13 227.85,489.97 227.99,493.62 228.12,491.07 228.26,493.94 228.39,494.20 228.53,494.40 228.66,497.41 228.80,499.15 228.93,498.51 229.07,499.49 229.20,500.95 229.59,500.67 229.97,499.19 230.36,497.48 230.75,496.12 231.14,495.82 231.53,493.17 231.91,493.42 232.30,494.00 232.38,491.82 232.46,490.42 232.54,488.35 232.62,487.31 232.70,488.57 232.78,486.37 232.86,484.26 232.94,483.03 233.02,482.90 233.10,484.30 233.18,481.48 233.26,477.75 233.34,478.99 233.42,478.69 233.50,475.75 233.58,476.21 233.66,476.94 233.74,473.39 233.82,471.25 233.90,471.67 233.98,472.17 234.06,469.04 234.14,469.22 234.22,468.37 234.30,467.05 235.50,466.61 236.70,464.23 237.90,468.37 238.13,466.61 238.36,469.37 238.59,468.59 238.82,468.71 239.05,468.84 239.28,470.30 239.51,472.51 239.74,472.68 239.97,476.29 240.20,475.59 240.43,476.77 240.66,479.63 240.89,479.11 241.12,477.43 241.35,481.64 241.58,479.94 241.81,481.18 242.04,484.78 242.27,484.79 242.50,483.56 242.63,485.28 242.76,486.71 242.89,480.40 243.03,480.42 243.16,478.59 243.29,479.27 243.42,477.73 243.55,476.88 243.68,474.37 243.82,475.51 243.95,473.91 244.08,475.81 244.21,472.10 244.34,469.38 244.47,468.58 244.61,468.97 244.74,467.49 244.87,466.36 245.00,467.61 245.20,467.24 245.40,467.73 245.60,467.96 245.80,469.17 246.00,472.12 246.20,473.58 246.40,474.32 246.60,474.91 246.80,475.64 247.00,478.81 247.20,478.75 247.40,479.76 247.60,478.65 247.80,481.21 248.00,481.25 248.20,481.90 248.40,482.52 248.60,485.73 248.96,484.55 249.33,483.39 249.69,482.32 250.06,481.32 250.42,480.49 250.79,479.92 251.15,477.17 251.51,476.42 251.88,475.86 252.24,475.40 252.61,474.57 252.97,472.76 253.34,470.87 253.70,471.22 253.86,470.83 254.02,473.28 254.18,475.38 254.34,473.58 254.50,478.12 254.66,476.64 254.82,476.25 254.98,477.69 255.14,477.86 255.30,481.22 255.46,482.18 255.62,483.47 255.78,484.34 255.94,485.77 256.10,485.70 256.26,485.74 256.42,488.49 256.58,489.29 256.74,491.01 256.90,491.65 257.06,491.65 257.22,493.72 257.38,493.03 257.54,494.69 257.70,495.07 257.86,496.33 258.02,496.52 258.18,498.24 258.34,500.48 258.50,499.40 258.66,502.81 258.82,503.77 258.98,504.07 259.14,504.00 259.30,507.37 259.46,504.22 259.63,503.97 259.79,504.07 259.96,501.04 260.12,501.87 260.29,499.37 260.45,500.44 260.62,497.63 260.78,496.72 260.95,496.61 261.11,495.31 261.28,493.46 261.44,493.99 261.61,490.31 261.77,492.33 261.94,491.45 262.10,489.00 262.26,487.69 262.43,487.32 262.59,483.49 262.76,484.49 262.92,485.35 263.09,482.52 263.25,482.64 263.42,482.08 263.58,481.61 263.75,479.80 263.91,478.13 264.08,478.62 264.24,476.45 264.41,475.06 264.57,476.49 264.74,473.23 264.90,472.53 266.00,471.88 266.06,474.37 266.13,473.31 266.19,475.83 266.25,475.77 266.32,480.17 266.38,479.21 266.45,479.52 266.51,480.78 266.57,480.82 266.64,482.79 266.70,484.59 266.76,483.17 266.83,484.06 266.89,486.76 266.95,486.95 267.02,489.26 267.08,489.38 267.15,491.45 267.21,489.66 267.27,493.53 267.34,494.46 267.40,495.05 267.46,496.98 267.53,497.21 267.59,495.89 267.65,498.86 267.72,499.60 267.78,500.28 267.85,504.33 267.91,502.79 267.97,502.10 268.04,505.27 268.10,506.57 268.42,503.47 268.74,504.05 269.05,504.51 269.37,503.47 269.69,498.60 270.01,498.72 270.33,499.73 270.65,497.16 270.96,496.42 271.28,497.79 271.60,493.21 271.92,495.74 272.24,496.18 272.56,494.77 272.88,497.57 273.20,499.69 273.57,501.06 273.95,501.42 274.32,502.03 274.70,504.03 275.07,503.15 275.45,504.39 275.82,506.01 276.20,508.00 276.57,510.36 276.95,511.27 277.32,508.40 277.70,510.28 277.77,510.49 277.83,510.49 277.90,509.26 277.96,509.00 278.03,504.58 278.09,504.77 278.16,503.74 278.23,503.05 278.29,504.12 278.36,502.73 278.42,501.50 278.49,499.25 278.55,498.05 278.62,498.80 278.68,495.27 278.75,496.83 278.82,493.29 278.88,493.70 278.95,491.94 279.01,492.12 279.08,492.87 279.14,488.31 279.21,488.80 279.27,488.56 279.34,486.32 279.41,484.51 279.47,483.19 279.54,484.02 279.60,482.37 279.67,482.59 279.73,479.99 279.80,476.95 280.43,480.54 281.05,478.34 281.68,477.80 282.30,476.24 282.38,477.73 282.47,477.89 282.55,478.73 282.64,481.46 282.72,481.81 282.80,481.69 282.89,483.85 282.97,483.23 283.06,483.09 283.14,486.17 283.22,487.08 283.31,486.03 283.39,488.02 283.48,490.06 283.56,490.97 283.64,490.45 283.73,493.70 283.81,493.49 283.90,494.35 283.98,496.95 284.06,498.73 284.15,497.70 284.23,498.39 284.32,501.50 284.40,501.07 284.65,499.54 284.90,498.83 285.15,496.59 285.40,498.17 285.65,494.56 285.90,494.48 286.15,494.10 286.40,491.85 286.65,492.32 286.90,491.18 287.06,493.33 287.22,493.52 287.39,492.86 287.55,495.83 287.71,496.73 287.88,496.64 288.04,498.11 288.20,499.74 288.36,500.49 288.52,501.46 288.69,502.03 288.85,504.21 289.01,503.49 289.18,505.09 289.34,506.28 289.50,506.78 289.85,507.00 290.19,505.76 290.54,503.91 290.88,504.36 291.23,501.64 291.58,501.81 291.92,499.06 292.27,502.13 292.62,497.78 292.96,496.81 293.31,495.90 293.65,495.45 294.00,495.33 294.13,495.89 294.26,498.19 294.39,496.49 294.52,499.36 294.66,501.37 294.79,500.13 294.92,503.37 295.05,501.89 295.18,503.65 295.31,504.96 295.44,505.44 295.58,506.04 295.71,507.36 295.84,508.23 295.97,508.42 296.10,509.96 296.33,507.66 296.56,509.11 296.80,507.36 297.03,505.86 297.26,504.46 297.49,504.65 297.72,503.00 297.95,503.11 298.19,501.87 298.42,502.10 298.65,500.68 298.88,499.04 299.11,496.38 299.35,496.62 299.58,494.89 299.81,492.74 300.04,492.96 300.27,492.45 300.50,492.73 300.74,492.89 300.97,488.35 301.20,488.86 301.34,489.92 301.47,492.17 301.61,490.63 301.75,493.67 301.88,491.43 302.02,493.94 302.15,496.16 302.29,494.38 302.43,498.14 302.56,498.48 302.70,499.19 302.84,500.29 302.97,501.18 303.11,504.03 303.25,502.51 303.38,504.77 303.52,505.50 303.65,507.21 303.79,508.33 303.93,509.02 304.06,513.15 304.20,510.02 304.49,509.73 304.77,508.48 305.06,507.86 305.34,506.23 305.63,504.84 305.91,506.87 306.20,504.19 306.48,503.01 306.77,503.29 307.05,500.89 307.34,499.98 307.62,500.36 307.91,498.66 308.19,498.47 308.48,498.02 308.76,492.82 309.05,495.29 309.33,492.12 309.62,491.33 309.90,492.04 310.19,490.98 310.47,490.19 310.76,490.35 311.04,488.09 311.33,487.11 311.61,486.00 311.90,482.80 312.13,486.52 312.35,488.28 312.58,488.48 312.81,488.33 313.04,490.76 313.26,487.60 313.49,492.73 313.72,493.61 313.95,493.74 314.17,493.99 314.40,495.22 314.66,493.81 314.92,495.56 315.19,491.89 315.45,490.63 315.71,490.32 315.98,490.66 316.24,486.62 316.50,487.99 316.66,488.51 316.81,491.12 316.97,490.85 317.12,491.44 317.28,493.11 317.44,495.75 317.59,497.36 317.75,497.13 317.91,495.63 318.06,498.73 318.22,500.07 318.38,500.95 318.53,499.38 318.69,502.69 318.84,502.83 319.00,504.05 319.41,504.18 319.82,502.87 320.23,501.02 320.64,500.25 321.05,500.12 321.46,499.43 321.87,497.73 322.28,498.14 322.69,495.80 323.10,495.43 323.37,495.74 323.65,495.22 323.92,497.74 324.19,498.19 324.47,499.09 324.74,500.09 325.01,501.13 325.29,503.04 325.56,504.77 325.83,503.13 326.11,504.98 326.38,507.27 326.65,508.05 326.93,510.38 327.20,509.72 327.42,510.20 327.64,506.39 327.87,505.68 328.09,506.26 328.31,504.67 328.53,504.17 328.76,501.87 328.98,502.82 329.20,501.71 329.67,502.56 330.13,501.90 330.60,503.12 331.07,505.75 331.53,503.10 332.00,505.27 332.47,509.73 332.93,506.32 333.40,510.53 333.87,510.56 334.33,509.25 334.80,511.72 334.96,511.08 335.13,508.77 335.29,509.37 335.45,507.53 335.62,508.95 335.78,504.91 335.95,503.87 336.11,503.55 336.27,502.34 336.44,500.42 336.60,501.29 336.76,498.42 336.93,498.19 337.09,497.66 337.25,496.15 337.42,496.23 337.58,493.70 337.75,494.95 337.91,493.08 338.07,489.83 338.24,488.56 338.40,489.62 339.30,491.14 340.20,491.01 341.10,489.94 342.00,491.87 342.27,492.93 342.54,496.35 342.81,494.44 343.08,497.10 343.35,498.05 343.62,498.98 343.88,500.39 344.15,500.04 344.42,501.73 344.69,504.57 344.96,502.19 345.23,504.18 345.50,504.59 345.63,503.36 345.76,501.67 345.88,501.67 346.01,502.52 346.14,499.19 346.27,500.81 346.40,495.28 346.52,495.43 346.65,494.77 346.78,493.94 346.91,491.80 347.04,494.19 347.17,490.01 347.29,492.91 347.42,488.38 347.55,489.52 347.68,489.24 347.81,486.03 347.93,483.27 348.06,483.32 348.19,484.94 348.32,483.57 348.45,481.51 348.58,480.57 348.70,480.24 348.83,479.55 348.96,478.06 349.09,476.61 349.22,475.64 349.34,472.91 349.47,472.05 349.60,472.15 349.93,473.60 350.27,475.05 350.60,474.61 350.93,474.59 351.27,478.95 351.60,479.37 351.93,480.76 352.27,479.48 352.60,482.61 352.71,481.82 352.82,483.76 352.93,485.81 353.03,485.09 353.14,487.10 353.25,488.74 353.36,486.66 353.47,488.23 353.57,490.52 353.68,492.21 353.79,490.64 353.90,494.18 354.01,497.20 354.12,496.26 354.23,495.57 354.33,497.87 354.44,497.57 354.55,498.61 354.66,499.48 354.77,499.86 354.88,502.22 354.98,503.33 355.09,504.03 355.20,506.63 355.43,505.16 355.65,504.86 355.88,501.05 356.11,503.76 356.34,502.26 356.56,498.71 356.79,498.61 357.02,496.96 357.25,496.26 357.47,496.28 357.70,495.40 358.21,492.30 358.73,492.80 359.24,491.86 359.75,490.89 360.26,488.32 360.77,487.54 361.29,488.23 361.80,488.20 361.86,487.17 361.93,489.06 361.99,491.94 362.05,492.04 362.11,492.35 362.18,494.19 362.24,493.85 362.30,495.54 362.36,496.25 362.43,494.02 362.49,499.87 362.55,498.74 362.61,500.20 362.68,501.45 362.74,503.85 362.80,502.56 363.42,502.69 364.04,506.31 364.67,507.19 365.29,506.69 365.91,508.83 366.53,511.02 367.16,509.50 367.78,510.53 368.40,511.57 368.59,512.03 368.78,508.52 368.97,509.30 369.16,506.99 369.35,506.14 369.54,506.65 369.73,503.63 369.92,504.32 370.11,504.80 370.29,501.51 370.48,501.72 370.67,500.16 370.86,499.42 371.05,498.69 371.24,495.12 371.43,496.17 371.62,495.39 371.81,492.65 372.00,493.20 372.62,491.16 373.24,490.35 373.86,490.12 374.48,489.51 375.10,485.79 375.35,487.84 375.61,489.15 375.86,490.42 376.12,491.87 376.37,492.08 376.62,493.04 376.88,494.73 377.13,496.49 377.39,496.84 377.64,496.73 377.90,499.94 378.15,499.04 378.40,501.17 378.66,502.14 378.91,503.89 379.17,503.57 379.42,504.14 379.68,505.38 379.93,506.89 380.18,506.58 380.44,509.20 380.69,509.66 380.95,510.41 381.20,512.03 381.31,510.05 381.43,511.08 381.54,509.62 381.66,510.55 381.77,505.36 381.88,504.52 382.00,503.55 382.11,502.70 382.23,502.02 382.34,500.86 382.45,500.11 382.57,500.18 382.68,497.19 382.79,497.07 382.91,497.20 383.02,493.93 383.14,495.22 383.25,492.64 383.36,492.93 383.48,491.01 383.59,488.93 383.71,489.64 383.82,489.31 383.93,487.60 384.05,485.11 384.16,486.59 384.27,481.67 384.39,485.10 384.50,481.23 384.62,479.73 384.73,481.76 384.84,479.28 384.96,478.02 385.07,477.07 385.19,475.63 385.30,475.05 385.49,475.57 385.67,478.47 385.86,478.99 386.05,480.75 386.23,480.05 386.42,483.33 386.61,483.22 386.79,483.25 386.98,484.11 387.17,485.71 387.35,486.75 387.54,487.36 387.73,488.29 387.91,490.85 388.10,489.97 388.29,489.97 388.47,491.25 388.66,493.65 388.85,495.13 389.03,497.67 389.22,496.74 389.41,497.96 389.59,499.37 389.78,499.26 389.97,499.53 390.15,501.00 390.34,501.03 390.53,502.01 390.71,503.48 390.90,503.57 391.04,503.15 391.18,504.32 391.32,499.62 391.46,500.87 391.60,501.89 391.74,497.90 391.88,497.26 392.02,495.99 392.17,497.60 392.31,495.78 392.45,495.89 392.59,492.98 392.73,492.07 392.87,491.43 393.01,489.34 393.15,488.01 393.29,486.65 393.43,487.40 393.57,486.15 393.71,484.58 393.85,483.60 393.99,484.03 394.13,481.10 394.27,480.01 394.42,480.23 394.56,478.36 394.70,477.90 394.84,477.22 394.98,476.16 395.12,475.04 395.26,474.14 395.40,472.49 395.56,473.56 395.73,473.69 395.89,474.19 396.06,475.67 396.22,477.19 396.39,477.60 396.55,480.22 396.72,479.99 396.88,481.95 397.05,481.94 397.21,483.24 397.38,486.35 397.54,483.66 397.71,486.88 397.87,488.09 398.04,486.73 398.20,488.91 398.36,488.12 398.53,491.93 398.69,492.19 398.86,494.80 399.02,493.13 399.19,497.00 399.35,497.41 399.52,497.08 399.68,496.97 399.85,498.27 400.01,500.69 400.18,501.39 400.34,501.24 400.51,501.71 400.67,504.74 400.84,503.72 401.00,505.90 401.28,505.95 401.56,505.19 401.85,502.44 402.13,504.65 402.41,501.55 402.69,502.78 402.97,498.36 403.25,497.93 403.54,495.87 403.82,496.31 404.10,495.00 404.27,497.14 404.43,495.21 404.60,497.26 404.77,498.13 404.93,499.57 405.10,501.65 405.27,500.94 405.43,504.61 405.60,504.08 405.73,504.95 405.86,501.50 405.99,501.21 406.12,498.19 406.26,499.18 406.39,498.37 406.52,497.66 406.65,494.10 406.78,493.89 406.91,493.36 407.04,490.79 407.18,490.07 407.31,491.37 407.44,490.23 407.57,487.83 407.70,487.25 407.97,488.53 408.25,488.87 408.52,491.07 408.80,492.18 409.07,493.72 409.35,493.81 409.62,491.89 409.90,495.17 410.18,494.20 410.45,497.90 410.73,499.52 411.00,500.11 411.27,501.47 411.55,501.17 411.82,503.05 412.10,503.65 412.38,503.86 412.65,504.14 412.93,505.25 413.20,506.02 413.48,509.89 413.75,507.92 414.03,510.62 414.30,510.68 414.57,509.04 414.85,510.04 415.12,508.14 415.40,507.74 415.68,505.99 415.95,506.53 416.23,504.47 416.50,504.00 416.77,501.89 417.05,501.21 417.32,499.88 417.60,498.90 417.88,497.65 418.15,495.80 418.43,495.64 418.70,495.36 418.97,494.19 419.25,492.80 419.52,492.57 419.80,488.89 420.07,491.29 420.35,488.33 420.62,489.76 420.90,486.86 421.06,488.50 421.21,489.50 421.37,489.99 421.53,492.32 421.68,493.06 421.84,493.82 422.00,494.17 422.15,495.39 422.31,494.77 422.47,498.91 422.62,499.70 422.78,500.22 422.93,499.38 423.09,501.01 423.25,502.69 423.40,504.14 423.56,504.52 423.72,505.91 423.87,507.16 424.03,509.48 424.19,509.25 424.34,510.34 424.50,511.54 425.80,511.12 427.10,511.95 427.15,508.71 427.20,509.67 427.25,508.47 427.30,509.49 427.35,508.13 427.40,504.25 427.45,504.85 427.50,504.35 427.55,502.90 427.60,502.85 427.65,500.66 427.70,499.16 427.75,500.39 427.80,497.80 427.85,495.67 427.90,496.54 427.95,494.36 428.00,494.24 428.05,493.11 428.10,492.17 428.15,489.34 428.20,490.29 428.25,488.23 428.30,487.77 428.35,485.66 428.40,484.76 428.45,482.45 428.50,481.12 428.55,482.40 428.60,480.49 428.65,479.65 428.70,479.77 429.30,477.68 429.90,477.59 430.50,477.81 431.10,476.58 431.70,475.75 431.82,474.85 431.95,476.94 432.07,480.83 432.19,481.10 432.32,479.90 432.44,481.53 432.56,483.38 432.69,483.46 432.81,485.14 432.94,485.56 433.06,487.00 433.18,486.54 433.31,489.33 433.43,489.71 433.55,489.84 433.68,491.64 433.80,491.48 433.98,491.43 434.16,491.47 434.34,490.33 434.51,489.18 434.69,487.20 434.87,484.23 435.05,483.65 435.23,484.12 435.41,482.99 435.59,482.00 435.76,481.34 435.94,477.99 436.12,480.94 436.30,478.87 436.39,479.84 436.48,480.45 436.57,481.01 436.66,483.27 436.75,482.78 436.85,482.56 436.94,483.81 437.03,485.94 437.12,489.02 437.21,488.73 437.30,491.70 437.39,489.72 437.48,490.59 437.57,492.93 437.66,492.78 437.75,494.03 437.85,495.35 437.94,495.34 438.03,498.31 438.12,501.01 438.21,499.66 438.30,500.43 438.59,497.99 438.88,496.96 439.17,498.41 439.46,497.17 439.74,497.32 440.03,495.14 440.32,493.13 440.61,491.71 440.90,491.65 441.12,493.48 441.35,492.79 441.57,494.81 441.80,496.90 442.02,498.42 442.25,500.61 442.47,499.17 442.70,500.69 442.93,501.38 443.15,500.66 443.38,503.61 443.60,504.60 443.82,505.99 444.05,505.76 444.27,509.10 444.50,506.66 444.73,505.80 444.96,505.67 445.19,504.84 445.42,503.81 445.65,503.83 445.88,503.29 446.12,501.56 446.35,498.35 446.58,499.56 446.81,496.95 447.04,496.55 447.27,498.42 447.50,494.26 447.66,495.58 447.82,496.56 447.99,496.49 448.15,498.93 448.31,499.26 448.48,500.74 448.64,498.61 448.80,501.25 448.96,505.27 449.12,503.95 449.29,504.37 449.45,506.44 449.61,508.53 449.78,508.70 449.94,508.19 450.10,511.26 450.31,510.30 450.52,507.75 450.73,509.24 450.94,508.54 451.15,507.62 451.35,505.15 451.56,503.65 451.77,502.62 451.98,502.43 452.19,500.36 452.40,500.88 452.61,500.98 452.82,499.24 453.03,496.96 453.24,496.57 453.45,495.68 453.65,494.16 453.86,493.03 454.07,492.56 454.28,491.54 454.49,488.54 454.70,487.82 454.86,489.90 455.02,488.78 455.18,491.13 455.34,492.28 455.50,493.14 455.65,494.65 455.81,495.23 455.97,495.82 456.13,497.91 456.29,500.00 456.45,501.06 456.61,501.06 456.77,503.27 456.93,503.99 457.09,503.37 457.25,504.71 457.40,504.98 457.56,507.23 457.72,506.95 457.88,509.72 458.04,512.17 458.20,510.30 458.44,509.86 458.69,508.24 458.93,507.38 459.18,506.98 459.42,505.58 459.67,504.97 459.91,505.86 460.16,502.53 460.40,502.13 460.64,500.34 460.89,500.41 461.13,500.32 461.38,497.90 461.62,497.74 461.87,494.91 462.11,493.17 462.36,493.71 462.60,492.81 462.84,491.32 463.09,490.56 463.33,490.76 463.58,488.21 463.82,487.95 464.07,487.36 464.31,484.28 464.56,485.64 464.80,484.59 465.04,487.32 465.27,486.65 465.51,489.82 465.75,488.59 465.98,488.03 466.22,490.22 466.45,492.44 466.69,492.83 466.93,493.02 467.16,494.32 467.40,494.77 467.71,493.11 468.02,493.27 468.34,493.94 468.65,492.33 468.96,489.34 469.27,487.34 469.59,487.27 469.90,487.17 470.06,487.21 470.22,488.81 470.39,492.14 470.55,490.75 470.71,493.52 470.88,495.28 471.04,496.04 471.20,496.76 471.36,497.75 471.52,498.31 471.69,499.32 471.85,500.05 472.01,499.50 472.18,503.38 472.34,503.91 472.50,505.34 472.86,502.22 473.22,502.51 473.58,501.79 473.94,500.18 474.30,498.27 474.66,497.05 475.02,496.76 475.38,495.98 475.74,499.28 476.10,494.71 476.37,496.02 476.63,497.35 476.90,495.93 477.17,499.63 477.43,498.87 477.70,500.74 477.97,500.40 478.23,503.70 478.50,504.77 478.77,504.36 479.03,506.63 479.30,506.06 479.57,509.16 479.83,509.80 480.10,511.08 480.36,509.15 480.62,510.11 480.89,507.21 481.15,505.65 481.41,506.22 481.68,502.70 481.94,503.97 482.20,502.53 482.71,502.14 483.22,503.17 483.73,502.29 484.24,505.83 484.75,505.84 485.25,506.10 485.76,509.40 486.27,509.30 486.78,511.39 487.29,511.33 487.80,511.52 487.96,511.39 488.12,510.67 488.28,508.15 488.44,508.63 488.60,507.00 488.75,505.45 488.91,504.48 489.07,502.93 489.23,504.33 489.39,499.84 489.55,499.45 489.71,499.33 489.87,498.97 490.03,498.21 490.19,496.57 490.35,496.41 490.50,492.90 490.66,492.53 490.82,491.54 490.98,490.03 491.14,489.15 491.30,488.12 492.12,490.10 492.94,490.60 493.76,492.89 494.58,491.19 495.40,492.33 495.70,495.50 496.00,496.09 496.30,494.21 496.60,497.36 496.90,499.88 497.20,498.66 497.50,499.98 497.80,501.66 498.10,503.54 498.40,501.58 498.70,503.60 499.00,505.73 499.14,505.05 499.29,500.84 499.43,501.25 499.57,498.13 499.72,501.68 499.86,500.56 500.01,496.85 500.15,495.81 500.29,497.00 500.44,493.84 500.58,493.75 500.73,493.01 500.87,491.01 501.01,492.45 501.16,490.10 501.30,487.43 501.44,487.87 501.59,485.77 501.73,488.46 501.88,482.89 502.02,483.63 502.16,482.93 502.31,482.11 502.45,480.44 502.59,479.12 502.74,479.34 502.88,477.41 503.03,473.60 503.17,475.20 503.31,474.65 503.46,470.80 503.60,471.23 503.90,472.76 504.20,474.26 504.50,474.32 504.80,475.34 505.10,478.93 505.40,477.28 505.70,477.07 506.00,479.83 506.30,481.40 506.60,481.75 506.67,483.24 506.73,484.48 506.80,486.81 506.87,486.00 506.93,487.56 507.00,488.64 507.07,491.23 507.13,490.98 507.20,492.66 507.27,491.06 507.33,494.87 507.40,495.72 507.47,495.22 507.53,496.48 507.60,496.31 507.67,496.84 507.73,499.05 507.80,501.88 507.87,503.28 507.93,503.05 508.00,503.83 508.07,505.00 508.13,507.36 508.20,503.52 508.49,506.62 508.78,503.63 509.07,502.48 509.37,503.33 509.66,501.12 509.95,500.83 510.24,501.96 510.53,497.90 510.82,500.13 511.12,498.30 511.41,495.78 511.70,496.43 512.21,493.93 512.73,491.56 513.24,491.10 513.76,491.25 514.27,489.91 514.79,488.25 515.30,488.99 515.57,490.22 515.85,489.46 516.12,488.53 516.40,491.00 516.67,493.08 516.95,491.73 517.22,493.64 517.50,496.77 517.77,497.60 518.05,497.86 518.32,498.19 518.60,498.59 518.88,500.03 519.15,502.21 519.42,502.85 519.70,504.71 519.98,504.71 520.25,505.35 520.52,505.71 520.80,506.47 521.07,507.28 521.35,508.43 521.62,510.91 521.90,509.22 522.17,511.69 522.45,508.56 522.73,508.23 523.00,508.15 523.27,506.51 523.55,505.81 523.82,505.01 524.10,503.49 524.38,503.22 524.65,501.60 524.92,500.73 525.20,499.72 525.48,498.32 525.75,497.16 526.02,497.31 526.30,497.04 526.58,494.94 526.85,493.41 527.12,491.60 527.40,492.63 527.67,489.39 527.95,490.64 528.23,488.64 528.50,487.62 528.73,488.42 528.97,491.45 529.20,490.05 529.43,492.01 529.67,491.71 529.90,493.15 530.13,494.90 530.37,495.49 530.60,493.63 530.83,497.08 531.07,498.35 531.30,497.98 531.53,500.59 531.77,501.94 532.00,500.70 532.23,502.64 532.47,505.09 532.70,505.24 532.93,505.95 533.17,507.08 533.40,508.56 533.63,508.33 533.87,509.71 534.10,511.61 534.23,510.63 534.36,508.84 534.48,509.15 534.61,509.11 534.74,507.69 534.87,504.38 534.99,505.39 535.12,502.58 535.25,502.80 535.38,501.08 535.51,500.47 535.63,497.82 535.76,498.39 535.89,498.45 536.02,496.97 536.14,496.89 536.27,497.13 536.40,493.09 536.53,492.01 536.66,494.11 536.78,491.78 536.91,488.66 537.04,489.46 537.17,487.67 537.29,484.89 537.42,486.76 537.55,484.60 537.68,482.42 537.81,481.58 537.93,483.40 538.06,479.56 538.19,477.44 538.32,478.76 538.44,477.25 538.57,476.39 538.70,476.80 538.87,476.15 539.04,479.65 539.21,477.28 539.38,478.84 539.55,482.66 539.72,481.21 539.89,485.11 540.06,485.55 540.23,483.08 540.39,484.24 540.56,487.78 540.73,485.46 540.90,489.95 541.07,488.69 541.24,490.58 541.41,489.89 541.58,491.44 541.75,493.85 541.92,495.06 542.09,495.59 542.26,494.74 542.43,496.93 542.60,497.51 542.77,498.50 542.94,500.35 543.11,500.27 543.27,501.96 543.44,503.37 543.61,503.30 543.78,504.47 543.95,507.56 544.12,510.10 544.29,509.71 544.46,509.28 544.63,509.94 544.80,512.62 544.94,511.32 545.08,510.61 545.22,508.96 545.37,508.46 545.51,505.87 545.65,504.17 545.79,507.02 545.93,503.36 546.07,500.12 546.22,501.26 546.36,498.31 546.50,498.58 546.64,496.81 546.78,497.23 546.92,495.91 547.07,496.13 547.21,493.10 547.35,494.93 547.49,492.98 547.63,492.50 547.77,493.28 547.92,488.93 548.06,487.83 548.20,487.86 548.34,486.96 548.48,484.70 548.62,483.68 548.77,482.83 548.91,482.87 549.05,480.97 549.19,477.99 549.33,477.82 549.48,476.60 549.62,478.73 549.76,476.95 549.90,474.74 550.12,473.78 550.33,477.41 550.55,477.59 550.77,477.65 550.98,480.52 551.20,481.93 551.42,483.16 551.63,484.67 551.85,484.03 552.07,485.49 552.28,487.10 552.50,486.61 552.73,487.24 552.96,489.71 553.19,489.81 553.42,491.57 553.65,491.69 553.88,493.30 554.12,494.40 554.35,497.00 554.58,498.83 554.81,497.92 555.04,498.77 555.27,501.30 555.50,500.40 556.02,503.12 556.53,502.97 557.05,501.56 557.57,504.85 558.08,504.09 558.60,507.84 558.90,505.43 559.20,503.82 559.50,503.46 559.80,503.01 560.10,502.29 560.40,500.55 560.70,499.90 561.00,501.32 561.30,498.75 561.60,496.42 561.90,496.30 562.20,492.91 562.33,495.49 562.45,496.13 562.58,498.30 562.70,498.41 562.83,499.00 562.95,501.38 563.08,502.54 563.20,501.39 563.33,503.01 563.45,503.41 563.58,506.71 563.70,508.90 563.83,506.56 563.95,510.26 564.08,509.81 564.20,511.06 564.41,510.64 564.62,508.43 564.83,509.20 565.04,509.03 565.25,507.50 565.45,505.74 565.66,504.86 565.87,503.80 566.08,501.01 566.29,501.51 566.50,498.58 566.71,498.48 566.92,498.81 567.13,496.43 567.34,494.94 567.55,493.41 567.75,493.25 567.96,491.56 568.17,491.68 568.38,490.68 568.59,491.75 568.80,487.97 568.99,489.64 569.17,488.87 569.36,491.04 569.55,493.90 569.73,494.86 569.92,496.74 570.10,495.33 570.29,497.10 570.48,498.18 570.66,500.93 570.85,502.01 571.04,501.06 571.22,500.79 571.41,501.62 571.60,503.32 571.78,505.76 571.97,505.34 572.15,507.29 572.34,507.67 572.53,507.14 572.71,509.56 572.90,509.96 573.13,508.60 573.35,509.15 573.58,506.91 573.80,507.33 574.03,505.71 574.26,504.76 574.48,504.32 574.71,504.17 574.93,501.66 575.16,499.94 575.39,499.21 575.61,499.26 575.84,498.65 576.06,497.02 576.29,496.76 576.51,495.74 576.74,495.58 576.97,494.53 577.19,492.93 577.42,492.29 577.64,492.49 577.87,489.44 578.10,487.41 578.32,487.37 578.55,487.27 578.77,485.48 579.00,484.83 579.60,484.59 579.78,485.09 579.96,488.40 580.15,485.29 580.33,490.13 580.51,488.34 580.69,491.20 580.87,492.63 581.05,492.57 581.24,495.89 581.42,495.65 581.60,495.06 581.93,495.04 582.25,491.34 582.58,491.49 582.90,492.04 583.23,490.71 583.55,490.49 583.88,488.93 584.20,486.40 584.36,488.32 584.51,490.32 584.67,490.43 584.83,490.93 584.98,492.62 585.14,493.55 585.29,494.97 585.45,493.97 585.61,496.03 585.76,496.33 585.92,498.31 586.08,501.37 586.23,502.77 586.39,500.93 586.54,504.38 586.70,503.31 587.06,504.88 587.42,504.56 587.78,502.07 588.14,502.26 588.50,499.54 588.86,498.82 589.22,498.01 589.58,497.25 589.94,494.58 590.30,495.81 590.56,495.11 590.81,497.94 591.07,499.63 591.32,499.11 591.58,500.44 591.84,499.50 592.09,502.29 592.35,503.16 592.61,503.93 592.86,505.12 593.12,506.12 593.38,507.01 593.63,508.55 593.89,508.27 594.14,509.64 594.40,510.99 594.68,509.99 594.96,509.20 595.23,506.06 595.51,507.81 595.79,507.08 596.07,504.30 596.34,505.55 596.62,501.99 596.90,500.91 597.41,503.18 597.92,504.57 598.43,504.79 598.94,504.15 599.45,507.36 599.95,505.03 600.46,510.67 600.97,509.53 601.48,511.69 601.99,510.29 602.50,512.48 602.66,509.61 602.83,509.20 602.99,508.46 603.15,507.52 603.32,506.32 603.48,504.76 603.65,502.09 603.81,502.89 603.97,502.31 604.14,501.02 604.30,500.42 604.46,499.94 604.63,497.77 604.79,499.03 604.95,496.47 605.12,493.78 605.28,493.62 605.45,493.54 605.61,492.27 605.77,490.77 605.94,489.83 606.10,488.90 606.80,489.77 607.50,490.41 608.20,491.08 608.90,493.98 609.60,490.95 609.90,494.57 610.20,494.99 610.50,496.00 610.80,498.41 611.10,497.44 611.40,497.16 611.70,498.44 612.00,501.30 612.30,501.13 612.60,503.42 612.90,502.23 613.20,500.02 613.34,503.12 613.49,502.54 613.63,502.67 613.78,500.49 613.92,500.81 614.06,498.88 614.21,497.06 614.35,495.82 614.49,495.71 614.64,495.44 614.78,494.21 614.92,491.84 615.07,491.19 615.21,490.18 615.36,489.23 615.50,489.19 615.64,486.47 615.79,486.57 615.93,484.53 616.08,485.91 616.22,483.19 616.36,482.82 616.51,480.88 616.65,480.30 616.79,480.62 616.94,477.34 617.08,475.89 617.22,476.60 617.37,476.41 617.51,475.34 617.66,471.56 617.80,470.01 618.16,474.81 618.52,474.40 618.88,475.39 619.24,475.61 619.60,474.39 619.96,477.45 620.32,480.69 620.68,481.00 621.04,482.28 621.40,481.33 621.46,484.30 621.52,483.06 621.59,486.07 621.65,487.77 621.71,486.73 621.77,487.62 621.84,489.06 621.90,491.72 621.96,492.43 622.02,491.93 622.09,492.51 622.15,495.13 622.21,497.31 622.27,498.58 622.34,496.97 622.40,499.06 622.46,499.02 622.52,497.92 622.59,503.65 622.65,504.02 622.71,502.09 622.77,503.77 622.84,505.49 622.90,505.13 623.16,504.61 623.42,505.54 623.67,503.38 623.93,501.71 624.19,501.46 624.45,500.20 624.71,498.90 624.97,498.56 625.23,497.09 625.48,498.78 625.74,494.77 626.00,495.30 626.50,492.53 627.00,492.49 627.50,492.66 628.00,493.75 628.50,489.19 629.00,488.95 629.50,489.73 629.77,487.59 630.05,488.24 630.33,491.86 630.60,491.68 630.88,491.13 631.15,494.50 631.42,497.22 631.70,493.98 631.98,497.13 632.25,496.93 632.52,499.57 632.80,501.00 633.08,499.87 633.35,499.97 633.62,503.56 633.90,503.81 634.18,505.77 634.45,506.20 634.73,505.02 635.00,505.99 635.27,507.80 635.55,510.65 635.83,512.05 636.10,511.36 636.38,510.14 636.66,509.39 636.94,507.52 637.22,506.89 637.50,505.54 637.77,505.57 638.05,504.09 638.33,503.19 638.61,501.76 638.89,501.24 639.17,501.31 639.45,500.40 639.73,497.27 640.01,496.63 640.29,496.67 640.57,495.08 640.85,494.95 641.12,493.17 641.40,493.84 641.68,491.65 641.96,492.50 642.24,490.25 642.52,488.94 642.80,487.57 643.05,489.17 643.31,488.43 643.56,490.09 643.82,490.37 644.07,490.76 644.32,494.46 644.58,495.32 644.83,495.22 645.09,497.70 645.34,496.91 645.60,498.13 645.85,499.21 646.10,499.25 646.36,501.12 646.61,503.71 646.87,504.99 647.12,504.21 647.38,505.43 647.63,505.64 647.88,507.28 648.14,507.82 648.39,510.10 648.65,510.07 648.90,513.19 649.03,510.51 649.16,508.45 649.28,506.28 649.41,508.23 649.54,504.80 649.67,505.93 649.79,503.29 649.92,503.44 650.05,501.49 650.18,501.83 650.31,499.31 650.43,503.22 650.56,499.39 650.69,497.29 650.82,496.76 650.94,493.96 651.07,494.46 651.20,492.82 651.33,492.86 651.46,491.01 651.58,490.58 651.71,488.80 651.84,489.64 651.97,486.94 652.09,486.41 652.22,485.77 652.35,482.77 652.48,483.19 652.61,483.95 652.73,483.38 652.86,479.63 652.99,478.43 653.12,477.38 653.24,478.61 653.37,476.09 653.50,475.02 653.65,476.57 653.80,478.65 653.96,479.12 654.11,478.32 654.26,478.46 654.41,483.48 654.57,481.60 654.72,483.44 654.87,484.77 655.02,486.07 655.17,488.36 655.33,487.17 655.48,490.76 655.63,489.54 655.78,490.38 655.93,491.26 656.09,491.99 656.24,493.65 656.39,495.48 656.54,495.19 656.70,495.69 656.85,498.27 657.00,499.47" fill="none" stroke="#0000ff" stroke-width="2.5" stroke-linejoin="round" stroke-linecap="round"/>
<rect x="897.50" y="3.80" width="656.10" height="551.70" fill="none" stroke="#222" stroke-width="2"/>
<line x1="944.53" y1="555.50" x2="944.53" y2="565.50" stroke="#222" stroke-width="2" stroke-linecap="butt"/>
<text x="925.70" y="609.40" font-size="45.50" textLength="37.52" lengthAdjust="spacingAndGlyphs">-3</text>
<line x1="1038.22" y1="555.50" x2="1038.22" y2="565.50" stroke="#222" stroke-width="2" stroke-linecap="butt"/>
<text x="1019.59" y="609.40" font-size="45.50" textLength="37.52" lengthAdjust="spacingAndGlyphs">-2</text>
<line x1="1131.91" y1="555.50" x2="1131.91" y2="565.50" stroke="#222" stroke-width="2" stroke-linecap="butt"/>
<text x="1113.49" y="609.40" font-size="45.50" textLength="37.52" lengthAdjust="spacingAndGlyphs">-1</text>
<line x1="1225.60" y1="555.50" x2="1225.60" y2="565.50" stroke="#222" stroke-width="2" stroke-linecap="butt"/>
<text x="1214.34" y="609.40" font-size="45.50" textLength="22.52" lengthAdjust="spacingAndGlyphs">0</text>
<line x1="1319.29" y1="555.50" x2="1319.29" y2="565.50" stroke="#222" stroke-width="2" stroke-linecap="butt"/>
<text x="1307.40" y="609.40" font-size="45.50" textLength="22.52" lengthAdjust="spacingAndGlyphs">1</text>
<line x1="1412.98" y1="555.50" x2="1412.98" y2="565.50" stroke="#222" stroke-width="2" stroke-linecap="butt"/>
<text x="1401.74" y="609.40" font-size="45.50" textLength="22.52" lengthAdjust="spacingAndGlyphs">2</text>
<line x1="1506.67" y1="555.50" x2="1506.67" y2="565.50" stroke="#222" stroke-width="2" stroke-linecap="butt"/>
<text x="1495.32" y="609.40" font-size="45.50" textLength="22.52" lengthAdjust="spacingAndGlyphs">3</text>
<line x1="897.68" y1="555.50" x2="897.68" y2="560.20" stroke="#222" stroke-width="2" stroke-linecap="butt"/>
<line x1="991.37" y1="555.50" x2="991.37" y2="560.20" stroke="#222" stroke-width="2" stroke-linecap="butt"/>
<line x1="1085.06" y1="555.50" x2="1085.06" y2="560.20" stroke="#222" stroke-width="2" stroke-linecap="butt"/>
<line x1="1178.75" y1="555.50" x2="1178.75" y2="560.20" stroke="#222" stroke-width="2" stroke-linecap="butt"/>
<line x1="1272.44" y1="555.50" x2="1272.44" y2="560.20" stroke="#222" stroke-width="2" stroke-linecap="butt"/>
<line x1="1366.13" y1="555.50" x2="1366.13" y2="560.20" stroke="#222" stroke-width="2" stroke-linecap="butt"/>
<line x1="1459.82" y1="555.50" x2="1459.82" y2="560.20" stroke="#222" stroke-width="2" stroke-linecap="butt"/>
<line x1="1553.51" y1="555.50" x2="1553.51" y2="560.20" stroke="#222" stroke-width="2" stroke-linecap="butt"/>
<line x1="897.50" y1="517.30" x2="887.50" y2="517.30" stroke="#222" stroke-width="2" stroke-linecap="butt"/>
<text x="857.27" y="531.40" font-size="45.50" textLength="22.86" lengthAdjust="spacingAndGlyphs">0</text>
<line x1="897.50" y1="441.90" x2="887.50" y2="441.90" stroke="#222" stroke-width="2" stroke-linecap="butt"/>
<text x="834.41" y="456.00" font-size="45.50" textLength="45.73" lengthAdjust="spacingAndGlyphs">10</text>
<line x1="897.50" y1="366.50" x2="887.50" y2="366.50" stroke="#222" stroke-width="2" stroke-linecap="butt"/>
<text x="834.41" y="380.60" font-size="45.50" textLength="45.73" lengthAdjust="spacingAndGlyphs">20</text>
<line x1="897.50" y1="291.10" x2="887.50" y2="291.10" stroke="#222" stroke-width="2" stroke-linecap="butt"/>
<text x="834.41" y="305.20" font-size="45.50" textLength="45.73" lengthAdjust="spacingAndGlyphs">30</text>
<line x1="897.50" y1="215.70" x2="887.50" y2="215.70" stroke="#222" stroke-width="2" stroke-linecap="butt"/>
<text x="834.41" y="229.80" font-size="45.50" textLength="45.73" lengthAdjust="spacingAndGlyphs">40</text>
<line x1="897.50" y1="140.30" x2="887.50" y2="140.30" stroke="#222" stroke-width="2" stroke-linecap="butt"/>
<text x="834.41" y="154.40" font-size="45.50" textLength="45.73" lengthAdjust="spacingAndGlyphs">50</text>
<line x1="897.50" y1="64.90" x2="887.50" y2="64.90" stroke="#222" stroke-width="2" stroke-linecap="butt"/>
<text x="834.41" y="79.00" font-size="45.50" textLength="45.73" lengthAdjust="spacingAndGlyphs">60</text>
<line x1="897.50" y1="555.00" x2="892.80" y2="555.00" stroke="#222" stroke-width="2" stroke-linecap="butt"/>
<line x1="897.50" y1="479.60" x2="892.80" y2="479.60" stroke="#222" stroke-width="2" stroke-linecap="butt"/>
<line x1="897.50" y1="404.20" x2="892.80" y2="404.20" stroke="#222" stroke-width="2" stroke-linecap="butt"/>
<line x1="897.50" y1="328.80" x2="892.80" y2="328.80" stroke="#222" stroke-width="2" stroke-linecap="butt"/>
<line x1="897.50" y1="253.40" x2="892.80" y2="253.40" stroke="#222" stroke-width="2" stroke-linecap="butt"/>
<line x1="897.50" y1="178.00" x2="892.80" y2="178.00" stroke="#222" stroke-width="2" stroke-linecap="butt"/>
<line x1="897.50" y1="102.60" x2="892.80" y2="102.60" stroke="#222" stroke-width="2" stroke-linecap="butt"/>
<line x1="897.50" y1="27.20" x2="892.80" y2="27.20" stroke="#222" stroke-width="2" stroke-linecap="butt"/>
<line x1="907.40" y1="27.80" x2="1007.60" y2="27.80" stroke="#ff0000" stroke-width="2.4" stroke-linecap="butt"/>
<line x1="907.40" y1="95.00" x2="1007.60" y2="95.00" stroke="#0000ff" stroke-width="2.4" stroke-linecap="butt"/>
<text x="1017.83" y="44.00" font-size="46.00" textLength="61.80" lengthAdjust="spacingAndGlyphs">CF</text>
<text x="1077.87" y="55.40" font-size="30.00" textLength="15.42" lengthAdjust="spacingAndGlyphs">4</text>
<text x="1092.93" y="43.90" font-size="46.00" textLength="446.63" lengthAdjust="spacingAndGlyphs">-plasma treated sample</text>
<text x="1019.88" y="111.00" font-size="46.00" textLength="338.28" lengthAdjust="spacingAndGlyphs">Untreated sample</text>
<text x="910.96" y="305.50" font-size="46.00" textLength="56.80" lengthAdjust="spacingAndGlyphs">(b)</text>
<text x="907.24" y="499.00" font-size="46.00" textLength="277.40" lengthAdjust="spacingAndGlyphs">HfZrO = 6 nm</text>
<text transform="translate(817.60,401.50) rotate(-90)" x="-2.31" y="0" font-size="46.00" textLength="278.68" lengthAdjust="spacingAndGlyphs">Capacity (pF)</text>
<text x="1039.95" y="653.20" font-size="46.00" textLength="371.81" lengthAdjust="spacingAndGlyphs">Applied voltage (V)</text>
<path d="M944.30,124.50 C948.03,124.60 957.53,124.93 966.70,125.10 C975.87,125.27 987.75,125.17 999.30,125.50 C1010.85,125.83 1023.77,126.32 1036.00,127.10 C1048.23,127.88 1061.48,128.87 1072.70,130.20 C1083.92,131.53 1094.82,133.52 1103.30,135.10 C1111.78,136.68 1116.82,138.32 1123.60,139.70 C1130.38,141.08 1137.88,142.10 1144.00,143.40 C1150.12,144.70 1155.20,145.83 1160.30,147.50 C1165.40,149.17 1170.18,150.95 1174.60,153.40 C1179.02,155.85 1182.38,158.18 1186.80,162.20 C1191.22,166.22 1197.35,172.92 1201.10,177.50 C1204.85,182.08 1206.92,184.27 1209.30,189.70 C1211.68,195.13 1213.72,202.97 1215.40,210.10 C1217.08,217.23 1218.05,224.35 1219.40,232.50 C1220.75,240.65 1221.97,247.78 1223.50,259.00 C1225.03,270.22 1226.97,287.25 1228.60,299.80 C1230.23,312.35 1231.63,321.17 1233.30,334.30 C1234.97,347.43 1236.83,364.72 1238.60,378.60 C1240.37,392.48 1242.13,405.78 1243.90,417.60 C1245.67,429.42 1247.13,439.47 1249.20,449.50 C1251.27,459.53 1253.63,469.53 1256.30,477.80 C1258.97,486.07 1262.25,494.32 1265.20,499.10 C1268.15,503.88 1270.75,504.97 1274.00,506.50 C1277.25,508.03 1278.78,507.92 1284.70,508.30 C1290.62,508.68 1299.82,508.47 1309.50,508.80 C1319.18,509.13 1323.45,509.58 1342.80,510.30 C1362.15,511.02 1400.75,512.40 1425.60,513.10 C1450.45,513.80 1480.85,514.27 1491.90,514.50" fill="none" stroke="#ff0000" stroke-width="2.5" stroke-linejoin="round" stroke-linecap="round"/>
<path d="M944.30,140.40 C948.03,140.63 956.85,141.50 966.70,141.80 C976.55,142.10 990.83,141.77 1003.40,142.20 C1015.97,142.63 1029.87,143.68 1042.10,144.40 C1054.33,145.12 1068.30,145.58 1076.80,146.50 C1085.30,147.42 1086.98,147.97 1093.10,149.90 C1099.22,151.83 1106.72,154.87 1113.50,158.10 C1120.28,161.33 1128.72,165.90 1133.80,169.30 C1138.88,172.70 1140.60,173.75 1144.00,178.50 C1147.40,183.25 1150.80,190.83 1154.20,197.80 C1157.60,204.77 1161.85,213.83 1164.40,220.30 C1166.95,226.77 1167.97,230.15 1169.50,236.60 C1171.03,243.05 1172.13,250.10 1173.60,259.00 C1175.07,267.90 1176.33,277.45 1178.30,290.00 C1180.27,302.55 1183.03,318.95 1185.40,334.30 C1187.77,349.65 1190.43,368.22 1192.50,382.10 C1194.57,395.98 1196.02,406.37 1197.80,417.60 C1199.58,428.83 1201.42,440.05 1203.20,449.50 C1204.98,458.95 1206.73,467.22 1208.50,474.30 C1210.27,481.38 1211.73,487.43 1213.80,492.00 C1215.87,496.57 1215.30,499.93 1220.90,501.70 C1226.50,503.47 1238.55,502.23 1247.40,502.60 C1256.25,502.97 1263.65,503.30 1274.00,503.90 C1284.35,504.50 1298.03,505.35 1309.50,506.20 C1320.97,507.05 1323.45,508.12 1342.80,509.00 C1362.15,509.88 1398.13,510.48 1425.60,511.50 C1453.07,512.52 1493.93,514.50 1507.60,515.10" fill="none" stroke="#0000ff" stroke-width="2.5" stroke-linejoin="round" stroke-linecap="round"/>
<rect x="54.70" y="677.10" width="693.70" height="561.30" fill="none" stroke="#222" stroke-width="2"/>
<line x1="104.25" y1="1238.40" x2="104.25" y2="1227.90" stroke="#222" stroke-width="2" stroke-linecap="butt"/>
<text x="67.36" y="1287.40" font-size="46.30" textLength="71.53" lengthAdjust="spacingAndGlyphs">178</text>
<line x1="203.35" y1="1238.40" x2="203.35" y2="1227.90" stroke="#222" stroke-width="2" stroke-linecap="butt"/>
<text x="166.58" y="1287.40" font-size="46.30" textLength="71.53" lengthAdjust="spacingAndGlyphs">180</text>
<line x1="302.45" y1="1238.40" x2="302.45" y2="1227.90" stroke="#222" stroke-width="2" stroke-linecap="butt"/>
<text x="265.80" y="1287.40" font-size="46.30" textLength="71.53" lengthAdjust="spacingAndGlyphs">182</text>
<line x1="401.55" y1="1238.40" x2="401.55" y2="1227.90" stroke="#222" stroke-width="2" stroke-linecap="butt"/>
<text x="364.33" y="1287.40" font-size="46.30" textLength="71.53" lengthAdjust="spacingAndGlyphs">184</text>
<line x1="500.65" y1="1238.40" x2="500.65" y2="1227.90" stroke="#222" stroke-width="2" stroke-linecap="butt"/>
<text x="463.67" y="1287.40" font-size="46.30" textLength="71.53" lengthAdjust="spacingAndGlyphs">186</text>
<line x1="599.75" y1="1238.40" x2="599.75" y2="1227.90" stroke="#222" stroke-width="2" stroke-linecap="butt"/>
<text x="562.86" y="1287.40" font-size="46.30" textLength="71.53" lengthAdjust="spacingAndGlyphs">188</text>
<line x1="698.85" y1="1238.40" x2="698.85" y2="1227.90" stroke="#222" stroke-width="2" stroke-linecap="butt"/>
<text x="662.08" y="1287.40" font-size="46.30" textLength="71.53" lengthAdjust="spacingAndGlyphs">190</text>
<line x1="54.70" y1="1238.40" x2="54.70" y2="1233.20" stroke="#222" stroke-width="2" stroke-linecap="butt"/>
<line x1="153.80" y1="1238.40" x2="153.80" y2="1233.20" stroke="#222" stroke-width="2" stroke-linecap="butt"/>
<line x1="252.90" y1="1238.40" x2="252.90" y2="1233.20" stroke="#222" stroke-width="2" stroke-linecap="butt"/>
<line x1="352.00" y1="1238.40" x2="352.00" y2="1233.20" stroke="#222" stroke-width="2" stroke-linecap="butt"/>
<line x1="451.10" y1="1238.40" x2="451.10" y2="1233.20" stroke="#222" stroke-width="2" stroke-linecap="butt"/>
<line x1="550.20" y1="1238.40" x2="550.20" y2="1233.20" stroke="#222" stroke-width="2" stroke-linecap="butt"/>
<line x1="649.30" y1="1238.40" x2="649.30" y2="1233.20" stroke="#222" stroke-width="2" stroke-linecap="butt"/>
<line x1="748.40" y1="1238.40" x2="748.40" y2="1233.20" stroke="#222" stroke-width="2" stroke-linecap="butt"/>
<line x1="64.30" y1="701.80" x2="170.70" y2="701.80" stroke="#ff0000" stroke-width="3.8" stroke-linecap="round"/>
<line x1="64.30" y1="770.60" x2="170.70" y2="770.60" stroke="#0000ff" stroke-width="3.8" stroke-linecap="round"/>
<text x="182.54" y="718.40" font-size="47.00" textLength="64.28" lengthAdjust="spacingAndGlyphs">CF</text>
<text x="245.39" y="730.90" font-size="30.00" textLength="14.56" lengthAdjust="spacingAndGlyphs">4</text>
<text x="260.14" y="718.50" font-size="47.00" textLength="473.20" lengthAdjust="spacingAndGlyphs">-plasma treated sample</text>
<text x="184.92" y="786.70" font-size="47.00" textLength="357.61" lengthAdjust="spacingAndGlyphs">Untreated sample</text>
<text x="465.69" y="842.80" font-size="47.00" textLength="162.74" lengthAdjust="spacingAndGlyphs">183.1eV</text>
<text x="426.79" y="1052.00" font-size="47.00" textLength="162.74" lengthAdjust="spacingAndGlyphs">182.5eV</text>
<text x="66.51" y="964.30" font-size="47.00" textLength="178.71" lengthAdjust="spacingAndGlyphs">(c) Zr 3d</text>
<text transform="translate(36.60,1086.20) rotate(-90)" x="-1.62" y="0" font-size="47.00" textLength="286.20" lengthAdjust="spacingAndGlyphs">Intensity (a.u)</text>
<text x="197.39" y="1331.10" font-size="47.00" textLength="407.88" lengthAdjust="spacingAndGlyphs">Binding energy (eV)</text>
<polyline points="102.70,1216.27 104.83,1216.32 106.96,1216.27 109.09,1216.36 111.21,1215.95 113.34,1216.08 115.47,1214.71 117.60,1215.20 119.73,1215.75 121.86,1215.22 123.99,1215.45 126.11,1214.22 128.24,1214.60 130.37,1214.17 132.50,1214.46 134.57,1214.48 136.64,1213.67 138.71,1213.93 140.78,1213.99 142.84,1214.86 144.91,1214.62 146.98,1213.75 149.05,1214.62 151.12,1213.67 153.19,1214.31 155.26,1213.60 157.32,1213.40 159.39,1214.59 161.46,1213.64 163.53,1213.63 165.60,1214.68 167.73,1214.46 169.86,1213.58 171.99,1214.45 174.11,1213.80 176.24,1213.93 178.37,1213.20 180.50,1214.17 182.63,1213.75 184.76,1214.07 186.89,1213.91 189.01,1213.01 191.14,1213.03 193.27,1212.70 195.40,1212.60 197.72,1211.99 200.04,1211.82 202.36,1211.74 204.68,1210.40 207.00,1210.85 208.96,1209.61 210.92,1208.81 212.88,1208.77 214.84,1207.53 216.80,1206.54 218.70,1206.12 220.60,1205.79 222.50,1204.23 224.40,1204.87 226.30,1202.88 228.20,1203.25 229.88,1201.73 231.55,1198.93 233.22,1198.35 234.90,1196.11 236.17,1194.18 237.43,1191.15 238.70,1188.97 240.93,1188.19 243.17,1188.30 245.40,1186.28 246.23,1185.14 247.06,1183.47 247.89,1181.58 248.71,1178.82 249.54,1176.93 250.37,1175.25 251.20,1173.69 251.89,1170.84 252.58,1169.83 253.27,1167.99 253.96,1166.17 254.65,1163.11 255.35,1162.47 256.04,1159.36 256.73,1157.80 257.42,1156.27 258.11,1154.79 258.80,1152.08 260.23,1151.47 261.65,1149.51 263.07,1147.76 264.50,1146.34 265.14,1144.24 265.79,1142.19 266.43,1140.38 267.08,1139.22 267.72,1137.74 268.37,1134.66 269.01,1132.59 269.66,1131.99 270.30,1129.45 270.88,1127.35 271.47,1125.20 272.05,1123.79 272.64,1122.20 273.22,1119.76 273.81,1117.80 274.39,1115.37 274.98,1114.66 275.56,1111.51 276.15,1110.24 276.73,1108.80 277.32,1105.90 277.90,1104.82 278.85,1103.22 279.80,1100.86 280.75,1099.17 281.70,1096.30 282.65,1094.85 283.60,1092.53 284.55,1091.60 285.50,1088.91 286.55,1087.40 287.59,1086.43 288.64,1084.48 289.68,1082.92 290.73,1080.45 291.77,1078.77 292.82,1077.37 293.86,1075.28 294.91,1073.28 295.95,1071.70 297.00,1069.61 298.43,1068.50 299.85,1067.93 301.27,1066.47 302.70,1064.58 304.07,1062.63 305.44,1060.63 306.81,1058.51 308.19,1057.00 309.56,1055.94 310.93,1054.29 312.30,1051.81 313.73,1050.48 315.15,1048.53 316.57,1046.50 318.00,1044.53 319.93,1045.86 321.85,1046.51 323.77,1048.19 325.70,1048.79 328.07,1049.18 330.45,1049.68 332.82,1049.67 335.20,1049.21 337.12,1051.45 339.05,1052.36 340.97,1053.59 342.90,1054.12 343.85,1056.95 344.80,1058.62 345.75,1061.29 346.70,1063.08 347.65,1065.66 348.60,1067.51 349.56,1069.50 350.53,1070.66 351.49,1072.86 352.45,1074.78 353.41,1076.70 354.38,1077.82 355.34,1080.29 356.30,1082.12 357.14,1083.77 357.99,1086.09 358.83,1087.97 359.68,1089.27 360.52,1091.20 361.37,1092.60 362.21,1095.45 363.06,1097.50 363.90,1098.77 365.27,1100.84 366.64,1102.65 368.01,1104.44 369.39,1105.43 370.76,1108.05 372.13,1109.54 373.50,1111.43 375.40,1112.21 377.30,1113.61 379.20,1114.93 381.10,1115.86 383.00,1117.09 384.90,1117.24 386.82,1118.38 388.74,1119.74 390.66,1120.99 392.58,1121.35 394.50,1122.96 396.40,1121.60 398.30,1119.49 400.20,1118.81 402.10,1117.18 404.00,1115.66 405.90,1114.49 407.81,1114.07 409.73,1113.21 411.64,1112.56 413.56,1111.66 415.47,1111.59 417.39,1110.80 419.30,1110.46 421.22,1109.09 423.14,1107.25 425.06,1106.84 426.98,1104.24 428.90,1103.47 430.80,1101.95 432.70,1100.79 434.60,1099.04 436.50,1098.70 438.40,1096.72 440.32,1096.83 442.24,1098.22 444.16,1098.07 446.08,1099.28 448.00,1099.58 449.90,1101.23 451.80,1103.08 453.70,1104.21 455.60,1104.97 457.50,1106.84 459.04,1108.14 460.58,1109.30 462.12,1110.52 463.66,1112.69 465.20,1114.19 466.25,1116.47 467.30,1118.22 468.35,1119.45 469.40,1120.82 470.45,1123.32 471.50,1123.80 472.29,1125.94 473.07,1128.57 473.86,1130.62 474.65,1131.95 475.44,1134.62 476.23,1136.97 477.01,1138.24 477.80,1140.30 479.34,1141.80 480.88,1143.67 482.42,1146.40 483.96,1147.35 485.50,1149.95 486.31,1151.85 487.12,1153.38 487.93,1154.88 488.74,1157.86 489.55,1159.16 490.35,1161.02 491.16,1162.86 491.97,1165.76 492.78,1167.04 493.59,1168.73 494.40,1170.97 496.10,1172.17 497.80,1174.57 499.50,1176.02 500.45,1177.71 501.40,1180.29 502.35,1182.26 503.30,1183.02 505.00,1185.23 506.70,1186.35 508.40,1188.76 510.10,1190.03 511.80,1190.76 513.50,1192.27 514.52,1193.90 515.54,1196.84 516.56,1197.65 517.58,1199.87 518.60,1201.46 521.15,1202.65 523.70,1203.55 526.23,1203.74 528.77,1202.87 531.30,1203.76 533.34,1203.46 535.38,1204.13 537.42,1204.19 539.46,1204.48 541.50,1205.14 543.54,1205.08 545.58,1204.97 547.62,1205.53 549.66,1205.35 551.70,1204.60 553.74,1204.93 555.78,1205.25 557.82,1205.92 559.86,1205.91 561.90,1205.46 564.02,1204.80 566.15,1205.96 568.27,1205.55 570.40,1205.84 572.52,1206.11 574.65,1206.09 576.77,1205.96 578.90,1206.64 581.02,1205.99 583.15,1206.08 585.27,1206.81 587.40,1205.98 589.50,1206.20 591.60,1207.04 593.70,1206.06 595.80,1207.22 597.90,1207.11 600.00,1206.84 602.10,1206.72 604.20,1207.50 606.30,1207.77 608.40,1206.78 610.50,1207.34 612.60,1207.53 614.70,1207.54 616.80,1207.40 618.90,1207.24 621.00,1207.93 623.10,1208.34 625.33,1207.37 627.55,1207.67 629.77,1208.57 632.00,1208.61 634.23,1208.50 636.45,1207.69 638.67,1208.74 640.90,1209.17 643.17,1209.67 645.45,1209.73 647.73,1209.29 650.00,1210.88" fill="none" stroke="#ff0000" stroke-width="3.6" stroke-linejoin="round" stroke-linecap="round"/>
<polyline points="133.40,1006.71 135.30,1005.79 137.20,1004.36 139.10,1003.09 141.00,1001.76 142.90,1001.73 144.82,1002.24 146.74,1003.42 148.66,1003.66 150.58,1005.00 152.50,1005.08 154.40,1004.85 156.30,1003.77 158.20,1002.35 160.10,1001.55 162.33,1001.82 164.57,1001.20 166.80,1001.78 169.03,1002.19 171.27,1001.51 173.50,1002.32 175.73,1002.74 177.97,1003.55 180.20,1003.42 182.43,1003.66 184.67,1005.24 186.90,1005.83 188.80,1004.16 190.70,1002.50 192.60,1001.48 194.68,1002.26 196.76,1001.95 198.85,1003.05 200.93,1002.71 203.01,1002.34 205.09,1003.15 207.17,1002.91 209.25,1003.89 211.34,1004.03 213.42,1003.65 215.50,1004.00 217.69,1003.89 219.87,1003.86 222.06,1003.91 224.24,1002.40 226.43,1002.68 228.61,1002.83 230.80,1002.23 232.72,1001.67 234.63,1000.03 236.55,1000.18 238.47,998.74 240.38,997.21 242.30,997.03 244.70,996.54 247.10,996.37 249.50,996.78 251.90,996.29 253.80,995.43 255.70,995.39 257.60,994.20 259.50,992.28 261.40,992.39 262.50,989.55 263.60,988.22 264.70,987.25 265.80,985.08 266.90,982.87 268.00,981.20 269.10,979.44 271.00,977.78 272.90,977.70 274.80,975.08 275.61,973.55 276.43,971.96 277.24,969.43 278.06,968.20 278.87,965.13 279.69,964.11 280.50,961.95 281.27,959.73 282.04,958.13 282.81,955.60 283.58,954.22 284.35,952.26 285.12,949.96 285.89,947.99 286.66,946.41 287.43,944.08 288.20,941.72 289.72,940.93 291.24,938.53 292.76,937.12 294.28,935.82 295.80,933.24 296.43,931.01 297.07,929.13 297.70,927.76 298.33,925.42 298.97,923.25 299.60,921.50 300.23,920.14 300.87,917.18 301.50,915.37 302.14,913.96 302.78,911.52 303.43,908.98 304.07,907.20 304.71,905.14 305.35,902.60 305.99,900.86 306.63,898.69 307.27,897.33 307.92,894.59 308.56,892.99 309.20,891.36 310.26,889.38 311.31,886.70 312.37,885.11 313.42,882.80 314.48,881.00 315.53,879.22 316.59,877.73 317.64,876.02 318.70,873.21 319.75,871.07 320.79,869.96 321.84,867.67 322.88,865.90 323.93,865.20 324.97,862.54 326.02,861.65 327.06,859.42 328.11,858.49 329.15,856.63 330.20,853.79 331.57,852.33 332.94,851.74 334.31,849.63 335.69,847.72 337.06,846.58 338.43,844.98 339.80,842.89 341.70,841.68 343.60,839.99 345.50,839.18 347.40,837.70 349.80,838.83 352.20,839.25 353.77,837.00 355.33,836.08 356.90,833.74 358.83,835.35 360.77,837.70 362.70,839.05 364.62,840.94 366.53,841.85 368.45,843.23 370.37,843.71 372.28,845.98 374.20,846.22 375.29,848.87 376.37,851.18 377.46,853.07 378.54,854.95 379.63,856.23 380.71,858.47 381.80,860.51 382.75,861.50 383.70,864.55 384.65,866.41 385.60,867.67 386.55,870.05 387.50,871.50 388.45,873.17 389.40,875.70 390.37,876.86 391.33,879.95 392.30,882.27 393.27,883.37 394.23,886.35 395.20,887.22 396.43,890.06 397.66,891.01 398.89,893.72 400.11,894.73 401.34,897.18 402.57,897.69 403.80,899.52 405.73,901.99 407.65,903.19 409.57,904.50 411.50,905.25 413.73,906.08 415.97,906.99 418.20,907.17 419.77,910.09 421.33,911.37 422.90,913.23 424.82,911.91 426.75,910.43 428.68,909.08 430.60,909.02 432.20,906.89 433.80,906.23 435.40,904.85 437.30,906.14 439.20,906.81 440.40,904.98 441.60,903.78 442.80,901.27 444.00,900.14 446.20,899.48 448.40,899.53 450.60,899.21 452.55,897.65 454.50,895.24 458.30,895.91 459.57,894.01 460.83,892.59 462.10,891.17 464.33,889.09 466.57,887.33 468.80,886.14 470.70,886.68 472.60,887.78 474.50,888.72 476.40,889.06 478.30,889.16 480.25,891.26 482.20,893.23 484.10,894.52 486.00,895.66 487.90,897.70 489.80,898.27 491.40,900.03 493.00,901.70 494.60,903.20 495.55,905.58 496.50,907.12 497.45,909.68 498.40,912.26 500.00,912.73 501.60,914.98 503.20,916.24 504.01,917.83 504.83,919.84 505.64,922.89 506.46,924.03 507.27,926.91 508.09,928.10 508.90,930.51 510.24,931.57 511.58,933.80 512.92,935.66 514.26,936.40 515.60,938.39 516.34,940.80 517.09,941.83 517.83,943.99 518.58,946.26 519.32,948.37 520.07,949.30 520.81,951.90 521.56,953.06 522.30,954.96 523.57,958.41 524.83,959.34 526.10,962.79 527.26,964.65 528.42,966.65 529.58,968.82 530.74,970.81 531.90,972.40 533.80,974.22 535.70,975.48 537.60,978.00 539.50,979.09 541.40,980.30 543.30,980.70 545.20,982.43 546.18,983.88 547.15,986.56 548.12,988.42 549.10,990.69 551.00,991.56 552.90,992.79 554.80,994.19 556.70,993.93 558.60,995.33 560.50,995.25 562.40,996.41 564.33,995.36 566.25,995.83 568.17,993.84 570.10,994.39 572.33,994.74 574.57,994.34 576.80,995.22 579.03,994.44 581.27,994.88 583.50,995.01 585.40,996.23 587.30,997.27 589.20,999.56 591.10,997.69 593.00,997.56 594.90,996.28 597.09,996.17 599.27,996.66 601.46,996.41 603.64,997.61 605.83,996.87 608.01,997.25 610.20,997.29 612.60,996.90 615.00,996.22 617.40,995.45 619.80,994.79 622.08,996.22 624.36,995.63 626.64,996.37 628.92,997.25 631.20,997.31 633.35,997.75 635.50,997.48 637.65,996.99 639.80,996.37 641.95,996.95 644.10,996.71 646.25,997.18 648.40,996.64 650.63,996.56 652.87,996.40 655.10,995.61 657.33,995.81 659.57,995.58 661.80,994.22 664.03,995.14 666.27,994.92 668.50,994.75 670.73,993.87 672.97,993.60 675.20,993.29 677.60,992.67 680.00,992.40" fill="none" stroke="#0000ff" stroke-width="3.6" stroke-linejoin="round" stroke-linecap="round"/>
<line x1="462.40" y1="832.70" x2="390.82" y2="840.93" stroke="#000" stroke-width="2.6" stroke-linecap="round"/>
<polygon points="378.90,842.30 392.81,836.37 390.82,840.93 393.80,844.92" fill="#000" stroke="#000" stroke-width="1.8" stroke-linejoin="round"/>
<line x1="423.60" y1="1036.70" x2="351.91" y2="1045.62" stroke="#000" stroke-width="2.6" stroke-linecap="round"/>
<polygon points="340.00,1047.10 353.86,1041.04 351.91,1045.62 354.92,1049.58" fill="#000" stroke="#000" stroke-width="1.8" stroke-linejoin="round"/>
<rect x="830.50" y="694.20" width="713.40" height="555.20" fill="none" stroke="#222" stroke-width="2"/>
<line x1="830.50" y1="1249.40" x2="830.50" y2="1238.40" stroke="#222" stroke-width="2" stroke-linecap="butt"/>
<text x="805.28" y="1297.60" font-size="47.00" textLength="48.41" lengthAdjust="spacingAndGlyphs">10</text>
<line x1="949.40" y1="1249.40" x2="949.40" y2="1238.40" stroke="#222" stroke-width="2" stroke-linecap="butt"/>
<text x="924.30" y="1297.60" font-size="47.00" textLength="48.41" lengthAdjust="spacingAndGlyphs">12</text>
<line x1="1068.30" y1="1249.40" x2="1068.30" y2="1238.40" stroke="#222" stroke-width="2" stroke-linecap="butt"/>
<text x="1042.62" y="1297.60" font-size="47.00" textLength="48.41" lengthAdjust="spacingAndGlyphs">14</text>
<line x1="1187.20" y1="1249.40" x2="1187.20" y2="1238.40" stroke="#222" stroke-width="2" stroke-linecap="butt"/>
<text x="1161.76" y="1297.60" font-size="47.00" textLength="48.41" lengthAdjust="spacingAndGlyphs">16</text>
<line x1="1306.10" y1="1249.40" x2="1306.10" y2="1238.40" stroke="#222" stroke-width="2" stroke-linecap="butt"/>
<text x="1280.76" y="1297.60" font-size="47.00" textLength="48.41" lengthAdjust="spacingAndGlyphs">18</text>
<line x1="1425.00" y1="1249.40" x2="1425.00" y2="1238.40" stroke="#222" stroke-width="2" stroke-linecap="butt"/>
<text x="1400.70" y="1297.60" font-size="47.00" textLength="48.41" lengthAdjust="spacingAndGlyphs">20</text>
<line x1="1543.90" y1="1249.40" x2="1543.90" y2="1238.40" stroke="#222" stroke-width="2" stroke-linecap="butt"/>
<text x="1519.72" y="1297.60" font-size="47.00" textLength="48.41" lengthAdjust="spacingAndGlyphs">22</text>
<line x1="889.95" y1="1249.40" x2="889.95" y2="1243.80" stroke="#222" stroke-width="2" stroke-linecap="butt"/>
<line x1="1008.85" y1="1249.40" x2="1008.85" y2="1243.80" stroke="#222" stroke-width="2" stroke-linecap="butt"/>
<line x1="1127.75" y1="1249.40" x2="1127.75" y2="1243.80" stroke="#222" stroke-width="2" stroke-linecap="butt"/>
<line x1="1246.65" y1="1249.40" x2="1246.65" y2="1243.80" stroke="#222" stroke-width="2" stroke-linecap="butt"/>
<line x1="1365.55" y1="1249.40" x2="1365.55" y2="1243.80" stroke="#222" stroke-width="2" stroke-linecap="butt"/>
<line x1="1484.45" y1="1249.40" x2="1484.45" y2="1243.80" stroke="#222" stroke-width="2" stroke-linecap="butt"/>
<line x1="830.70" y1="724.50" x2="941.10" y2="724.50" stroke="#ff0000" stroke-width="3.8" stroke-linecap="round"/>
<line x1="830.70" y1="792.00" x2="941.10" y2="792.00" stroke="#0000ff" stroke-width="3.8" stroke-linecap="round"/>
<text x="952.88" y="741.00" font-size="47.00" textLength="65.90" lengthAdjust="spacingAndGlyphs">CF</text>
<text x="1018.03" y="752.40" font-size="31.00" textLength="16.92" lengthAdjust="spacingAndGlyphs">4</text>
<text x="1033.69" y="740.50" font-size="47.00" textLength="485.78" lengthAdjust="spacingAndGlyphs">-plasma treated sample</text>
<text x="955.38" y="808.50" font-size="47.00" textLength="368.08" lengthAdjust="spacingAndGlyphs">Untreated sample</text>
<text x="1299.66" y="848.80" font-size="47.00" textLength="139.87" lengthAdjust="spacingAndGlyphs">16.4eV</text>
<text x="1277.73" y="1050.00" font-size="47.00" textLength="140.90" lengthAdjust="spacingAndGlyphs">16.2eV</text>
<text x="839.90" y="1001.40" font-size="47.00" textLength="183.61" lengthAdjust="spacingAndGlyphs">(d) Hf 4f</text>
<text transform="translate(812.30,1097.50) rotate(-90)" x="-1.60" y="0" font-size="47.00" textLength="282.85" lengthAdjust="spacingAndGlyphs">Intensity (a.u)</text>
<text x="977.47" y="1339.80" font-size="47.00" textLength="418.26" lengthAdjust="spacingAndGlyphs">Binding energy (eV)</text>
<polyline points="882.60,1211.99 884.70,1211.78 886.80,1212.38 888.90,1211.69 891.00,1212.24 893.10,1212.04 895.20,1211.67 897.30,1212.21 899.40,1211.64 901.50,1212.12 903.60,1211.68 905.70,1211.35 907.80,1211.39 909.90,1211.51 912.00,1210.31 914.10,1210.07 916.20,1210.19 918.30,1210.22 920.40,1209.41 922.50,1208.84 924.60,1209.17 926.71,1207.68 928.81,1208.29 930.92,1207.23 933.03,1206.69 935.14,1206.28 937.24,1206.14 939.35,1206.38 941.46,1205.25 943.56,1205.36 945.67,1205.05 947.78,1204.36 949.89,1204.20 951.99,1203.25 954.10,1202.87 956.20,1202.73 958.30,1202.98 960.40,1202.35 962.50,1201.90 964.60,1201.90 966.70,1201.42 968.80,1200.92 970.90,1201.19 973.00,1200.76 975.10,1199.89 977.20,1200.02 979.30,1199.69 981.40,1199.84 983.50,1199.40 985.60,1198.60 987.70,1199.16 989.80,1197.85 991.90,1197.94 994.00,1198.08 996.10,1197.08 998.20,1196.65 1000.30,1195.27 1002.40,1195.18 1004.50,1194.46 1006.60,1193.39 1008.55,1193.09 1010.50,1191.75 1012.45,1191.54 1014.40,1190.76 1016.35,1190.07 1018.30,1189.26 1020.25,1189.06 1022.20,1188.52 1024.15,1187.29 1026.10,1186.85 1028.05,1185.47 1030.00,1185.57 1031.95,1184.84 1033.90,1184.59 1035.87,1183.93 1037.83,1182.82 1039.80,1182.48 1041.77,1182.36 1043.73,1181.13 1045.70,1181.19 1047.67,1180.38 1049.63,1179.86 1051.60,1179.33 1053.57,1179.72 1055.53,1178.50 1057.50,1178.18 1059.47,1177.89 1061.43,1178.01 1063.40,1176.60 1065.24,1175.90 1067.08,1174.88 1068.91,1174.15 1070.75,1172.93 1072.59,1171.85 1074.42,1170.01 1076.26,1169.04 1078.10,1167.83 1080.20,1167.80 1082.30,1167.23 1084.40,1165.61 1086.50,1164.98 1088.60,1164.39 1090.70,1163.74 1092.80,1163.38 1094.90,1162.21 1097.00,1160.52 1099.10,1158.90 1101.20,1158.10 1103.04,1156.86 1104.88,1155.90 1106.71,1155.18 1108.55,1153.68 1110.39,1152.28 1112.23,1151.22 1114.06,1150.10 1115.90,1148.16 1117.30,1147.60 1118.70,1145.89 1120.10,1144.42 1121.50,1142.76 1122.90,1140.70 1124.30,1139.13 1125.70,1137.20 1127.10,1136.26 1128.50,1134.00 1129.90,1132.43 1131.30,1131.03 1132.70,1129.39 1133.85,1127.89 1134.99,1125.83 1136.14,1124.05 1137.28,1122.51 1138.43,1120.73 1139.57,1119.33 1140.72,1117.20 1141.86,1116.50 1143.01,1114.47 1144.15,1112.20 1145.30,1110.60 1146.20,1108.62 1147.10,1106.54 1148.00,1104.15 1148.90,1102.92 1149.80,1100.99 1150.70,1098.26 1151.60,1096.18 1152.53,1093.84 1153.47,1091.99 1154.40,1090.41 1155.33,1088.45 1156.27,1087.26 1157.20,1084.59 1158.13,1082.56 1159.07,1081.81 1160.00,1079.43 1160.70,1076.96 1161.40,1075.42 1162.10,1072.78 1162.80,1071.37 1163.50,1069.89 1164.20,1067.74 1164.90,1065.52 1165.60,1062.98 1166.30,1061.09 1167.00,1058.83 1167.70,1057.54 1168.40,1055.24 1170.00,1053.68 1171.60,1051.30 1173.20,1049.32 1174.80,1048.17 1176.10,1046.58 1177.40,1044.62 1178.70,1042.77 1180.00,1040.98 1181.37,1039.02 1182.73,1036.54 1184.10,1035.02 1185.47,1032.96 1186.83,1030.70 1188.20,1028.83 1190.22,1029.64 1192.25,1030.11 1194.28,1031.13 1196.30,1031.95 1198.33,1032.70 1200.37,1034.66 1202.40,1036.09 1203.62,1037.89 1204.84,1039.02 1206.06,1040.68 1207.28,1042.53 1208.50,1044.34 1209.32,1046.37 1210.14,1048.89 1210.96,1051.24 1211.78,1053.19 1212.60,1054.78 1213.62,1056.77 1214.65,1058.73 1215.67,1059.66 1216.70,1062.14 1217.72,1064.23 1218.75,1065.86 1219.77,1067.61 1220.80,1069.07 1221.67,1070.76 1222.54,1073.53 1223.41,1075.03 1224.29,1077.63 1225.16,1079.88 1226.03,1081.23 1226.90,1083.28 1228.06,1085.68 1229.21,1087.16 1230.37,1088.23 1231.53,1089.92 1232.69,1091.70 1233.84,1094.34 1235.00,1095.97 1237.07,1096.54 1239.13,1098.73 1241.20,1100.28 1243.22,1100.49 1245.25,1100.72 1247.28,1101.56 1249.30,1101.66 1251.35,1100.39 1253.40,1100.42 1255.45,1098.90 1257.50,1097.63 1259.12,1096.50 1260.74,1094.28 1262.36,1093.19 1263.98,1091.51 1265.60,1089.15 1267.24,1087.64 1268.88,1086.13 1270.52,1084.51 1272.16,1083.36 1273.80,1081.41 1275.83,1080.73 1277.86,1079.51 1279.89,1079.58 1281.91,1078.04 1283.94,1077.29 1285.97,1076.57 1288.00,1076.09 1289.37,1077.14 1290.73,1079.37 1292.10,1080.50 1293.47,1082.17 1294.83,1083.79 1296.20,1084.82 1297.66,1086.79 1299.11,1087.93 1300.57,1089.18 1302.03,1091.59 1303.49,1092.29 1304.94,1094.11 1306.40,1095.87 1307.21,1097.71 1308.02,1099.47 1308.83,1101.74 1309.64,1103.83 1310.45,1106.14 1311.26,1107.37 1312.07,1109.95 1312.88,1111.62 1313.69,1113.69 1314.50,1116.33 1315.67,1117.75 1316.84,1119.56 1318.01,1121.54 1319.19,1123.47 1320.36,1124.65 1321.53,1126.59 1322.70,1128.21 1323.71,1129.97 1324.73,1131.95 1325.74,1133.41 1326.76,1135.27 1327.77,1136.96 1328.79,1139.27 1329.80,1140.74 1330.60,1142.99 1331.40,1145.10 1332.20,1146.31 1333.00,1148.70 1333.80,1151.20 1334.60,1153.11 1335.40,1154.30 1336.20,1156.31 1337.00,1158.73 1338.16,1160.03 1339.31,1161.97 1340.47,1163.52 1341.63,1165.97 1342.79,1167.86 1343.94,1169.73 1345.10,1170.59 1346.69,1172.50 1348.28,1173.68 1349.87,1174.30 1351.46,1176.44 1353.04,1177.78 1354.63,1178.13 1356.22,1180.25 1357.81,1180.83 1359.40,1182.18 1361.43,1183.46 1363.46,1183.94 1365.49,1183.81 1367.51,1184.80 1369.54,1185.58 1371.57,1186.04 1373.60,1186.53 1375.64,1187.13 1377.68,1188.07 1379.72,1187.67 1381.76,1188.76 1383.80,1189.08 1385.84,1189.02 1387.88,1189.85 1389.92,1190.65 1391.96,1190.96 1394.00,1190.88 1396.04,1192.29 1398.08,1192.37 1400.12,1192.90 1402.16,1192.17 1404.20,1192.67 1406.24,1192.71 1408.28,1193.90 1410.32,1193.60 1412.36,1193.75 1414.40,1194.41 1416.44,1194.99 1418.48,1194.88 1420.52,1194.21 1422.56,1194.08 1424.60,1195.00 1426.64,1194.58 1428.68,1194.74 1430.72,1194.01 1432.76,1193.97 1434.80,1194.73 1436.84,1194.41 1438.88,1193.99 1440.92,1195.03 1442.96,1194.66 1445.00,1194.86 1447.04,1194.00 1449.08,1194.93 1451.12,1193.98 1453.16,1194.94 1455.20,1194.44 1457.24,1194.41 1459.28,1194.78 1461.32,1195.34 1463.35,1194.65 1465.39,1194.59 1467.43,1195.18 1469.47,1194.94 1471.51,1194.89 1473.55,1195.06 1475.58,1195.04 1477.62,1195.33 1479.66,1195.57 1481.70,1195.67" fill="none" stroke="#ff0000" stroke-width="3.6" stroke-linejoin="round" stroke-linecap="round"/>
<polyline points="894.30,1026.37 896.34,1027.25 898.38,1026.25 900.42,1026.95 902.46,1026.20 904.50,1026.40 906.54,1027.30 908.58,1026.35 910.62,1026.87 912.66,1026.65 914.70,1026.64 916.74,1026.32 918.77,1025.59 920.81,1025.98 922.85,1024.72 924.88,1024.52 926.92,1023.89 928.95,1023.81 930.99,1023.61 933.03,1023.83 935.06,1022.83 937.10,1022.14 939.14,1021.92 941.17,1022.40 943.21,1020.90 945.24,1021.17 947.28,1020.49 949.31,1020.44 951.35,1019.66 953.39,1019.69 955.42,1019.06 957.46,1018.85 959.49,1018.76 961.53,1017.98 963.56,1017.06 965.60,1016.58 967.64,1017.48 969.68,1016.77 971.72,1016.25 973.76,1017.00 975.80,1016.39 977.84,1016.41 979.88,1016.44 981.92,1015.56 983.96,1015.49 986.00,1015.95 988.04,1014.78 990.07,1015.25 992.11,1014.17 994.15,1014.60 996.18,1014.33 998.22,1014.35 1000.25,1013.94 1002.29,1013.25 1004.33,1012.60 1006.36,1012.26 1008.40,1012.43 1010.44,1011.68 1012.49,1010.43 1014.53,1010.70 1016.57,1009.49 1018.61,1009.00 1020.66,1007.69 1022.70,1006.99 1024.59,1006.06 1026.49,1005.81 1028.38,1005.07 1030.27,1004.61 1032.16,1003.90 1034.06,1003.80 1035.95,1003.22 1037.84,1001.71 1039.74,1001.33 1041.63,1000.40 1043.52,1000.35 1045.41,1000.07 1047.31,998.49 1049.20,998.52 1051.24,997.48 1053.28,996.66 1055.32,997.09 1057.35,996.10 1059.39,995.42 1061.43,995.26 1063.47,994.54 1065.51,994.28 1067.55,993.84 1069.58,993.33 1071.62,993.06 1073.66,992.22 1075.70,991.51 1077.48,990.41 1079.25,989.35 1081.03,988.76 1082.80,987.48 1084.58,986.93 1086.35,985.48 1088.12,984.64 1089.90,983.88 1091.94,982.19 1093.99,981.55 1096.03,981.11 1098.07,980.82 1100.11,980.46 1102.16,980.08 1104.20,979.02 1105.90,978.51 1107.60,976.10 1109.30,975.85 1111.00,973.85 1112.70,973.40 1114.40,971.14 1116.14,971.23 1117.89,969.95 1119.63,969.20 1121.37,967.68 1123.11,966.17 1124.86,966.09 1126.60,964.43 1128.06,962.54 1129.51,961.71 1130.97,960.13 1132.43,958.64 1133.89,956.80 1135.34,955.30 1136.80,954.40 1138.26,952.50 1139.71,950.37 1141.17,949.00 1142.63,947.60 1144.09,945.84 1145.54,943.81 1147.00,941.97 1148.03,940.07 1149.05,938.04 1150.08,936.14 1151.10,934.57 1152.12,932.30 1153.15,931.17 1154.17,929.28 1155.20,927.30 1156.22,924.73 1157.25,923.27 1158.27,921.49 1159.30,919.21 1160.27,918.42 1161.25,916.32 1162.22,914.17 1163.19,912.56 1164.16,910.11 1165.14,908.30 1166.11,906.81 1167.08,905.23 1168.05,903.27 1169.03,900.65 1170.00,899.54 1171.05,897.79 1172.10,895.49 1173.15,893.61 1174.20,891.58 1174.77,888.66 1175.35,886.74 1175.92,885.03 1176.49,883.54 1177.06,880.80 1177.64,879.48 1178.21,877.36 1178.78,874.95 1179.35,873.07 1179.93,871.46 1180.50,869.24 1182.08,866.80 1183.65,865.61 1185.22,862.98 1186.80,861.34 1187.96,860.37 1189.12,858.56 1190.28,856.23 1191.44,854.53 1192.60,853.24 1193.76,851.83 1194.92,849.96 1196.08,848.58 1197.24,846.65 1198.40,845.09 1201.00,845.88 1203.60,846.63 1206.25,845.86 1208.90,845.09 1210.63,847.10 1212.37,849.44 1214.10,850.72 1215.36,852.16 1216.62,854.64 1217.88,855.77 1219.14,857.62 1220.40,858.94 1221.16,861.90 1221.91,863.33 1222.67,865.45 1223.43,868.17 1224.19,869.91 1224.94,871.73 1225.70,874.57 1226.89,875.71 1228.08,877.36 1229.26,879.80 1230.45,881.30 1231.64,882.96 1232.83,884.07 1234.01,886.46 1235.20,887.92 1236.10,890.30 1237.00,891.84 1237.90,894.44 1238.80,896.55 1239.70,898.17 1240.60,900.59 1241.50,902.84 1242.70,904.89 1243.90,906.60 1245.10,908.24 1246.30,909.26 1247.50,911.63 1248.70,913.52 1249.90,914.60 1252.00,914.68 1254.10,914.79 1256.20,914.46 1258.30,914.11 1260.40,914.91 1262.50,917.33 1264.60,916.34 1266.70,914.78 1268.80,913.08 1270.90,911.45 1272.30,910.98 1273.70,909.39 1275.10,907.62 1276.50,905.75 1277.90,904.78 1279.30,903.24 1280.70,901.61 1282.10,899.94 1283.50,898.08 1285.37,897.24 1287.23,896.51 1289.10,895.66 1290.97,895.08 1292.83,893.78 1294.70,893.70 1296.57,892.44 1298.43,891.40 1300.30,890.71 1301.88,892.44 1303.45,894.07 1305.02,896.06 1306.60,896.82 1307.91,898.54 1309.22,900.20 1310.54,901.64 1311.85,903.90 1313.16,904.71 1314.47,906.21 1315.79,908.39 1317.10,910.18 1317.94,912.18 1318.78,913.75 1319.62,915.36 1320.46,917.92 1321.30,919.63 1322.14,921.21 1322.98,923.21 1323.82,925.54 1324.66,927.51 1325.50,929.32 1326.55,930.11 1327.60,932.09 1328.65,933.94 1329.70,935.40 1330.75,937.86 1331.80,938.77 1332.85,941.51 1333.90,942.90 1334.95,944.69 1336.00,946.20 1337.05,948.57 1338.10,949.89 1339.50,952.38 1340.90,954.51 1342.30,956.33 1343.09,958.78 1343.88,960.29 1344.66,962.24 1345.45,964.91 1346.24,966.63 1347.02,968.47 1347.81,971.02 1348.60,972.87 1349.78,974.09 1350.96,976.57 1352.13,977.80 1353.31,980.00 1354.49,981.11 1355.67,983.22 1356.84,984.08 1358.02,985.63 1359.20,987.63 1360.83,989.09 1362.47,990.32 1364.10,991.28 1365.73,991.82 1367.37,993.31 1369.00,994.04 1370.63,995.61 1372.27,997.47 1373.90,997.92 1376.00,999.13 1378.10,999.82 1380.20,1000.03 1382.30,1001.48 1384.40,1001.53 1386.50,1002.45 1388.60,1003.71 1390.70,1003.95 1392.80,1005.28 1394.90,1004.95 1397.00,1005.52 1399.10,1006.24 1401.20,1005.53 1403.30,1006.92 1405.40,1006.09 1407.50,1007.08 1409.60,1007.47 1411.70,1008.18 1413.80,1007.64 1415.90,1008.56 1418.00,1008.41 1420.10,1008.41 1422.20,1008.25 1424.30,1008.54 1426.40,1008.91 1428.50,1009.10 1430.60,1009.34 1432.70,1010.07 1434.80,1009.55 1436.90,1009.85 1439.00,1009.15 1441.10,1009.27 1443.20,1009.95 1445.30,1010.17 1447.40,1009.48 1449.50,1009.14 1451.60,1009.38 1453.70,1009.53 1455.80,1009.54 1457.90,1009.77 1460.00,1009.46 1462.10,1009.88 1464.20,1010.04 1466.31,1010.25 1468.42,1010.41 1470.53,1010.43 1472.64,1010.25 1474.75,1011.16 1476.86,1010.71 1478.97,1011.60 1481.08,1011.32 1483.19,1011.75 1485.30,1011.80 1487.65,1011.61 1490.00,1010.86 1492.35,1010.77 1494.70,1010.58" fill="none" stroke="#0000ff" stroke-width="3.6" stroke-linejoin="round" stroke-linecap="round"/>
<line x1="1295.60" y1="826.90" x2="1223.78" y2="837.20" stroke="#000" stroke-width="2.6" stroke-linecap="round"/>
<polygon points="1211.90,838.90 1225.64,832.59 1223.78,837.20 1226.86,841.10" fill="#000" stroke="#000" stroke-width="1.8" stroke-linejoin="round"/>
<line x1="1279.90" y1="1028.30" x2="1207.48" y2="1038.70" stroke="#000" stroke-width="2.6" stroke-linecap="round"/>
<polygon points="1195.60,1040.40 1209.34,1034.08 1207.48,1038.70 1210.56,1042.60" fill="#000" stroke="#000" stroke-width="1.8" stroke-linejoin="round"/>
</svg>
</body></html>
